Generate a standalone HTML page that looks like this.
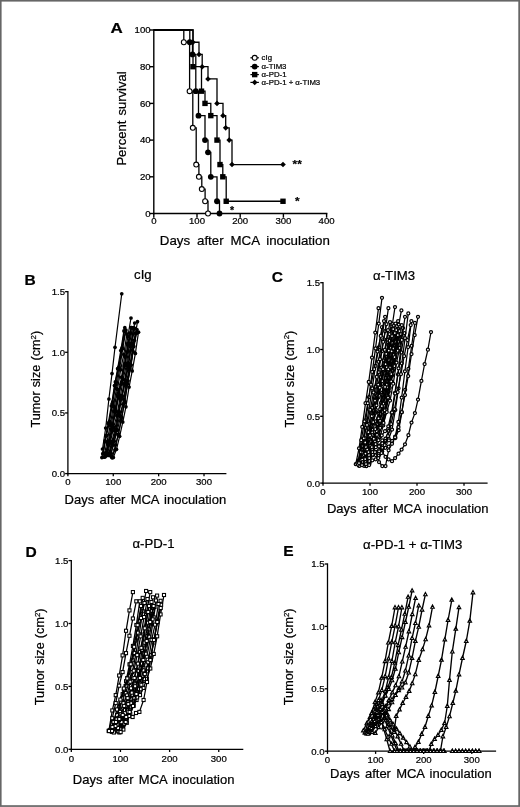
<!DOCTYPE html>
<html><head><meta charset="utf-8"><title>Figure</title>
<style>
html,body{margin:0;padding:0;background:#fff;}
#fig{position:relative;width:520px;height:807px;background:#fff;overflow:hidden;}
svg{position:absolute;left:0;top:0;font-family:"Liberation Sans", Arial, sans-serif;}
svg text{fill:#000;stroke:#000;stroke-width:0.22px;}
</style></head><body>
<div id="fig">
<svg width="520" height="807" viewBox="0 0 520 807">
<rect x="0" y="0" width="520" height="807" fill="#fff"/>
<rect x="0.75" y="0.75" width="518.4" height="805.3" fill="none" stroke="#666" stroke-width="1.7"/>
<line x1="153.80" y1="29.20" x2="153.80" y2="214.30" stroke="#000" stroke-width="1.4"/>
<line x1="153.00" y1="213.50" x2="327.40" y2="213.50" stroke="#000" stroke-width="1.4"/>
<line x1="149.60" y1="213.50" x2="153.80" y2="213.50" stroke="#000" stroke-width="1.4"/>
<text x="150.60" y="216.80" font-size="9.6" text-anchor="end" font-weight="normal" >0</text>
<line x1="149.60" y1="176.80" x2="153.80" y2="176.80" stroke="#000" stroke-width="1.4"/>
<text x="150.60" y="180.10" font-size="9.6" text-anchor="end" font-weight="normal" >20</text>
<line x1="149.60" y1="140.10" x2="153.80" y2="140.10" stroke="#000" stroke-width="1.4"/>
<text x="150.60" y="143.40" font-size="9.6" text-anchor="end" font-weight="normal" >40</text>
<line x1="149.60" y1="103.40" x2="153.80" y2="103.40" stroke="#000" stroke-width="1.4"/>
<text x="150.60" y="106.70" font-size="9.6" text-anchor="end" font-weight="normal" >60</text>
<line x1="149.60" y1="66.70" x2="153.80" y2="66.70" stroke="#000" stroke-width="1.4"/>
<text x="150.60" y="70.00" font-size="9.6" text-anchor="end" font-weight="normal" >80</text>
<line x1="149.60" y1="30.00" x2="153.80" y2="30.00" stroke="#000" stroke-width="1.4"/>
<text x="150.60" y="33.30" font-size="9.6" text-anchor="end" font-weight="normal" >100</text>
<line x1="153.80" y1="213.50" x2="153.80" y2="217.70" stroke="#000" stroke-width="1.4"/>
<text x="153.80" y="224.40" font-size="9.6" text-anchor="middle" font-weight="normal" >0</text>
<line x1="197.00" y1="213.50" x2="197.00" y2="217.70" stroke="#000" stroke-width="1.4"/>
<text x="197.00" y="224.40" font-size="9.6" text-anchor="middle" font-weight="normal" >100</text>
<line x1="240.20" y1="213.50" x2="240.20" y2="217.70" stroke="#000" stroke-width="1.4"/>
<text x="240.20" y="224.40" font-size="9.6" text-anchor="middle" font-weight="normal" >200</text>
<line x1="283.40" y1="213.50" x2="283.40" y2="217.70" stroke="#000" stroke-width="1.4"/>
<text x="283.40" y="224.40" font-size="9.6" text-anchor="middle" font-weight="normal" >300</text>
<line x1="326.60" y1="213.50" x2="326.60" y2="217.70" stroke="#000" stroke-width="1.4"/>
<text x="326.60" y="224.40" font-size="9.6" text-anchor="middle" font-weight="normal" >400</text>
<text x="244.80" y="245.40" font-size="13.3" text-anchor="middle" font-weight="normal" word-spacing="3.2">Days after MCA inoculation</text>
<text transform="translate(126.40,118.50) rotate(-90)" font-size="13" text-anchor="middle" word-spacing="1.6">Percent survival</text>
<text transform="translate(110.6,33.2) scale(1.13,1)" font-size="15" font-weight="bold">A</text>
<path d="M153.80,30.00 H183.80 V42.23 H189.60 V91.17 H192.80 V127.87 H196.20 V164.57 H198.90 V176.80 H201.80 V189.03 H205.10 V201.27 H208.00 V213.50" fill="none" stroke="#000" stroke-width="1.3" stroke-linejoin="miter"/>
<circle cx="183.80" cy="42.23" r="2.45" fill="#fff" stroke="#000" stroke-width="1.1"/>
<circle cx="189.60" cy="91.17" r="2.45" fill="#fff" stroke="#000" stroke-width="1.1"/>
<circle cx="192.80" cy="127.87" r="2.45" fill="#fff" stroke="#000" stroke-width="1.1"/>
<circle cx="196.20" cy="164.57" r="2.45" fill="#fff" stroke="#000" stroke-width="1.1"/>
<circle cx="198.90" cy="176.80" r="2.45" fill="#fff" stroke="#000" stroke-width="1.1"/>
<circle cx="201.80" cy="189.03" r="2.45" fill="#fff" stroke="#000" stroke-width="1.1"/>
<circle cx="205.10" cy="201.27" r="2.45" fill="#fff" stroke="#000" stroke-width="1.1"/>
<circle cx="208.00" cy="213.50" r="2.45" fill="#fff" stroke="#000" stroke-width="1.1"/>
<path d="M153.80,30.00 H189.80 V42.23 H192.50 V54.47 H195.80 V91.17 H198.50 V115.63 H205.00 V140.10 H208.00 V152.33 H210.80 V176.80 H217.00 V201.27 H219.50 V213.50" fill="none" stroke="#000" stroke-width="1.3" stroke-linejoin="miter"/>
<circle cx="189.80" cy="42.23" r="2.9" fill="#000"/>
<circle cx="192.50" cy="54.47" r="2.9" fill="#000"/>
<circle cx="195.80" cy="91.17" r="2.9" fill="#000"/>
<circle cx="198.50" cy="115.63" r="2.9" fill="#000"/>
<circle cx="205.00" cy="140.10" r="2.9" fill="#000"/>
<circle cx="208.00" cy="152.33" r="2.9" fill="#000"/>
<circle cx="210.80" cy="176.80" r="2.9" fill="#000"/>
<circle cx="217.00" cy="201.27" r="2.9" fill="#000"/>
<circle cx="219.50" cy="213.50" r="2.9" fill="#000"/>
<path d="M153.80,30.00 H193.00 V66.70 H201.50 V91.17 H205.00 V103.40 H210.80 V115.63 H217.00 V140.10 H220.00 V164.57 H222.80 V176.80 H226.20 V201.27 H283.00" fill="none" stroke="#000" stroke-width="1.3" stroke-linejoin="miter"/>
<rect x="190.30" y="64.00" width="5.4" height="5.4" fill="#000"/>
<rect x="198.80" y="88.47" width="5.4" height="5.4" fill="#000"/>
<rect x="202.30" y="100.70" width="5.4" height="5.4" fill="#000"/>
<rect x="208.10" y="112.93" width="5.4" height="5.4" fill="#000"/>
<rect x="214.30" y="137.40" width="5.4" height="5.4" fill="#000"/>
<rect x="217.30" y="161.87" width="5.4" height="5.4" fill="#000"/>
<rect x="220.10" y="174.10" width="5.4" height="5.4" fill="#000"/>
<rect x="223.50" y="198.57" width="5.4" height="5.4" fill="#000"/>
<rect x="280.30" y="198.57" width="5.4" height="5.4" fill="#000"/>
<path d="M153.80,30.00 H193.00 V42.23 H199.00 V54.47 H202.20 V66.70 H208.00 V78.93 H217.00 V103.40 H223.00 V115.63 H225.70 V127.87 H229.20 V140.10 H232.00 V164.57 H283.00" fill="none" stroke="#000" stroke-width="1.3" stroke-linejoin="miter"/>
<path d="M190.20,42.23 L193.00,39.43 L195.80,42.23 L193.00,45.03Z" fill="#000"/>
<path d="M196.20,54.47 L199.00,51.67 L201.80,54.47 L199.00,57.27Z" fill="#000"/>
<path d="M199.40,66.70 L202.20,63.90 L205.00,66.70 L202.20,69.50Z" fill="#000"/>
<path d="M205.20,78.93 L208.00,76.13 L210.80,78.93 L208.00,81.73Z" fill="#000"/>
<path d="M214.20,103.40 L217.00,100.60 L219.80,103.40 L217.00,106.20Z" fill="#000"/>
<path d="M220.20,115.63 L223.00,112.83 L225.80,115.63 L223.00,118.43Z" fill="#000"/>
<path d="M222.90,127.87 L225.70,125.07 L228.50,127.87 L225.70,130.67Z" fill="#000"/>
<path d="M226.40,140.10 L229.20,137.30 L232.00,140.10 L229.20,142.90Z" fill="#000"/>
<path d="M229.20,164.57 L232.00,161.77 L234.80,164.57 L232.00,167.37Z" fill="#000"/>
<path d="M280.20,164.57 L283.00,161.77 L285.80,164.57 L283.00,167.37Z" fill="#000"/>
<line x1="250.40" y1="57.80" x2="258.90" y2="57.80" stroke="#000" stroke-width="1.2"/>
<circle cx="254.70" cy="57.80" r="2.45" fill="#fff" stroke="#000" stroke-width="1.1"/>
<text x="261.60" y="60.40" font-size="7.8" text-anchor="start" font-weight="normal" >cIg</text>
<line x1="250.40" y1="66.60" x2="258.90" y2="66.60" stroke="#000" stroke-width="1.2"/>
<circle cx="254.70" cy="66.60" r="2.9" fill="#000"/>
<text x="261.60" y="69.20" font-size="7.8" text-anchor="start" font-weight="normal" >α-TIM3</text>
<line x1="250.40" y1="74.60" x2="258.90" y2="74.60" stroke="#000" stroke-width="1.2"/>
<rect x="252.00" y="71.90" width="5.4" height="5.4" fill="#000"/>
<text x="261.60" y="77.20" font-size="7.8" text-anchor="start" font-weight="normal" >α-PD-1</text>
<line x1="250.40" y1="82.40" x2="258.90" y2="82.40" stroke="#000" stroke-width="1.2"/>
<path d="M251.90,82.40 L254.70,79.60 L257.50,82.40 L254.70,85.20Z" fill="#000"/>
<text x="261.60" y="85.00" font-size="7.8" text-anchor="start" font-weight="normal" >α-PD-1 + α-TIM3</text>
<text x="292.60" y="167.70" font-size="11.8" text-anchor="start" font-weight="bold" >**</text>
<text x="295.00" y="204.60" font-size="11.8" text-anchor="start" font-weight="bold" >*</text>
<text x="230.00" y="214.30" font-size="10.5" text-anchor="start" font-weight="bold" >*</text>
<line x1="67.90" y1="291.05" x2="67.90" y2="474.20" stroke="#000" stroke-width="1.3"/>
<line x1="67.30" y1="473.60" x2="226.40" y2="473.60" stroke="#000" stroke-width="1.3"/>
<line x1="65.10" y1="473.60" x2="67.90" y2="473.60" stroke="#000" stroke-width="1.3"/>
<text x="65.00" y="477.00" font-size="9.6" text-anchor="end" font-weight="normal" >0.0</text>
<line x1="65.10" y1="412.95" x2="67.90" y2="412.95" stroke="#000" stroke-width="1.3"/>
<text x="65.00" y="416.35" font-size="9.6" text-anchor="end" font-weight="normal" >0.5</text>
<line x1="65.10" y1="352.30" x2="67.90" y2="352.30" stroke="#000" stroke-width="1.3"/>
<text x="65.00" y="355.70" font-size="9.6" text-anchor="end" font-weight="normal" >1.0</text>
<line x1="65.10" y1="291.65" x2="67.90" y2="291.65" stroke="#000" stroke-width="1.3"/>
<text x="65.00" y="295.05" font-size="9.6" text-anchor="end" font-weight="normal" >1.5</text>
<line x1="67.90" y1="473.60" x2="67.90" y2="476.30" stroke="#000" stroke-width="1.3"/>
<text x="67.90" y="484.90" font-size="9.6" text-anchor="middle" font-weight="normal" >0</text>
<line x1="113.27" y1="473.60" x2="113.27" y2="476.30" stroke="#000" stroke-width="1.3"/>
<text x="113.27" y="484.90" font-size="9.6" text-anchor="middle" font-weight="normal" >100</text>
<line x1="158.64" y1="473.60" x2="158.64" y2="476.30" stroke="#000" stroke-width="1.3"/>
<text x="158.64" y="484.90" font-size="9.6" text-anchor="middle" font-weight="normal" >200</text>
<line x1="204.01" y1="473.60" x2="204.01" y2="476.30" stroke="#000" stroke-width="1.3"/>
<text x="204.01" y="484.90" font-size="9.6" text-anchor="middle" font-weight="normal" >300</text>
<text x="142.90" y="279.20" font-size="13.2" text-anchor="middle" font-weight="normal" >cIg</text>
<text transform="translate(24.60,285.20) scale(1.08,1)" font-size="14.4" font-weight="bold">B</text>
<text transform="translate(40.10,379.20) rotate(-90)" font-size="12.7" text-anchor="middle" word-spacing="0.6">Tumor size (cm<tspan font-size="7.8" dy="-4.6">2</tspan><tspan dy="4.6">)</tspan></text>
<text x="64.60" y="503.60" font-size="13" text-anchor="start" font-weight="normal" word-spacing="1.6">Days after MCA inoculation</text>
<path d="M102.50,449.00 L105.70,428.00 L108.90,399.00 L112.00,373.60 L115.00,347.30 L121.75,293.75" fill="none" stroke="#000" stroke-width="1.2" stroke-linejoin="round"/>
<circle cx="102.50" cy="449.00" r="1.85" fill="#000"/>
<circle cx="105.70" cy="428.00" r="1.85" fill="#000"/>
<circle cx="108.90" cy="399.00" r="1.85" fill="#000"/>
<circle cx="112.00" cy="373.60" r="1.85" fill="#000"/>
<circle cx="115.00" cy="347.30" r="1.85" fill="#000"/>
<circle cx="121.75" cy="293.75" r="1.85" fill="#000"/>
<path d="M101.87,457.55 L105.02,440.96 L108.17,423.60 L111.32,405.96 L114.47,385.61 L117.62,368.67 L120.77,350.49 L123.92,330.92" fill="none" stroke="#000" stroke-width="1.2" stroke-linejoin="round"/>
<circle cx="101.87" cy="457.55" r="1.85" fill="#000"/>
<circle cx="105.02" cy="440.96" r="1.85" fill="#000"/>
<circle cx="108.17" cy="423.60" r="1.85" fill="#000"/>
<circle cx="111.32" cy="405.96" r="1.85" fill="#000"/>
<circle cx="114.47" cy="385.61" r="1.85" fill="#000"/>
<circle cx="117.62" cy="368.67" r="1.85" fill="#000"/>
<circle cx="120.77" cy="350.49" r="1.85" fill="#000"/>
<circle cx="123.92" cy="330.92" r="1.85" fill="#000"/>
<path d="M102.75,453.82 L105.90,435.79 L109.05,422.01 L112.20,403.48 L115.35,381.89 L118.50,367.97 L121.65,349.03 L124.80,327.66" fill="none" stroke="#000" stroke-width="1.2" stroke-linejoin="round"/>
<circle cx="102.75" cy="453.82" r="1.85" fill="#000"/>
<circle cx="105.90" cy="435.79" r="1.85" fill="#000"/>
<circle cx="109.05" cy="422.01" r="1.85" fill="#000"/>
<circle cx="112.20" cy="403.48" r="1.85" fill="#000"/>
<circle cx="115.35" cy="381.89" r="1.85" fill="#000"/>
<circle cx="118.50" cy="367.97" r="1.85" fill="#000"/>
<circle cx="121.65" cy="349.03" r="1.85" fill="#000"/>
<circle cx="124.80" cy="327.66" r="1.85" fill="#000"/>
<path d="M103.33,452.94 L106.48,435.46 L109.63,421.39 L112.78,401.76 L115.93,384.69 L119.08,366.89 L122.23,347.51 L125.38,331.31" fill="none" stroke="#000" stroke-width="1.2" stroke-linejoin="round"/>
<circle cx="103.33" cy="452.94" r="1.85" fill="#000"/>
<circle cx="106.48" cy="435.46" r="1.85" fill="#000"/>
<circle cx="109.63" cy="421.39" r="1.85" fill="#000"/>
<circle cx="112.78" cy="401.76" r="1.85" fill="#000"/>
<circle cx="115.93" cy="384.69" r="1.85" fill="#000"/>
<circle cx="119.08" cy="366.89" r="1.85" fill="#000"/>
<circle cx="122.23" cy="347.51" r="1.85" fill="#000"/>
<circle cx="125.38" cy="331.31" r="1.85" fill="#000"/>
<path d="M103.89,457.05 L107.04,441.79 L110.19,425.16 L113.34,406.43 L116.49,388.69 L119.64,368.71 L122.79,348.53 L125.94,330.08" fill="none" stroke="#000" stroke-width="1.2" stroke-linejoin="round"/>
<circle cx="103.89" cy="457.05" r="1.85" fill="#000"/>
<circle cx="107.04" cy="441.79" r="1.85" fill="#000"/>
<circle cx="110.19" cy="425.16" r="1.85" fill="#000"/>
<circle cx="113.34" cy="406.43" r="1.85" fill="#000"/>
<circle cx="116.49" cy="388.69" r="1.85" fill="#000"/>
<circle cx="119.64" cy="368.71" r="1.85" fill="#000"/>
<circle cx="122.79" cy="348.53" r="1.85" fill="#000"/>
<circle cx="125.94" cy="330.08" r="1.85" fill="#000"/>
<path d="M104.88,457.04 L108.03,443.52 L111.18,424.98 L114.33,407.11 L117.48,389.38 L120.63,369.81 L123.78,354.45 L126.93,333.97" fill="none" stroke="#000" stroke-width="1.2" stroke-linejoin="round"/>
<circle cx="104.88" cy="457.04" r="1.85" fill="#000"/>
<circle cx="108.03" cy="443.52" r="1.85" fill="#000"/>
<circle cx="111.18" cy="424.98" r="1.85" fill="#000"/>
<circle cx="114.33" cy="407.11" r="1.85" fill="#000"/>
<circle cx="117.48" cy="389.38" r="1.85" fill="#000"/>
<circle cx="120.63" cy="369.81" r="1.85" fill="#000"/>
<circle cx="123.78" cy="354.45" r="1.85" fill="#000"/>
<circle cx="126.93" cy="333.97" r="1.85" fill="#000"/>
<path d="M105.19,454.32 L108.34,444.51 L111.49,429.96 L114.64,410.91 L117.79,396.58 L120.94,384.28 L124.09,365.93 L127.24,352.03 L130.39,332.93" fill="none" stroke="#000" stroke-width="1.2" stroke-linejoin="round"/>
<circle cx="105.19" cy="454.32" r="1.85" fill="#000"/>
<circle cx="108.34" cy="444.51" r="1.85" fill="#000"/>
<circle cx="111.49" cy="429.96" r="1.85" fill="#000"/>
<circle cx="114.64" cy="410.91" r="1.85" fill="#000"/>
<circle cx="117.79" cy="396.58" r="1.85" fill="#000"/>
<circle cx="120.94" cy="384.28" r="1.85" fill="#000"/>
<circle cx="124.09" cy="365.93" r="1.85" fill="#000"/>
<circle cx="127.24" cy="352.03" r="1.85" fill="#000"/>
<circle cx="130.39" cy="332.93" r="1.85" fill="#000"/>
<path d="M105.86,455.78 L109.01,444.69 L112.16,427.50 L115.31,410.98 L118.46,395.95 L121.61,382.35 L124.76,364.15 L127.91,343.43 L131.06,327.51" fill="none" stroke="#000" stroke-width="1.2" stroke-linejoin="round"/>
<circle cx="105.86" cy="455.78" r="1.85" fill="#000"/>
<circle cx="109.01" cy="444.69" r="1.85" fill="#000"/>
<circle cx="112.16" cy="427.50" r="1.85" fill="#000"/>
<circle cx="115.31" cy="410.98" r="1.85" fill="#000"/>
<circle cx="118.46" cy="395.95" r="1.85" fill="#000"/>
<circle cx="121.61" cy="382.35" r="1.85" fill="#000"/>
<circle cx="124.76" cy="364.15" r="1.85" fill="#000"/>
<circle cx="127.91" cy="343.43" r="1.85" fill="#000"/>
<circle cx="131.06" cy="327.51" r="1.85" fill="#000"/>
<path d="M106.44,452.36 L109.59,442.01 L112.74,424.81 L115.89,411.60 L119.04,395.23 L122.19,377.60 L125.34,363.52 L128.49,343.35 L131.64,327.71" fill="none" stroke="#000" stroke-width="1.2" stroke-linejoin="round"/>
<circle cx="106.44" cy="452.36" r="1.85" fill="#000"/>
<circle cx="109.59" cy="442.01" r="1.85" fill="#000"/>
<circle cx="112.74" cy="424.81" r="1.85" fill="#000"/>
<circle cx="115.89" cy="411.60" r="1.85" fill="#000"/>
<circle cx="119.04" cy="395.23" r="1.85" fill="#000"/>
<circle cx="122.19" cy="377.60" r="1.85" fill="#000"/>
<circle cx="125.34" cy="363.52" r="1.85" fill="#000"/>
<circle cx="128.49" cy="343.35" r="1.85" fill="#000"/>
<circle cx="131.64" cy="327.71" r="1.85" fill="#000"/>
<path d="M107.35,454.52 L110.50,441.35 L113.65,427.43 L116.80,415.63 L119.95,398.71 L123.10,379.54 L126.25,365.28 L129.40,344.32 L132.55,327.82" fill="none" stroke="#000" stroke-width="1.2" stroke-linejoin="round"/>
<circle cx="107.35" cy="454.52" r="1.85" fill="#000"/>
<circle cx="110.50" cy="441.35" r="1.85" fill="#000"/>
<circle cx="113.65" cy="427.43" r="1.85" fill="#000"/>
<circle cx="116.80" cy="415.63" r="1.85" fill="#000"/>
<circle cx="119.95" cy="398.71" r="1.85" fill="#000"/>
<circle cx="123.10" cy="379.54" r="1.85" fill="#000"/>
<circle cx="126.25" cy="365.28" r="1.85" fill="#000"/>
<circle cx="129.40" cy="344.32" r="1.85" fill="#000"/>
<circle cx="132.55" cy="327.82" r="1.85" fill="#000"/>
<path d="M105.80,455.85 L108.95,441.39 L112.10,430.53 L115.25,410.05 L118.40,392.78 L121.55,377.14 L124.70,356.14 L127.85,336.70 L131.00,318.00" fill="none" stroke="#000" stroke-width="1.2" stroke-linejoin="round"/>
<circle cx="105.80" cy="455.85" r="1.85" fill="#000"/>
<circle cx="108.95" cy="441.39" r="1.85" fill="#000"/>
<circle cx="112.10" cy="430.53" r="1.85" fill="#000"/>
<circle cx="115.25" cy="410.05" r="1.85" fill="#000"/>
<circle cx="118.40" cy="392.78" r="1.85" fill="#000"/>
<circle cx="121.55" cy="377.14" r="1.85" fill="#000"/>
<circle cx="124.70" cy="356.14" r="1.85" fill="#000"/>
<circle cx="127.85" cy="336.70" r="1.85" fill="#000"/>
<circle cx="131.00" cy="318.00" r="1.85" fill="#000"/>
<path d="M108.35,455.50 L111.50,442.93 L114.65,430.67 L117.80,414.18 L120.95,398.34 L124.10,383.93 L127.25,364.03 L130.40,346.46 L133.55,327.63" fill="none" stroke="#000" stroke-width="1.2" stroke-linejoin="round"/>
<circle cx="108.35" cy="455.50" r="1.85" fill="#000"/>
<circle cx="111.50" cy="442.93" r="1.85" fill="#000"/>
<circle cx="114.65" cy="430.67" r="1.85" fill="#000"/>
<circle cx="117.80" cy="414.18" r="1.85" fill="#000"/>
<circle cx="120.95" cy="398.34" r="1.85" fill="#000"/>
<circle cx="124.10" cy="383.93" r="1.85" fill="#000"/>
<circle cx="127.25" cy="364.03" r="1.85" fill="#000"/>
<circle cx="130.40" cy="346.46" r="1.85" fill="#000"/>
<circle cx="133.55" cy="327.63" r="1.85" fill="#000"/>
<path d="M109.50,452.92 L112.65,444.24 L115.80,430.21 L118.95,412.47 L122.10,396.34 L125.25,382.52 L128.40,366.35 L131.55,344.93 L134.70,328.28" fill="none" stroke="#000" stroke-width="1.2" stroke-linejoin="round"/>
<circle cx="109.50" cy="452.92" r="1.85" fill="#000"/>
<circle cx="112.65" cy="444.24" r="1.85" fill="#000"/>
<circle cx="115.80" cy="430.21" r="1.85" fill="#000"/>
<circle cx="118.95" cy="412.47" r="1.85" fill="#000"/>
<circle cx="122.10" cy="396.34" r="1.85" fill="#000"/>
<circle cx="125.25" cy="382.52" r="1.85" fill="#000"/>
<circle cx="128.40" cy="366.35" r="1.85" fill="#000"/>
<circle cx="131.55" cy="344.93" r="1.85" fill="#000"/>
<circle cx="134.70" cy="328.28" r="1.85" fill="#000"/>
<path d="M110.22,455.62 L113.37,444.94 L116.52,430.16 L119.67,415.25 L122.82,404.31 L125.97,384.36 L129.12,369.72 L132.27,349.97 L135.42,333.18" fill="none" stroke="#000" stroke-width="1.2" stroke-linejoin="round"/>
<circle cx="110.22" cy="455.62" r="1.85" fill="#000"/>
<circle cx="113.37" cy="444.94" r="1.85" fill="#000"/>
<circle cx="116.52" cy="430.16" r="1.85" fill="#000"/>
<circle cx="119.67" cy="415.25" r="1.85" fill="#000"/>
<circle cx="122.82" cy="404.31" r="1.85" fill="#000"/>
<circle cx="125.97" cy="384.36" r="1.85" fill="#000"/>
<circle cx="129.12" cy="369.72" r="1.85" fill="#000"/>
<circle cx="132.27" cy="349.97" r="1.85" fill="#000"/>
<circle cx="135.42" cy="333.18" r="1.85" fill="#000"/>
<path d="M109.50,453.76 L112.65,441.42 L115.80,430.19 L118.95,411.42 L122.10,395.60 L125.25,379.77 L128.40,363.01 L131.55,342.98 L134.70,323.00" fill="none" stroke="#000" stroke-width="1.2" stroke-linejoin="round"/>
<circle cx="109.50" cy="453.76" r="1.85" fill="#000"/>
<circle cx="112.65" cy="441.42" r="1.85" fill="#000"/>
<circle cx="115.80" cy="430.19" r="1.85" fill="#000"/>
<circle cx="118.95" cy="411.42" r="1.85" fill="#000"/>
<circle cx="122.10" cy="395.60" r="1.85" fill="#000"/>
<circle cx="125.25" cy="379.77" r="1.85" fill="#000"/>
<circle cx="128.40" cy="363.01" r="1.85" fill="#000"/>
<circle cx="131.55" cy="342.98" r="1.85" fill="#000"/>
<circle cx="134.70" cy="323.00" r="1.85" fill="#000"/>
<path d="M111.16,453.22 L114.31,441.22 L117.46,429.83 L120.61,416.56 L123.76,399.41 L126.91,383.92 L130.06,368.10 L133.21,351.72 L136.36,333.42" fill="none" stroke="#000" stroke-width="1.2" stroke-linejoin="round"/>
<circle cx="111.16" cy="453.22" r="1.85" fill="#000"/>
<circle cx="114.31" cy="441.22" r="1.85" fill="#000"/>
<circle cx="117.46" cy="429.83" r="1.85" fill="#000"/>
<circle cx="120.61" cy="416.56" r="1.85" fill="#000"/>
<circle cx="123.76" cy="399.41" r="1.85" fill="#000"/>
<circle cx="126.91" cy="383.92" r="1.85" fill="#000"/>
<circle cx="130.06" cy="368.10" r="1.85" fill="#000"/>
<circle cx="133.21" cy="351.72" r="1.85" fill="#000"/>
<circle cx="136.36" cy="333.42" r="1.85" fill="#000"/>
<path d="M111.74,457.35 L114.89,449.77 L118.04,434.79 L121.19,419.92 L124.34,403.15 L127.49,383.73 L130.64,365.21 L133.79,346.43 L136.94,329.54" fill="none" stroke="#000" stroke-width="1.2" stroke-linejoin="round"/>
<circle cx="111.74" cy="457.35" r="1.85" fill="#000"/>
<circle cx="114.89" cy="449.77" r="1.85" fill="#000"/>
<circle cx="118.04" cy="434.79" r="1.85" fill="#000"/>
<circle cx="121.19" cy="419.92" r="1.85" fill="#000"/>
<circle cx="124.34" cy="403.15" r="1.85" fill="#000"/>
<circle cx="127.49" cy="383.73" r="1.85" fill="#000"/>
<circle cx="130.64" cy="365.21" r="1.85" fill="#000"/>
<circle cx="133.79" cy="346.43" r="1.85" fill="#000"/>
<circle cx="136.94" cy="329.54" r="1.85" fill="#000"/>
<path d="M112.30,457.78 L115.45,445.02 L118.60,434.01 L121.75,417.29 L124.90,401.25 L128.05,380.83 L131.20,364.98 L134.35,340.31 L137.50,321.70" fill="none" stroke="#000" stroke-width="1.2" stroke-linejoin="round"/>
<circle cx="112.30" cy="457.78" r="1.85" fill="#000"/>
<circle cx="115.45" cy="445.02" r="1.85" fill="#000"/>
<circle cx="118.60" cy="434.01" r="1.85" fill="#000"/>
<circle cx="121.75" cy="417.29" r="1.85" fill="#000"/>
<circle cx="124.90" cy="401.25" r="1.85" fill="#000"/>
<circle cx="128.05" cy="380.83" r="1.85" fill="#000"/>
<circle cx="131.20" cy="364.98" r="1.85" fill="#000"/>
<circle cx="134.35" cy="340.31" r="1.85" fill="#000"/>
<circle cx="137.50" cy="321.70" r="1.85" fill="#000"/>
<path d="M113.33,457.40 L116.48,449.28 L119.63,436.28 L122.78,422.11 L125.93,406.82 L129.08,387.06 L132.23,370.91 L135.38,353.42 L138.53,332.16" fill="none" stroke="#000" stroke-width="1.2" stroke-linejoin="round"/>
<circle cx="113.33" cy="457.40" r="1.85" fill="#000"/>
<circle cx="116.48" cy="449.28" r="1.85" fill="#000"/>
<circle cx="119.63" cy="436.28" r="1.85" fill="#000"/>
<circle cx="122.78" cy="422.11" r="1.85" fill="#000"/>
<circle cx="125.93" cy="406.82" r="1.85" fill="#000"/>
<circle cx="129.08" cy="387.06" r="1.85" fill="#000"/>
<circle cx="132.23" cy="370.91" r="1.85" fill="#000"/>
<circle cx="135.38" cy="353.42" r="1.85" fill="#000"/>
<circle cx="138.53" cy="332.16" r="1.85" fill="#000"/>
<line x1="323.00" y1="282.10" x2="323.00" y2="483.70" stroke="#000" stroke-width="1.3"/>
<line x1="322.40" y1="483.10" x2="487.60" y2="483.10" stroke="#000" stroke-width="1.3"/>
<line x1="320.20" y1="483.10" x2="323.00" y2="483.10" stroke="#000" stroke-width="1.3"/>
<text x="320.10" y="486.50" font-size="9.6" text-anchor="end" font-weight="normal" >0.0</text>
<line x1="320.20" y1="416.30" x2="323.00" y2="416.30" stroke="#000" stroke-width="1.3"/>
<text x="320.10" y="419.70" font-size="9.6" text-anchor="end" font-weight="normal" >0.5</text>
<line x1="320.20" y1="349.50" x2="323.00" y2="349.50" stroke="#000" stroke-width="1.3"/>
<text x="320.10" y="352.90" font-size="9.6" text-anchor="end" font-weight="normal" >1.0</text>
<line x1="320.20" y1="282.70" x2="323.00" y2="282.70" stroke="#000" stroke-width="1.3"/>
<text x="320.10" y="286.10" font-size="9.6" text-anchor="end" font-weight="normal" >1.5</text>
<line x1="323.00" y1="483.10" x2="323.00" y2="485.80" stroke="#000" stroke-width="1.3"/>
<text x="323.00" y="495.00" font-size="9.6" text-anchor="middle" font-weight="normal" >0</text>
<line x1="370.00" y1="483.10" x2="370.00" y2="485.80" stroke="#000" stroke-width="1.3"/>
<text x="370.00" y="495.00" font-size="9.6" text-anchor="middle" font-weight="normal" >100</text>
<line x1="417.00" y1="483.10" x2="417.00" y2="485.80" stroke="#000" stroke-width="1.3"/>
<text x="417.00" y="495.00" font-size="9.6" text-anchor="middle" font-weight="normal" >200</text>
<line x1="464.00" y1="483.10" x2="464.00" y2="485.80" stroke="#000" stroke-width="1.3"/>
<text x="464.00" y="495.00" font-size="9.6" text-anchor="middle" font-weight="normal" >300</text>
<text x="394.10" y="280.00" font-size="13.2" text-anchor="middle" font-weight="normal" >α-TIM3</text>
<text transform="translate(271.80,282.30) scale(1.08,1)" font-size="14.4" font-weight="bold">C</text>
<text transform="translate(293.80,379.10) rotate(-90)" font-size="12.7" text-anchor="middle" word-spacing="0.6">Tumor size (cm<tspan font-size="7.8" dy="-4.6">2</tspan><tspan dy="4.6">)</tspan></text>
<text x="326.90" y="513.30" font-size="13" text-anchor="start" font-weight="normal" word-spacing="1.6">Days after MCA inoculation</text>
<path d="M359.25,462.71 L362.50,444.29 L365.75,420.35 L369.00,397.19 L372.25,371.92 L375.50,348.39 L378.75,323.59 L382.00,297.80" fill="none" stroke="#000" stroke-width="1.25" stroke-linejoin="round"/>
<circle cx="359.25" cy="462.71" r="1.5" fill="#fff" stroke="#000" stroke-width="1.25"/>
<circle cx="362.50" cy="444.29" r="1.5" fill="#fff" stroke="#000" stroke-width="1.25"/>
<circle cx="365.75" cy="420.35" r="1.5" fill="#fff" stroke="#000" stroke-width="1.25"/>
<circle cx="369.00" cy="397.19" r="1.5" fill="#fff" stroke="#000" stroke-width="1.25"/>
<circle cx="372.25" cy="371.92" r="1.5" fill="#fff" stroke="#000" stroke-width="1.25"/>
<circle cx="375.50" cy="348.39" r="1.5" fill="#fff" stroke="#000" stroke-width="1.25"/>
<circle cx="378.75" cy="323.59" r="1.5" fill="#fff" stroke="#000" stroke-width="1.25"/>
<circle cx="382.00" cy="297.80" r="1.5" fill="#fff" stroke="#000" stroke-width="1.25"/>
<path d="M355.75,464.16 L359.00,448.37 L362.25,426.89 L365.50,403.15 L368.75,381.94 L372.00,357.52 L375.25,332.61 L378.50,308.20" fill="none" stroke="#000" stroke-width="1.25" stroke-linejoin="round"/>
<circle cx="355.75" cy="464.16" r="1.5" fill="#fff" stroke="#000" stroke-width="1.25"/>
<circle cx="359.00" cy="448.37" r="1.5" fill="#fff" stroke="#000" stroke-width="1.25"/>
<circle cx="362.25" cy="426.89" r="1.5" fill="#fff" stroke="#000" stroke-width="1.25"/>
<circle cx="365.50" cy="403.15" r="1.5" fill="#fff" stroke="#000" stroke-width="1.25"/>
<circle cx="368.75" cy="381.94" r="1.5" fill="#fff" stroke="#000" stroke-width="1.25"/>
<circle cx="372.00" cy="357.52" r="1.5" fill="#fff" stroke="#000" stroke-width="1.25"/>
<circle cx="375.25" cy="332.61" r="1.5" fill="#fff" stroke="#000" stroke-width="1.25"/>
<circle cx="378.50" cy="308.20" r="1.5" fill="#fff" stroke="#000" stroke-width="1.25"/>
<path d="M362.40,460.54 L365.65,447.43 L368.90,432.08 L372.15,412.93 L375.40,394.12 L378.65,372.03 L381.90,351.22 L385.15,331.16 L388.40,308.20" fill="none" stroke="#000" stroke-width="1.25" stroke-linejoin="round"/>
<circle cx="362.40" cy="460.54" r="1.5" fill="#fff" stroke="#000" stroke-width="1.25"/>
<circle cx="365.65" cy="447.43" r="1.5" fill="#fff" stroke="#000" stroke-width="1.25"/>
<circle cx="368.90" cy="432.08" r="1.5" fill="#fff" stroke="#000" stroke-width="1.25"/>
<circle cx="372.15" cy="412.93" r="1.5" fill="#fff" stroke="#000" stroke-width="1.25"/>
<circle cx="375.40" cy="394.12" r="1.5" fill="#fff" stroke="#000" stroke-width="1.25"/>
<circle cx="378.65" cy="372.03" r="1.5" fill="#fff" stroke="#000" stroke-width="1.25"/>
<circle cx="381.90" cy="351.22" r="1.5" fill="#fff" stroke="#000" stroke-width="1.25"/>
<circle cx="385.15" cy="331.16" r="1.5" fill="#fff" stroke="#000" stroke-width="1.25"/>
<circle cx="388.40" cy="308.20" r="1.5" fill="#fff" stroke="#000" stroke-width="1.25"/>
<path d="M359.25,460.07 L362.50,451.19 L365.75,443.36 L369.00,438.61 L372.25,429.93 L375.50,421.36 L378.75,412.43 L382.00,392.89 L385.25,372.96 L388.50,349.32 L391.75,328.49 L395.00,307.00" fill="none" stroke="#000" stroke-width="1.25" stroke-linejoin="round"/>
<circle cx="359.25" cy="460.07" r="1.5" fill="#fff" stroke="#000" stroke-width="1.25"/>
<circle cx="362.50" cy="451.19" r="1.5" fill="#fff" stroke="#000" stroke-width="1.25"/>
<circle cx="365.75" cy="443.36" r="1.5" fill="#fff" stroke="#000" stroke-width="1.25"/>
<circle cx="369.00" cy="438.61" r="1.5" fill="#fff" stroke="#000" stroke-width="1.25"/>
<circle cx="372.25" cy="429.93" r="1.5" fill="#fff" stroke="#000" stroke-width="1.25"/>
<circle cx="375.50" cy="421.36" r="1.5" fill="#fff" stroke="#000" stroke-width="1.25"/>
<circle cx="378.75" cy="412.43" r="1.5" fill="#fff" stroke="#000" stroke-width="1.25"/>
<circle cx="382.00" cy="392.89" r="1.5" fill="#fff" stroke="#000" stroke-width="1.25"/>
<circle cx="385.25" cy="372.96" r="1.5" fill="#fff" stroke="#000" stroke-width="1.25"/>
<circle cx="388.50" cy="349.32" r="1.5" fill="#fff" stroke="#000" stroke-width="1.25"/>
<circle cx="391.75" cy="328.49" r="1.5" fill="#fff" stroke="#000" stroke-width="1.25"/>
<circle cx="395.00" cy="307.00" r="1.5" fill="#fff" stroke="#000" stroke-width="1.25"/>
<path d="M365.65,465.94 L368.90,458.25 L372.15,449.15 L375.40,440.41 L378.65,433.82 L381.90,424.51 L385.15,408.41 L388.40,388.69 L391.65,370.28 L394.90,348.23 L398.15,328.44 L401.40,310.40" fill="none" stroke="#000" stroke-width="1.25" stroke-linejoin="round"/>
<circle cx="365.65" cy="465.94" r="1.5" fill="#fff" stroke="#000" stroke-width="1.25"/>
<circle cx="368.90" cy="458.25" r="1.5" fill="#fff" stroke="#000" stroke-width="1.25"/>
<circle cx="372.15" cy="449.15" r="1.5" fill="#fff" stroke="#000" stroke-width="1.25"/>
<circle cx="375.40" cy="440.41" r="1.5" fill="#fff" stroke="#000" stroke-width="1.25"/>
<circle cx="378.65" cy="433.82" r="1.5" fill="#fff" stroke="#000" stroke-width="1.25"/>
<circle cx="381.90" cy="424.51" r="1.5" fill="#fff" stroke="#000" stroke-width="1.25"/>
<circle cx="385.15" cy="408.41" r="1.5" fill="#fff" stroke="#000" stroke-width="1.25"/>
<circle cx="388.40" cy="388.69" r="1.5" fill="#fff" stroke="#000" stroke-width="1.25"/>
<circle cx="391.65" cy="370.28" r="1.5" fill="#fff" stroke="#000" stroke-width="1.25"/>
<circle cx="394.90" cy="348.23" r="1.5" fill="#fff" stroke="#000" stroke-width="1.25"/>
<circle cx="398.15" cy="328.44" r="1.5" fill="#fff" stroke="#000" stroke-width="1.25"/>
<circle cx="401.40" cy="310.40" r="1.5" fill="#fff" stroke="#000" stroke-width="1.25"/>
<path d="M359.10,461.79 L362.35,450.58 L365.60,438.35 L368.85,424.01 L372.10,407.83 L375.35,386.59 L378.60,361.85 L381.85,337.72 L385.10,316.80" fill="none" stroke="#000" stroke-width="1.25" stroke-linejoin="round"/>
<circle cx="359.10" cy="461.79" r="1.5" fill="#fff" stroke="#000" stroke-width="1.25"/>
<circle cx="362.35" cy="450.58" r="1.5" fill="#fff" stroke="#000" stroke-width="1.25"/>
<circle cx="365.60" cy="438.35" r="1.5" fill="#fff" stroke="#000" stroke-width="1.25"/>
<circle cx="368.85" cy="424.01" r="1.5" fill="#fff" stroke="#000" stroke-width="1.25"/>
<circle cx="372.10" cy="407.83" r="1.5" fill="#fff" stroke="#000" stroke-width="1.25"/>
<circle cx="375.35" cy="386.59" r="1.5" fill="#fff" stroke="#000" stroke-width="1.25"/>
<circle cx="378.60" cy="361.85" r="1.5" fill="#fff" stroke="#000" stroke-width="1.25"/>
<circle cx="381.85" cy="337.72" r="1.5" fill="#fff" stroke="#000" stroke-width="1.25"/>
<circle cx="385.10" cy="316.80" r="1.5" fill="#fff" stroke="#000" stroke-width="1.25"/>
<path d="M359.10,465.67 L362.35,460.01 L365.60,453.01 L368.85,448.99 L372.10,439.95 L375.35,434.47 L378.60,429.80 L381.85,420.53 L385.10,410.42 L388.35,387.97 L391.60,364.95 L394.85,341.93 L398.10,321.10" fill="none" stroke="#000" stroke-width="1.25" stroke-linejoin="round"/>
<circle cx="359.10" cy="465.67" r="1.5" fill="#fff" stroke="#000" stroke-width="1.25"/>
<circle cx="362.35" cy="460.01" r="1.5" fill="#fff" stroke="#000" stroke-width="1.25"/>
<circle cx="365.60" cy="453.01" r="1.5" fill="#fff" stroke="#000" stroke-width="1.25"/>
<circle cx="368.85" cy="448.99" r="1.5" fill="#fff" stroke="#000" stroke-width="1.25"/>
<circle cx="372.10" cy="439.95" r="1.5" fill="#fff" stroke="#000" stroke-width="1.25"/>
<circle cx="375.35" cy="434.47" r="1.5" fill="#fff" stroke="#000" stroke-width="1.25"/>
<circle cx="378.60" cy="429.80" r="1.5" fill="#fff" stroke="#000" stroke-width="1.25"/>
<circle cx="381.85" cy="420.53" r="1.5" fill="#fff" stroke="#000" stroke-width="1.25"/>
<circle cx="385.10" cy="410.42" r="1.5" fill="#fff" stroke="#000" stroke-width="1.25"/>
<circle cx="388.35" cy="387.97" r="1.5" fill="#fff" stroke="#000" stroke-width="1.25"/>
<circle cx="391.60" cy="364.95" r="1.5" fill="#fff" stroke="#000" stroke-width="1.25"/>
<circle cx="394.85" cy="341.93" r="1.5" fill="#fff" stroke="#000" stroke-width="1.25"/>
<circle cx="398.10" cy="321.10" r="1.5" fill="#fff" stroke="#000" stroke-width="1.25"/>
<path d="M359.25,462.90 L362.50,445.95 L365.75,427.84 L369.00,409.26 L372.25,388.25 L375.50,365.96 L378.75,347.28 L382.00,327.20" fill="none" stroke="#000" stroke-width="1.25" stroke-linejoin="round"/>
<circle cx="359.25" cy="462.90" r="1.5" fill="#fff" stroke="#000" stroke-width="1.25"/>
<circle cx="362.50" cy="445.95" r="1.5" fill="#fff" stroke="#000" stroke-width="1.25"/>
<circle cx="365.75" cy="427.84" r="1.5" fill="#fff" stroke="#000" stroke-width="1.25"/>
<circle cx="369.00" cy="409.26" r="1.5" fill="#fff" stroke="#000" stroke-width="1.25"/>
<circle cx="372.25" cy="388.25" r="1.5" fill="#fff" stroke="#000" stroke-width="1.25"/>
<circle cx="375.50" cy="365.96" r="1.5" fill="#fff" stroke="#000" stroke-width="1.25"/>
<circle cx="378.75" cy="347.28" r="1.5" fill="#fff" stroke="#000" stroke-width="1.25"/>
<circle cx="382.00" cy="327.20" r="1.5" fill="#fff" stroke="#000" stroke-width="1.25"/>
<path d="M359.00,460.07 L362.25,450.05 L365.50,441.68 L368.75,433.23 L372.00,425.49 L375.25,412.98 L378.50,397.46 L381.75,380.28 L385.00,361.07 L388.25,344.92 L391.50,326.00" fill="none" stroke="#000" stroke-width="1.25" stroke-linejoin="round"/>
<circle cx="359.00" cy="460.07" r="1.5" fill="#fff" stroke="#000" stroke-width="1.25"/>
<circle cx="362.25" cy="450.05" r="1.5" fill="#fff" stroke="#000" stroke-width="1.25"/>
<circle cx="365.50" cy="441.68" r="1.5" fill="#fff" stroke="#000" stroke-width="1.25"/>
<circle cx="368.75" cy="433.23" r="1.5" fill="#fff" stroke="#000" stroke-width="1.25"/>
<circle cx="372.00" cy="425.49" r="1.5" fill="#fff" stroke="#000" stroke-width="1.25"/>
<circle cx="375.25" cy="412.98" r="1.5" fill="#fff" stroke="#000" stroke-width="1.25"/>
<circle cx="378.50" cy="397.46" r="1.5" fill="#fff" stroke="#000" stroke-width="1.25"/>
<circle cx="381.75" cy="380.28" r="1.5" fill="#fff" stroke="#000" stroke-width="1.25"/>
<circle cx="385.00" cy="361.07" r="1.5" fill="#fff" stroke="#000" stroke-width="1.25"/>
<circle cx="388.25" cy="344.92" r="1.5" fill="#fff" stroke="#000" stroke-width="1.25"/>
<circle cx="391.50" cy="326.00" r="1.5" fill="#fff" stroke="#000" stroke-width="1.25"/>
<path d="M363.25,460.57 L366.50,444.58 L369.75,431.36 L373.00,417.27 L376.25,403.15 L379.50,385.52 L382.75,370.78 L386.00,356.52 L389.25,340.69 L392.50,324.00" fill="none" stroke="#000" stroke-width="1.25" stroke-linejoin="round"/>
<circle cx="363.25" cy="460.57" r="1.5" fill="#fff" stroke="#000" stroke-width="1.25"/>
<circle cx="366.50" cy="444.58" r="1.5" fill="#fff" stroke="#000" stroke-width="1.25"/>
<circle cx="369.75" cy="431.36" r="1.5" fill="#fff" stroke="#000" stroke-width="1.25"/>
<circle cx="373.00" cy="417.27" r="1.5" fill="#fff" stroke="#000" stroke-width="1.25"/>
<circle cx="376.25" cy="403.15" r="1.5" fill="#fff" stroke="#000" stroke-width="1.25"/>
<circle cx="379.50" cy="385.52" r="1.5" fill="#fff" stroke="#000" stroke-width="1.25"/>
<circle cx="382.75" cy="370.78" r="1.5" fill="#fff" stroke="#000" stroke-width="1.25"/>
<circle cx="386.00" cy="356.52" r="1.5" fill="#fff" stroke="#000" stroke-width="1.25"/>
<circle cx="389.25" cy="340.69" r="1.5" fill="#fff" stroke="#000" stroke-width="1.25"/>
<circle cx="392.50" cy="324.00" r="1.5" fill="#fff" stroke="#000" stroke-width="1.25"/>
<path d="M368.00,463.01 L371.25,451.05 L374.50,437.77 L377.75,421.03 L381.00,402.96 L384.25,381.79 L387.50,365.39 L390.75,346.57 L394.00,325.50" fill="none" stroke="#000" stroke-width="1.25" stroke-linejoin="round"/>
<circle cx="368.00" cy="463.01" r="1.5" fill="#fff" stroke="#000" stroke-width="1.25"/>
<circle cx="371.25" cy="451.05" r="1.5" fill="#fff" stroke="#000" stroke-width="1.25"/>
<circle cx="374.50" cy="437.77" r="1.5" fill="#fff" stroke="#000" stroke-width="1.25"/>
<circle cx="377.75" cy="421.03" r="1.5" fill="#fff" stroke="#000" stroke-width="1.25"/>
<circle cx="381.00" cy="402.96" r="1.5" fill="#fff" stroke="#000" stroke-width="1.25"/>
<circle cx="384.25" cy="381.79" r="1.5" fill="#fff" stroke="#000" stroke-width="1.25"/>
<circle cx="387.50" cy="365.39" r="1.5" fill="#fff" stroke="#000" stroke-width="1.25"/>
<circle cx="390.75" cy="346.57" r="1.5" fill="#fff" stroke="#000" stroke-width="1.25"/>
<circle cx="394.00" cy="325.50" r="1.5" fill="#fff" stroke="#000" stroke-width="1.25"/>
<path d="M369.50,463.49 L372.75,449.37 L376.00,432.94 L379.25,413.62 L382.50,394.52 L385.75,377.78 L389.00,360.05 L392.25,342.75 L395.50,323.50" fill="none" stroke="#000" stroke-width="1.25" stroke-linejoin="round"/>
<circle cx="369.50" cy="463.49" r="1.5" fill="#fff" stroke="#000" stroke-width="1.25"/>
<circle cx="372.75" cy="449.37" r="1.5" fill="#fff" stroke="#000" stroke-width="1.25"/>
<circle cx="376.00" cy="432.94" r="1.5" fill="#fff" stroke="#000" stroke-width="1.25"/>
<circle cx="379.25" cy="413.62" r="1.5" fill="#fff" stroke="#000" stroke-width="1.25"/>
<circle cx="382.50" cy="394.52" r="1.5" fill="#fff" stroke="#000" stroke-width="1.25"/>
<circle cx="385.75" cy="377.78" r="1.5" fill="#fff" stroke="#000" stroke-width="1.25"/>
<circle cx="389.00" cy="360.05" r="1.5" fill="#fff" stroke="#000" stroke-width="1.25"/>
<circle cx="392.25" cy="342.75" r="1.5" fill="#fff" stroke="#000" stroke-width="1.25"/>
<circle cx="395.50" cy="323.50" r="1.5" fill="#fff" stroke="#000" stroke-width="1.25"/>
<path d="M364.50,460.18 L367.75,454.66 L371.00,445.44 L374.25,439.37 L377.50,432.14 L380.75,415.32 L384.00,397.66 L387.25,380.87 L390.50,363.43 L393.75,345.63 L397.00,326.00" fill="none" stroke="#000" stroke-width="1.25" stroke-linejoin="round"/>
<circle cx="364.50" cy="460.18" r="1.5" fill="#fff" stroke="#000" stroke-width="1.25"/>
<circle cx="367.75" cy="454.66" r="1.5" fill="#fff" stroke="#000" stroke-width="1.25"/>
<circle cx="371.00" cy="445.44" r="1.5" fill="#fff" stroke="#000" stroke-width="1.25"/>
<circle cx="374.25" cy="439.37" r="1.5" fill="#fff" stroke="#000" stroke-width="1.25"/>
<circle cx="377.50" cy="432.14" r="1.5" fill="#fff" stroke="#000" stroke-width="1.25"/>
<circle cx="380.75" cy="415.32" r="1.5" fill="#fff" stroke="#000" stroke-width="1.25"/>
<circle cx="384.00" cy="397.66" r="1.5" fill="#fff" stroke="#000" stroke-width="1.25"/>
<circle cx="387.25" cy="380.87" r="1.5" fill="#fff" stroke="#000" stroke-width="1.25"/>
<circle cx="390.50" cy="363.43" r="1.5" fill="#fff" stroke="#000" stroke-width="1.25"/>
<circle cx="393.75" cy="345.63" r="1.5" fill="#fff" stroke="#000" stroke-width="1.25"/>
<circle cx="397.00" cy="326.00" r="1.5" fill="#fff" stroke="#000" stroke-width="1.25"/>
<path d="M366.30,466.15 L369.55,454.07 L372.80,444.19 L376.05,434.99 L379.30,423.24 L382.55,412.00 L385.80,395.44 L389.05,377.38 L392.30,361.07 L395.55,342.34 L398.80,324.50" fill="none" stroke="#000" stroke-width="1.25" stroke-linejoin="round"/>
<circle cx="366.30" cy="466.15" r="1.5" fill="#fff" stroke="#000" stroke-width="1.25"/>
<circle cx="369.55" cy="454.07" r="1.5" fill="#fff" stroke="#000" stroke-width="1.25"/>
<circle cx="372.80" cy="444.19" r="1.5" fill="#fff" stroke="#000" stroke-width="1.25"/>
<circle cx="376.05" cy="434.99" r="1.5" fill="#fff" stroke="#000" stroke-width="1.25"/>
<circle cx="379.30" cy="423.24" r="1.5" fill="#fff" stroke="#000" stroke-width="1.25"/>
<circle cx="382.55" cy="412.00" r="1.5" fill="#fff" stroke="#000" stroke-width="1.25"/>
<circle cx="385.80" cy="395.44" r="1.5" fill="#fff" stroke="#000" stroke-width="1.25"/>
<circle cx="389.05" cy="377.38" r="1.5" fill="#fff" stroke="#000" stroke-width="1.25"/>
<circle cx="392.30" cy="361.07" r="1.5" fill="#fff" stroke="#000" stroke-width="1.25"/>
<circle cx="395.55" cy="342.34" r="1.5" fill="#fff" stroke="#000" stroke-width="1.25"/>
<circle cx="398.80" cy="324.50" r="1.5" fill="#fff" stroke="#000" stroke-width="1.25"/>
<path d="M361.20,462.48 L364.45,453.68 L367.70,448.62 L370.95,441.46 L374.20,432.05 L377.45,424.62 L380.70,413.86 L383.95,402.39 L387.20,387.31 L390.45,372.52 L393.70,355.01 L396.95,343.58 L400.20,326.50" fill="none" stroke="#000" stroke-width="1.25" stroke-linejoin="round"/>
<circle cx="361.20" cy="462.48" r="1.5" fill="#fff" stroke="#000" stroke-width="1.25"/>
<circle cx="364.45" cy="453.68" r="1.5" fill="#fff" stroke="#000" stroke-width="1.25"/>
<circle cx="367.70" cy="448.62" r="1.5" fill="#fff" stroke="#000" stroke-width="1.25"/>
<circle cx="370.95" cy="441.46" r="1.5" fill="#fff" stroke="#000" stroke-width="1.25"/>
<circle cx="374.20" cy="432.05" r="1.5" fill="#fff" stroke="#000" stroke-width="1.25"/>
<circle cx="377.45" cy="424.62" r="1.5" fill="#fff" stroke="#000" stroke-width="1.25"/>
<circle cx="380.70" cy="413.86" r="1.5" fill="#fff" stroke="#000" stroke-width="1.25"/>
<circle cx="383.95" cy="402.39" r="1.5" fill="#fff" stroke="#000" stroke-width="1.25"/>
<circle cx="387.20" cy="387.31" r="1.5" fill="#fff" stroke="#000" stroke-width="1.25"/>
<circle cx="390.45" cy="372.52" r="1.5" fill="#fff" stroke="#000" stroke-width="1.25"/>
<circle cx="393.70" cy="355.01" r="1.5" fill="#fff" stroke="#000" stroke-width="1.25"/>
<circle cx="396.95" cy="343.58" r="1.5" fill="#fff" stroke="#000" stroke-width="1.25"/>
<circle cx="400.20" cy="326.50" r="1.5" fill="#fff" stroke="#000" stroke-width="1.25"/>
<path d="M362.80,462.60 L366.05,456.14 L369.30,450.52 L372.55,441.60 L375.80,437.06 L379.05,430.14 L382.30,423.83 L385.55,410.55 L388.80,391.61 L392.05,375.54 L395.30,357.27 L398.55,341.62 L401.80,325.00" fill="none" stroke="#000" stroke-width="1.25" stroke-linejoin="round"/>
<circle cx="362.80" cy="462.60" r="1.5" fill="#fff" stroke="#000" stroke-width="1.25"/>
<circle cx="366.05" cy="456.14" r="1.5" fill="#fff" stroke="#000" stroke-width="1.25"/>
<circle cx="369.30" cy="450.52" r="1.5" fill="#fff" stroke="#000" stroke-width="1.25"/>
<circle cx="372.55" cy="441.60" r="1.5" fill="#fff" stroke="#000" stroke-width="1.25"/>
<circle cx="375.80" cy="437.06" r="1.5" fill="#fff" stroke="#000" stroke-width="1.25"/>
<circle cx="379.05" cy="430.14" r="1.5" fill="#fff" stroke="#000" stroke-width="1.25"/>
<circle cx="382.30" cy="423.83" r="1.5" fill="#fff" stroke="#000" stroke-width="1.25"/>
<circle cx="385.55" cy="410.55" r="1.5" fill="#fff" stroke="#000" stroke-width="1.25"/>
<circle cx="388.80" cy="391.61" r="1.5" fill="#fff" stroke="#000" stroke-width="1.25"/>
<circle cx="392.05" cy="375.54" r="1.5" fill="#fff" stroke="#000" stroke-width="1.25"/>
<circle cx="395.30" cy="357.27" r="1.5" fill="#fff" stroke="#000" stroke-width="1.25"/>
<circle cx="398.55" cy="341.62" r="1.5" fill="#fff" stroke="#000" stroke-width="1.25"/>
<circle cx="401.80" cy="325.00" r="1.5" fill="#fff" stroke="#000" stroke-width="1.25"/>
<path d="M363.95,465.85 L367.20,455.62 L370.45,448.32 L373.70,440.05 L376.95,424.16 L380.20,409.18 L383.45,386.39 L386.70,367.31 L389.95,347.68 L393.20,329.00" fill="none" stroke="#000" stroke-width="1.25" stroke-linejoin="round"/>
<circle cx="363.95" cy="465.85" r="1.5" fill="#fff" stroke="#000" stroke-width="1.25"/>
<circle cx="367.20" cy="455.62" r="1.5" fill="#fff" stroke="#000" stroke-width="1.25"/>
<circle cx="370.45" cy="448.32" r="1.5" fill="#fff" stroke="#000" stroke-width="1.25"/>
<circle cx="373.70" cy="440.05" r="1.5" fill="#fff" stroke="#000" stroke-width="1.25"/>
<circle cx="376.95" cy="424.16" r="1.5" fill="#fff" stroke="#000" stroke-width="1.25"/>
<circle cx="380.20" cy="409.18" r="1.5" fill="#fff" stroke="#000" stroke-width="1.25"/>
<circle cx="383.45" cy="386.39" r="1.5" fill="#fff" stroke="#000" stroke-width="1.25"/>
<circle cx="386.70" cy="367.31" r="1.5" fill="#fff" stroke="#000" stroke-width="1.25"/>
<circle cx="389.95" cy="347.68" r="1.5" fill="#fff" stroke="#000" stroke-width="1.25"/>
<circle cx="393.20" cy="329.00" r="1.5" fill="#fff" stroke="#000" stroke-width="1.25"/>
<path d="M367.05,462.09 L370.30,450.72 L373.55,443.44 L376.80,431.21 L380.05,420.84 L383.30,403.52 L386.55,384.74 L389.80,367.42 L393.05,348.40 L396.30,330.00" fill="none" stroke="#000" stroke-width="1.25" stroke-linejoin="round"/>
<circle cx="367.05" cy="462.09" r="1.5" fill="#fff" stroke="#000" stroke-width="1.25"/>
<circle cx="370.30" cy="450.72" r="1.5" fill="#fff" stroke="#000" stroke-width="1.25"/>
<circle cx="373.55" cy="443.44" r="1.5" fill="#fff" stroke="#000" stroke-width="1.25"/>
<circle cx="376.80" cy="431.21" r="1.5" fill="#fff" stroke="#000" stroke-width="1.25"/>
<circle cx="380.05" cy="420.84" r="1.5" fill="#fff" stroke="#000" stroke-width="1.25"/>
<circle cx="383.30" cy="403.52" r="1.5" fill="#fff" stroke="#000" stroke-width="1.25"/>
<circle cx="386.55" cy="384.74" r="1.5" fill="#fff" stroke="#000" stroke-width="1.25"/>
<circle cx="389.80" cy="367.42" r="1.5" fill="#fff" stroke="#000" stroke-width="1.25"/>
<circle cx="393.05" cy="348.40" r="1.5" fill="#fff" stroke="#000" stroke-width="1.25"/>
<circle cx="396.30" cy="330.00" r="1.5" fill="#fff" stroke="#000" stroke-width="1.25"/>
<path d="M363.75,462.69 L367.00,456.31 L370.25,452.82 L373.50,447.65 L376.75,442.02 L380.00,437.10 L383.25,425.41 L386.50,409.62 L389.75,387.82 L393.00,370.56 L396.25,351.54 L399.50,331.00" fill="none" stroke="#000" stroke-width="1.25" stroke-linejoin="round"/>
<circle cx="363.75" cy="462.69" r="1.5" fill="#fff" stroke="#000" stroke-width="1.25"/>
<circle cx="367.00" cy="456.31" r="1.5" fill="#fff" stroke="#000" stroke-width="1.25"/>
<circle cx="370.25" cy="452.82" r="1.5" fill="#fff" stroke="#000" stroke-width="1.25"/>
<circle cx="373.50" cy="447.65" r="1.5" fill="#fff" stroke="#000" stroke-width="1.25"/>
<circle cx="376.75" cy="442.02" r="1.5" fill="#fff" stroke="#000" stroke-width="1.25"/>
<circle cx="380.00" cy="437.10" r="1.5" fill="#fff" stroke="#000" stroke-width="1.25"/>
<circle cx="383.25" cy="425.41" r="1.5" fill="#fff" stroke="#000" stroke-width="1.25"/>
<circle cx="386.50" cy="409.62" r="1.5" fill="#fff" stroke="#000" stroke-width="1.25"/>
<circle cx="389.75" cy="387.82" r="1.5" fill="#fff" stroke="#000" stroke-width="1.25"/>
<circle cx="393.00" cy="370.56" r="1.5" fill="#fff" stroke="#000" stroke-width="1.25"/>
<circle cx="396.25" cy="351.54" r="1.5" fill="#fff" stroke="#000" stroke-width="1.25"/>
<circle cx="399.50" cy="331.00" r="1.5" fill="#fff" stroke="#000" stroke-width="1.25"/>
<path d="M364.00,462.05 L367.25,445.27 L370.50,432.74 L373.75,415.97 L377.00,395.20 L380.25,377.02 L383.50,360.28 L386.75,339.73 L390.00,322.00" fill="none" stroke="#000" stroke-width="1.25" stroke-linejoin="round"/>
<circle cx="364.00" cy="462.05" r="1.5" fill="#fff" stroke="#000" stroke-width="1.25"/>
<circle cx="367.25" cy="445.27" r="1.5" fill="#fff" stroke="#000" stroke-width="1.25"/>
<circle cx="370.50" cy="432.74" r="1.5" fill="#fff" stroke="#000" stroke-width="1.25"/>
<circle cx="373.75" cy="415.97" r="1.5" fill="#fff" stroke="#000" stroke-width="1.25"/>
<circle cx="377.00" cy="395.20" r="1.5" fill="#fff" stroke="#000" stroke-width="1.25"/>
<circle cx="380.25" cy="377.02" r="1.5" fill="#fff" stroke="#000" stroke-width="1.25"/>
<circle cx="383.50" cy="360.28" r="1.5" fill="#fff" stroke="#000" stroke-width="1.25"/>
<circle cx="386.75" cy="339.73" r="1.5" fill="#fff" stroke="#000" stroke-width="1.25"/>
<circle cx="390.00" cy="322.00" r="1.5" fill="#fff" stroke="#000" stroke-width="1.25"/>
<path d="M358.75,465.41 L362.00,452.62 L365.25,442.44 L368.50,432.13 L371.75,416.22 L375.00,400.54 L378.25,384.53 L381.50,367.51 L384.75,349.81 L388.00,330.00" fill="none" stroke="#000" stroke-width="1.25" stroke-linejoin="round"/>
<circle cx="358.75" cy="465.41" r="1.5" fill="#fff" stroke="#000" stroke-width="1.25"/>
<circle cx="362.00" cy="452.62" r="1.5" fill="#fff" stroke="#000" stroke-width="1.25"/>
<circle cx="365.25" cy="442.44" r="1.5" fill="#fff" stroke="#000" stroke-width="1.25"/>
<circle cx="368.50" cy="432.13" r="1.5" fill="#fff" stroke="#000" stroke-width="1.25"/>
<circle cx="371.75" cy="416.22" r="1.5" fill="#fff" stroke="#000" stroke-width="1.25"/>
<circle cx="375.00" cy="400.54" r="1.5" fill="#fff" stroke="#000" stroke-width="1.25"/>
<circle cx="378.25" cy="384.53" r="1.5" fill="#fff" stroke="#000" stroke-width="1.25"/>
<circle cx="381.50" cy="367.51" r="1.5" fill="#fff" stroke="#000" stroke-width="1.25"/>
<circle cx="384.75" cy="349.81" r="1.5" fill="#fff" stroke="#000" stroke-width="1.25"/>
<circle cx="388.00" cy="330.00" r="1.5" fill="#fff" stroke="#000" stroke-width="1.25"/>
<path d="M357.25,463.29 L360.50,452.17 L363.75,438.32 L367.00,424.97 L370.25,409.81 L373.50,392.39 L376.75,376.89 L380.00,359.18 L383.25,341.84 L386.50,324.00" fill="none" stroke="#000" stroke-width="1.25" stroke-linejoin="round"/>
<circle cx="357.25" cy="463.29" r="1.5" fill="#fff" stroke="#000" stroke-width="1.25"/>
<circle cx="360.50" cy="452.17" r="1.5" fill="#fff" stroke="#000" stroke-width="1.25"/>
<circle cx="363.75" cy="438.32" r="1.5" fill="#fff" stroke="#000" stroke-width="1.25"/>
<circle cx="367.00" cy="424.97" r="1.5" fill="#fff" stroke="#000" stroke-width="1.25"/>
<circle cx="370.25" cy="409.81" r="1.5" fill="#fff" stroke="#000" stroke-width="1.25"/>
<circle cx="373.50" cy="392.39" r="1.5" fill="#fff" stroke="#000" stroke-width="1.25"/>
<circle cx="376.75" cy="376.89" r="1.5" fill="#fff" stroke="#000" stroke-width="1.25"/>
<circle cx="380.00" cy="359.18" r="1.5" fill="#fff" stroke="#000" stroke-width="1.25"/>
<circle cx="383.25" cy="341.84" r="1.5" fill="#fff" stroke="#000" stroke-width="1.25"/>
<circle cx="386.50" cy="324.00" r="1.5" fill="#fff" stroke="#000" stroke-width="1.25"/>
<path d="M359.05,461.20 L362.30,456.37 L365.55,449.33 L368.80,439.22 L372.05,432.29 L375.30,429.06 L378.55,418.36 L381.80,406.02 L385.05,386.95 L388.30,369.30 L391.55,351.28 L394.80,333.00" fill="none" stroke="#000" stroke-width="1.25" stroke-linejoin="round"/>
<circle cx="359.05" cy="461.20" r="1.5" fill="#fff" stroke="#000" stroke-width="1.25"/>
<circle cx="362.30" cy="456.37" r="1.5" fill="#fff" stroke="#000" stroke-width="1.25"/>
<circle cx="365.55" cy="449.33" r="1.5" fill="#fff" stroke="#000" stroke-width="1.25"/>
<circle cx="368.80" cy="439.22" r="1.5" fill="#fff" stroke="#000" stroke-width="1.25"/>
<circle cx="372.05" cy="432.29" r="1.5" fill="#fff" stroke="#000" stroke-width="1.25"/>
<circle cx="375.30" cy="429.06" r="1.5" fill="#fff" stroke="#000" stroke-width="1.25"/>
<circle cx="378.55" cy="418.36" r="1.5" fill="#fff" stroke="#000" stroke-width="1.25"/>
<circle cx="381.80" cy="406.02" r="1.5" fill="#fff" stroke="#000" stroke-width="1.25"/>
<circle cx="385.05" cy="386.95" r="1.5" fill="#fff" stroke="#000" stroke-width="1.25"/>
<circle cx="388.30" cy="369.30" r="1.5" fill="#fff" stroke="#000" stroke-width="1.25"/>
<circle cx="391.55" cy="351.28" r="1.5" fill="#fff" stroke="#000" stroke-width="1.25"/>
<circle cx="394.80" cy="333.00" r="1.5" fill="#fff" stroke="#000" stroke-width="1.25"/>
<path d="M362.05,463.91 L365.30,459.25 L368.55,450.56 L371.80,445.62 L375.05,440.72 L378.30,433.35 L381.55,425.28 L384.80,413.12 L388.05,396.45 L391.30,374.00 L394.55,357.04 L397.80,335.00" fill="none" stroke="#000" stroke-width="1.25" stroke-linejoin="round"/>
<circle cx="362.05" cy="463.91" r="1.5" fill="#fff" stroke="#000" stroke-width="1.25"/>
<circle cx="365.30" cy="459.25" r="1.5" fill="#fff" stroke="#000" stroke-width="1.25"/>
<circle cx="368.55" cy="450.56" r="1.5" fill="#fff" stroke="#000" stroke-width="1.25"/>
<circle cx="371.80" cy="445.62" r="1.5" fill="#fff" stroke="#000" stroke-width="1.25"/>
<circle cx="375.05" cy="440.72" r="1.5" fill="#fff" stroke="#000" stroke-width="1.25"/>
<circle cx="378.30" cy="433.35" r="1.5" fill="#fff" stroke="#000" stroke-width="1.25"/>
<circle cx="381.55" cy="425.28" r="1.5" fill="#fff" stroke="#000" stroke-width="1.25"/>
<circle cx="384.80" cy="413.12" r="1.5" fill="#fff" stroke="#000" stroke-width="1.25"/>
<circle cx="388.05" cy="396.45" r="1.5" fill="#fff" stroke="#000" stroke-width="1.25"/>
<circle cx="391.30" cy="374.00" r="1.5" fill="#fff" stroke="#000" stroke-width="1.25"/>
<circle cx="394.55" cy="357.04" r="1.5" fill="#fff" stroke="#000" stroke-width="1.25"/>
<circle cx="397.80" cy="335.00" r="1.5" fill="#fff" stroke="#000" stroke-width="1.25"/>
<path d="M365.25,464.58 L368.50,456.50 L371.75,449.59 L375.00,441.51 L378.25,435.73 L381.50,425.58 L384.75,410.26 L388.00,397.59 L391.25,381.43 L394.50,366.08 L397.75,350.74 L401.00,334.00" fill="none" stroke="#000" stroke-width="1.25" stroke-linejoin="round"/>
<circle cx="365.25" cy="464.58" r="1.5" fill="#fff" stroke="#000" stroke-width="1.25"/>
<circle cx="368.50" cy="456.50" r="1.5" fill="#fff" stroke="#000" stroke-width="1.25"/>
<circle cx="371.75" cy="449.59" r="1.5" fill="#fff" stroke="#000" stroke-width="1.25"/>
<circle cx="375.00" cy="441.51" r="1.5" fill="#fff" stroke="#000" stroke-width="1.25"/>
<circle cx="378.25" cy="435.73" r="1.5" fill="#fff" stroke="#000" stroke-width="1.25"/>
<circle cx="381.50" cy="425.58" r="1.5" fill="#fff" stroke="#000" stroke-width="1.25"/>
<circle cx="384.75" cy="410.26" r="1.5" fill="#fff" stroke="#000" stroke-width="1.25"/>
<circle cx="388.00" cy="397.59" r="1.5" fill="#fff" stroke="#000" stroke-width="1.25"/>
<circle cx="391.25" cy="381.43" r="1.5" fill="#fff" stroke="#000" stroke-width="1.25"/>
<circle cx="394.50" cy="366.08" r="1.5" fill="#fff" stroke="#000" stroke-width="1.25"/>
<circle cx="397.75" cy="350.74" r="1.5" fill="#fff" stroke="#000" stroke-width="1.25"/>
<circle cx="401.00" cy="334.00" r="1.5" fill="#fff" stroke="#000" stroke-width="1.25"/>
<path d="M359.50,465.83 L362.75,456.97 L366.00,447.03 L369.25,435.66 L372.50,425.80 L375.75,409.57 L379.00,395.67 L382.25,381.10 L385.50,364.19 L388.75,350.50 L392.00,336.00" fill="none" stroke="#000" stroke-width="1.25" stroke-linejoin="round"/>
<circle cx="359.50" cy="465.83" r="1.5" fill="#fff" stroke="#000" stroke-width="1.25"/>
<circle cx="362.75" cy="456.97" r="1.5" fill="#fff" stroke="#000" stroke-width="1.25"/>
<circle cx="366.00" cy="447.03" r="1.5" fill="#fff" stroke="#000" stroke-width="1.25"/>
<circle cx="369.25" cy="435.66" r="1.5" fill="#fff" stroke="#000" stroke-width="1.25"/>
<circle cx="372.50" cy="425.80" r="1.5" fill="#fff" stroke="#000" stroke-width="1.25"/>
<circle cx="375.75" cy="409.57" r="1.5" fill="#fff" stroke="#000" stroke-width="1.25"/>
<circle cx="379.00" cy="395.67" r="1.5" fill="#fff" stroke="#000" stroke-width="1.25"/>
<circle cx="382.25" cy="381.10" r="1.5" fill="#fff" stroke="#000" stroke-width="1.25"/>
<circle cx="385.50" cy="364.19" r="1.5" fill="#fff" stroke="#000" stroke-width="1.25"/>
<circle cx="388.75" cy="350.50" r="1.5" fill="#fff" stroke="#000" stroke-width="1.25"/>
<circle cx="392.00" cy="336.00" r="1.5" fill="#fff" stroke="#000" stroke-width="1.25"/>
<path d="M363.50,464.06 L366.75,450.73 L370.00,435.42 L373.25,422.01 L376.50,405.30 L379.75,387.58 L383.00,369.19 L386.25,353.82 L389.50,334.00" fill="none" stroke="#000" stroke-width="1.25" stroke-linejoin="round"/>
<circle cx="363.50" cy="464.06" r="1.5" fill="#fff" stroke="#000" stroke-width="1.25"/>
<circle cx="366.75" cy="450.73" r="1.5" fill="#fff" stroke="#000" stroke-width="1.25"/>
<circle cx="370.00" cy="435.42" r="1.5" fill="#fff" stroke="#000" stroke-width="1.25"/>
<circle cx="373.25" cy="422.01" r="1.5" fill="#fff" stroke="#000" stroke-width="1.25"/>
<circle cx="376.50" cy="405.30" r="1.5" fill="#fff" stroke="#000" stroke-width="1.25"/>
<circle cx="379.75" cy="387.58" r="1.5" fill="#fff" stroke="#000" stroke-width="1.25"/>
<circle cx="383.00" cy="369.19" r="1.5" fill="#fff" stroke="#000" stroke-width="1.25"/>
<circle cx="386.25" cy="353.82" r="1.5" fill="#fff" stroke="#000" stroke-width="1.25"/>
<circle cx="389.50" cy="334.00" r="1.5" fill="#fff" stroke="#000" stroke-width="1.25"/>
<path d="M358.00,464.56 L361.25,440.24 L364.50,421.32 L367.75,403.20 L371.00,384.66 L374.25,369.08 L377.50,351.52 L380.75,335.94 L384.00,321.00" fill="none" stroke="#000" stroke-width="1.25" stroke-linejoin="round"/>
<circle cx="358.00" cy="464.56" r="1.5" fill="#fff" stroke="#000" stroke-width="1.25"/>
<circle cx="361.25" cy="440.24" r="1.5" fill="#fff" stroke="#000" stroke-width="1.25"/>
<circle cx="364.50" cy="421.32" r="1.5" fill="#fff" stroke="#000" stroke-width="1.25"/>
<circle cx="367.75" cy="403.20" r="1.5" fill="#fff" stroke="#000" stroke-width="1.25"/>
<circle cx="371.00" cy="384.66" r="1.5" fill="#fff" stroke="#000" stroke-width="1.25"/>
<circle cx="374.25" cy="369.08" r="1.5" fill="#fff" stroke="#000" stroke-width="1.25"/>
<circle cx="377.50" cy="351.52" r="1.5" fill="#fff" stroke="#000" stroke-width="1.25"/>
<circle cx="380.75" cy="335.94" r="1.5" fill="#fff" stroke="#000" stroke-width="1.25"/>
<circle cx="384.00" cy="321.00" r="1.5" fill="#fff" stroke="#000" stroke-width="1.25"/>
<path d="M360.75,460.64 L364.00,455.28 L367.25,449.55 L370.50,445.83 L373.75,438.67 L377.00,434.82 L380.25,427.84 L383.50,422.96 L386.75,412.03 L390.00,400.52 L393.25,383.68 L396.50,362.61 L399.75,347.93 L403.00,328.00" fill="none" stroke="#000" stroke-width="1.25" stroke-linejoin="round"/>
<circle cx="360.75" cy="460.64" r="1.5" fill="#fff" stroke="#000" stroke-width="1.25"/>
<circle cx="364.00" cy="455.28" r="1.5" fill="#fff" stroke="#000" stroke-width="1.25"/>
<circle cx="367.25" cy="449.55" r="1.5" fill="#fff" stroke="#000" stroke-width="1.25"/>
<circle cx="370.50" cy="445.83" r="1.5" fill="#fff" stroke="#000" stroke-width="1.25"/>
<circle cx="373.75" cy="438.67" r="1.5" fill="#fff" stroke="#000" stroke-width="1.25"/>
<circle cx="377.00" cy="434.82" r="1.5" fill="#fff" stroke="#000" stroke-width="1.25"/>
<circle cx="380.25" cy="427.84" r="1.5" fill="#fff" stroke="#000" stroke-width="1.25"/>
<circle cx="383.50" cy="422.96" r="1.5" fill="#fff" stroke="#000" stroke-width="1.25"/>
<circle cx="386.75" cy="412.03" r="1.5" fill="#fff" stroke="#000" stroke-width="1.25"/>
<circle cx="390.00" cy="400.52" r="1.5" fill="#fff" stroke="#000" stroke-width="1.25"/>
<circle cx="393.25" cy="383.68" r="1.5" fill="#fff" stroke="#000" stroke-width="1.25"/>
<circle cx="396.50" cy="362.61" r="1.5" fill="#fff" stroke="#000" stroke-width="1.25"/>
<circle cx="399.75" cy="347.93" r="1.5" fill="#fff" stroke="#000" stroke-width="1.25"/>
<circle cx="403.00" cy="328.00" r="1.5" fill="#fff" stroke="#000" stroke-width="1.25"/>
<path d="M359.00,463.07 L362.25,459.64 L365.50,453.56 L368.75,453.23 L372.00,447.26 L375.25,443.81 L378.50,440.22 L381.75,435.42 L385.00,431.23 L388.25,426.29 L391.50,412.85 L394.75,393.01 L398.00,374.45 L401.25,352.47 L404.50,333.00" fill="none" stroke="#000" stroke-width="1.25" stroke-linejoin="round"/>
<circle cx="359.00" cy="463.07" r="1.5" fill="#fff" stroke="#000" stroke-width="1.25"/>
<circle cx="362.25" cy="459.64" r="1.5" fill="#fff" stroke="#000" stroke-width="1.25"/>
<circle cx="365.50" cy="453.56" r="1.5" fill="#fff" stroke="#000" stroke-width="1.25"/>
<circle cx="368.75" cy="453.23" r="1.5" fill="#fff" stroke="#000" stroke-width="1.25"/>
<circle cx="372.00" cy="447.26" r="1.5" fill="#fff" stroke="#000" stroke-width="1.25"/>
<circle cx="375.25" cy="443.81" r="1.5" fill="#fff" stroke="#000" stroke-width="1.25"/>
<circle cx="378.50" cy="440.22" r="1.5" fill="#fff" stroke="#000" stroke-width="1.25"/>
<circle cx="381.75" cy="435.42" r="1.5" fill="#fff" stroke="#000" stroke-width="1.25"/>
<circle cx="385.00" cy="431.23" r="1.5" fill="#fff" stroke="#000" stroke-width="1.25"/>
<circle cx="388.25" cy="426.29" r="1.5" fill="#fff" stroke="#000" stroke-width="1.25"/>
<circle cx="391.50" cy="412.85" r="1.5" fill="#fff" stroke="#000" stroke-width="1.25"/>
<circle cx="394.75" cy="393.01" r="1.5" fill="#fff" stroke="#000" stroke-width="1.25"/>
<circle cx="398.00" cy="374.45" r="1.5" fill="#fff" stroke="#000" stroke-width="1.25"/>
<circle cx="401.25" cy="352.47" r="1.5" fill="#fff" stroke="#000" stroke-width="1.25"/>
<circle cx="404.50" cy="333.00" r="1.5" fill="#fff" stroke="#000" stroke-width="1.25"/>
<path d="M362.75,464.00 L366.00,458.19 L369.25,455.26 L372.50,450.58 L375.75,447.18 L379.00,445.71 L382.25,440.39 L385.50,438.55 L388.75,430.86 L392.00,412.49 L395.25,393.39 L398.50,368.33 L401.75,339.97 L405.00,316.80" fill="none" stroke="#000" stroke-width="1.25" stroke-linejoin="round"/>
<circle cx="362.75" cy="464.00" r="1.5" fill="#fff" stroke="#000" stroke-width="1.25"/>
<circle cx="366.00" cy="458.19" r="1.5" fill="#fff" stroke="#000" stroke-width="1.25"/>
<circle cx="369.25" cy="455.26" r="1.5" fill="#fff" stroke="#000" stroke-width="1.25"/>
<circle cx="372.50" cy="450.58" r="1.5" fill="#fff" stroke="#000" stroke-width="1.25"/>
<circle cx="375.75" cy="447.18" r="1.5" fill="#fff" stroke="#000" stroke-width="1.25"/>
<circle cx="379.00" cy="445.71" r="1.5" fill="#fff" stroke="#000" stroke-width="1.25"/>
<circle cx="382.25" cy="440.39" r="1.5" fill="#fff" stroke="#000" stroke-width="1.25"/>
<circle cx="385.50" cy="438.55" r="1.5" fill="#fff" stroke="#000" stroke-width="1.25"/>
<circle cx="388.75" cy="430.86" r="1.5" fill="#fff" stroke="#000" stroke-width="1.25"/>
<circle cx="392.00" cy="412.49" r="1.5" fill="#fff" stroke="#000" stroke-width="1.25"/>
<circle cx="395.25" cy="393.39" r="1.5" fill="#fff" stroke="#000" stroke-width="1.25"/>
<circle cx="398.50" cy="368.33" r="1.5" fill="#fff" stroke="#000" stroke-width="1.25"/>
<circle cx="401.75" cy="339.97" r="1.5" fill="#fff" stroke="#000" stroke-width="1.25"/>
<circle cx="405.00" cy="316.80" r="1.5" fill="#fff" stroke="#000" stroke-width="1.25"/>
<path d="M366.05,463.00 L369.30,460.92 L372.55,455.31 L375.80,451.80 L379.05,450.08 L382.30,443.45 L385.55,440.87 L388.80,438.82 L392.05,429.50 L395.30,410.12 L398.55,388.25 L401.80,363.29 L405.05,338.12 L408.30,313.40" fill="none" stroke="#000" stroke-width="1.25" stroke-linejoin="round"/>
<circle cx="366.05" cy="463.00" r="1.5" fill="#fff" stroke="#000" stroke-width="1.25"/>
<circle cx="369.30" cy="460.92" r="1.5" fill="#fff" stroke="#000" stroke-width="1.25"/>
<circle cx="372.55" cy="455.31" r="1.5" fill="#fff" stroke="#000" stroke-width="1.25"/>
<circle cx="375.80" cy="451.80" r="1.5" fill="#fff" stroke="#000" stroke-width="1.25"/>
<circle cx="379.05" cy="450.08" r="1.5" fill="#fff" stroke="#000" stroke-width="1.25"/>
<circle cx="382.30" cy="443.45" r="1.5" fill="#fff" stroke="#000" stroke-width="1.25"/>
<circle cx="385.55" cy="440.87" r="1.5" fill="#fff" stroke="#000" stroke-width="1.25"/>
<circle cx="388.80" cy="438.82" r="1.5" fill="#fff" stroke="#000" stroke-width="1.25"/>
<circle cx="392.05" cy="429.50" r="1.5" fill="#fff" stroke="#000" stroke-width="1.25"/>
<circle cx="395.30" cy="410.12" r="1.5" fill="#fff" stroke="#000" stroke-width="1.25"/>
<circle cx="398.55" cy="388.25" r="1.5" fill="#fff" stroke="#000" stroke-width="1.25"/>
<circle cx="401.80" cy="363.29" r="1.5" fill="#fff" stroke="#000" stroke-width="1.25"/>
<circle cx="405.05" cy="338.12" r="1.5" fill="#fff" stroke="#000" stroke-width="1.25"/>
<circle cx="408.30" cy="313.40" r="1.5" fill="#fff" stroke="#000" stroke-width="1.25"/>
<path d="M369.15,465.00 L372.40,460.37 L375.65,459.32 L378.90,455.56 L382.15,451.46 L385.40,447.76 L388.65,446.58 L391.90,441.87 L395.15,436.60 L398.40,421.88 L401.65,397.62 L404.90,371.28 L408.15,347.00 L411.40,321.10" fill="none" stroke="#000" stroke-width="1.25" stroke-linejoin="round"/>
<circle cx="369.15" cy="465.00" r="1.5" fill="#fff" stroke="#000" stroke-width="1.25"/>
<circle cx="372.40" cy="460.37" r="1.5" fill="#fff" stroke="#000" stroke-width="1.25"/>
<circle cx="375.65" cy="459.32" r="1.5" fill="#fff" stroke="#000" stroke-width="1.25"/>
<circle cx="378.90" cy="455.56" r="1.5" fill="#fff" stroke="#000" stroke-width="1.25"/>
<circle cx="382.15" cy="451.46" r="1.5" fill="#fff" stroke="#000" stroke-width="1.25"/>
<circle cx="385.40" cy="447.76" r="1.5" fill="#fff" stroke="#000" stroke-width="1.25"/>
<circle cx="388.65" cy="446.58" r="1.5" fill="#fff" stroke="#000" stroke-width="1.25"/>
<circle cx="391.90" cy="441.87" r="1.5" fill="#fff" stroke="#000" stroke-width="1.25"/>
<circle cx="395.15" cy="436.60" r="1.5" fill="#fff" stroke="#000" stroke-width="1.25"/>
<circle cx="398.40" cy="421.88" r="1.5" fill="#fff" stroke="#000" stroke-width="1.25"/>
<circle cx="401.65" cy="397.62" r="1.5" fill="#fff" stroke="#000" stroke-width="1.25"/>
<circle cx="404.90" cy="371.28" r="1.5" fill="#fff" stroke="#000" stroke-width="1.25"/>
<circle cx="408.15" cy="347.00" r="1.5" fill="#fff" stroke="#000" stroke-width="1.25"/>
<circle cx="411.40" cy="321.10" r="1.5" fill="#fff" stroke="#000" stroke-width="1.25"/>
<path d="M362.90,462.00 L366.15,459.17 L369.40,458.09 L372.65,454.59 L375.90,453.94 L379.15,451.25 L382.40,447.87 L385.65,443.37 L388.90,440.36 L392.15,440.97 L395.40,438.02 L398.65,430.24 L401.90,412.37 L405.15,389.80 L408.40,368.85 L411.65,345.76 L414.90,322.90" fill="none" stroke="#000" stroke-width="1.25" stroke-linejoin="round"/>
<circle cx="362.90" cy="462.00" r="1.5" fill="#fff" stroke="#000" stroke-width="1.25"/>
<circle cx="366.15" cy="459.17" r="1.5" fill="#fff" stroke="#000" stroke-width="1.25"/>
<circle cx="369.40" cy="458.09" r="1.5" fill="#fff" stroke="#000" stroke-width="1.25"/>
<circle cx="372.65" cy="454.59" r="1.5" fill="#fff" stroke="#000" stroke-width="1.25"/>
<circle cx="375.90" cy="453.94" r="1.5" fill="#fff" stroke="#000" stroke-width="1.25"/>
<circle cx="379.15" cy="451.25" r="1.5" fill="#fff" stroke="#000" stroke-width="1.25"/>
<circle cx="382.40" cy="447.87" r="1.5" fill="#fff" stroke="#000" stroke-width="1.25"/>
<circle cx="385.65" cy="443.37" r="1.5" fill="#fff" stroke="#000" stroke-width="1.25"/>
<circle cx="388.90" cy="440.36" r="1.5" fill="#fff" stroke="#000" stroke-width="1.25"/>
<circle cx="392.15" cy="440.97" r="1.5" fill="#fff" stroke="#000" stroke-width="1.25"/>
<circle cx="395.40" cy="438.02" r="1.5" fill="#fff" stroke="#000" stroke-width="1.25"/>
<circle cx="398.65" cy="430.24" r="1.5" fill="#fff" stroke="#000" stroke-width="1.25"/>
<circle cx="401.90" cy="412.37" r="1.5" fill="#fff" stroke="#000" stroke-width="1.25"/>
<circle cx="405.15" cy="389.80" r="1.5" fill="#fff" stroke="#000" stroke-width="1.25"/>
<circle cx="408.40" cy="368.85" r="1.5" fill="#fff" stroke="#000" stroke-width="1.25"/>
<circle cx="411.65" cy="345.76" r="1.5" fill="#fff" stroke="#000" stroke-width="1.25"/>
<circle cx="414.90" cy="322.90" r="1.5" fill="#fff" stroke="#000" stroke-width="1.25"/>
<path d="M365.50,462.00 L369.00,455.00 L372.30,449.00 L375.60,444.00 L379.00,446.40 L382.10,451.60 L385.50,456.80 L388.60,459.40 L392.00,461.20 L395.10,458.10 L398.50,453.70 L401.60,449.50 L405.00,444.30 L408.40,435.20 L411.50,422.50 L414.90,413.10 L418.00,399.60 L421.40,380.90 L424.60,364.00 L427.90,349.70 L431.00,332.00" fill="none" stroke="#000" stroke-width="1.25" stroke-linejoin="round"/>
<circle cx="365.50" cy="462.00" r="1.5" fill="#fff" stroke="#000" stroke-width="1.25"/>
<circle cx="369.00" cy="455.00" r="1.5" fill="#fff" stroke="#000" stroke-width="1.25"/>
<circle cx="372.30" cy="449.00" r="1.5" fill="#fff" stroke="#000" stroke-width="1.25"/>
<circle cx="375.60" cy="444.00" r="1.5" fill="#fff" stroke="#000" stroke-width="1.25"/>
<circle cx="379.00" cy="446.40" r="1.5" fill="#fff" stroke="#000" stroke-width="1.25"/>
<circle cx="382.10" cy="451.60" r="1.5" fill="#fff" stroke="#000" stroke-width="1.25"/>
<circle cx="385.50" cy="456.80" r="1.5" fill="#fff" stroke="#000" stroke-width="1.25"/>
<circle cx="388.60" cy="459.40" r="1.5" fill="#fff" stroke="#000" stroke-width="1.25"/>
<circle cx="392.00" cy="461.20" r="1.5" fill="#fff" stroke="#000" stroke-width="1.25"/>
<circle cx="395.10" cy="458.10" r="1.5" fill="#fff" stroke="#000" stroke-width="1.25"/>
<circle cx="398.50" cy="453.70" r="1.5" fill="#fff" stroke="#000" stroke-width="1.25"/>
<circle cx="401.60" cy="449.50" r="1.5" fill="#fff" stroke="#000" stroke-width="1.25"/>
<circle cx="405.00" cy="444.30" r="1.5" fill="#fff" stroke="#000" stroke-width="1.25"/>
<circle cx="408.40" cy="435.20" r="1.5" fill="#fff" stroke="#000" stroke-width="1.25"/>
<circle cx="411.50" cy="422.50" r="1.5" fill="#fff" stroke="#000" stroke-width="1.25"/>
<circle cx="414.90" cy="413.10" r="1.5" fill="#fff" stroke="#000" stroke-width="1.25"/>
<circle cx="418.00" cy="399.60" r="1.5" fill="#fff" stroke="#000" stroke-width="1.25"/>
<circle cx="421.40" cy="380.90" r="1.5" fill="#fff" stroke="#000" stroke-width="1.25"/>
<circle cx="424.60" cy="364.00" r="1.5" fill="#fff" stroke="#000" stroke-width="1.25"/>
<circle cx="427.90" cy="349.70" r="1.5" fill="#fff" stroke="#000" stroke-width="1.25"/>
<circle cx="431.00" cy="332.00" r="1.5" fill="#fff" stroke="#000" stroke-width="1.25"/>
<path d="M366.00,464.00 L369.20,458.00 L372.50,452.00 L375.80,455.00 L379.00,462.00 L382.30,466.00 L385.50,466.00 L388.60,450.30 L392.00,443.80 L395.10,437.30 L398.50,427.00 L401.70,412.00 L405.00,395.00 L408.20,376.00 L411.50,354.00 L414.70,335.00 L418.00,316.80" fill="none" stroke="#000" stroke-width="1.25" stroke-linejoin="round"/>
<circle cx="366.00" cy="464.00" r="1.5" fill="#fff" stroke="#000" stroke-width="1.25"/>
<circle cx="369.20" cy="458.00" r="1.5" fill="#fff" stroke="#000" stroke-width="1.25"/>
<circle cx="372.50" cy="452.00" r="1.5" fill="#fff" stroke="#000" stroke-width="1.25"/>
<circle cx="375.80" cy="455.00" r="1.5" fill="#fff" stroke="#000" stroke-width="1.25"/>
<circle cx="379.00" cy="462.00" r="1.5" fill="#fff" stroke="#000" stroke-width="1.25"/>
<circle cx="382.30" cy="466.00" r="1.5" fill="#fff" stroke="#000" stroke-width="1.25"/>
<circle cx="385.50" cy="466.00" r="1.5" fill="#fff" stroke="#000" stroke-width="1.25"/>
<circle cx="388.60" cy="450.30" r="1.5" fill="#fff" stroke="#000" stroke-width="1.25"/>
<circle cx="392.00" cy="443.80" r="1.5" fill="#fff" stroke="#000" stroke-width="1.25"/>
<circle cx="395.10" cy="437.30" r="1.5" fill="#fff" stroke="#000" stroke-width="1.25"/>
<circle cx="398.50" cy="427.00" r="1.5" fill="#fff" stroke="#000" stroke-width="1.25"/>
<circle cx="401.70" cy="412.00" r="1.5" fill="#fff" stroke="#000" stroke-width="1.25"/>
<circle cx="405.00" cy="395.00" r="1.5" fill="#fff" stroke="#000" stroke-width="1.25"/>
<circle cx="408.20" cy="376.00" r="1.5" fill="#fff" stroke="#000" stroke-width="1.25"/>
<circle cx="411.50" cy="354.00" r="1.5" fill="#fff" stroke="#000" stroke-width="1.25"/>
<circle cx="414.70" cy="335.00" r="1.5" fill="#fff" stroke="#000" stroke-width="1.25"/>
<circle cx="418.00" cy="316.80" r="1.5" fill="#fff" stroke="#000" stroke-width="1.25"/>
<path d="M362.00,465.00 L365.20,459.00 L368.50,452.00 L371.80,447.00 L375.00,452.00 L378.30,458.00 L381.50,453.00 L384.70,445.00 L388.00,436.00 L391.20,424.00 L394.50,409.00 L397.70,392.00 L401.00,374.00 L404.20,356.00 L407.50,340.00 L410.70,325.00" fill="none" stroke="#000" stroke-width="1.25" stroke-linejoin="round"/>
<circle cx="362.00" cy="465.00" r="1.5" fill="#fff" stroke="#000" stroke-width="1.25"/>
<circle cx="365.20" cy="459.00" r="1.5" fill="#fff" stroke="#000" stroke-width="1.25"/>
<circle cx="368.50" cy="452.00" r="1.5" fill="#fff" stroke="#000" stroke-width="1.25"/>
<circle cx="371.80" cy="447.00" r="1.5" fill="#fff" stroke="#000" stroke-width="1.25"/>
<circle cx="375.00" cy="452.00" r="1.5" fill="#fff" stroke="#000" stroke-width="1.25"/>
<circle cx="378.30" cy="458.00" r="1.5" fill="#fff" stroke="#000" stroke-width="1.25"/>
<circle cx="381.50" cy="453.00" r="1.5" fill="#fff" stroke="#000" stroke-width="1.25"/>
<circle cx="384.70" cy="445.00" r="1.5" fill="#fff" stroke="#000" stroke-width="1.25"/>
<circle cx="388.00" cy="436.00" r="1.5" fill="#fff" stroke="#000" stroke-width="1.25"/>
<circle cx="391.20" cy="424.00" r="1.5" fill="#fff" stroke="#000" stroke-width="1.25"/>
<circle cx="394.50" cy="409.00" r="1.5" fill="#fff" stroke="#000" stroke-width="1.25"/>
<circle cx="397.70" cy="392.00" r="1.5" fill="#fff" stroke="#000" stroke-width="1.25"/>
<circle cx="401.00" cy="374.00" r="1.5" fill="#fff" stroke="#000" stroke-width="1.25"/>
<circle cx="404.20" cy="356.00" r="1.5" fill="#fff" stroke="#000" stroke-width="1.25"/>
<circle cx="407.50" cy="340.00" r="1.5" fill="#fff" stroke="#000" stroke-width="1.25"/>
<circle cx="410.70" cy="325.00" r="1.5" fill="#fff" stroke="#000" stroke-width="1.25"/>
<line x1="71.30" y1="560.00" x2="71.30" y2="749.90" stroke="#000" stroke-width="1.3"/>
<line x1="70.70" y1="749.30" x2="243.30" y2="749.30" stroke="#000" stroke-width="1.3"/>
<line x1="68.50" y1="749.30" x2="71.30" y2="749.30" stroke="#000" stroke-width="1.3"/>
<text x="68.40" y="752.70" font-size="9.6" text-anchor="end" font-weight="normal" >0.0</text>
<line x1="68.50" y1="686.40" x2="71.30" y2="686.40" stroke="#000" stroke-width="1.3"/>
<text x="68.40" y="689.80" font-size="9.6" text-anchor="end" font-weight="normal" >0.5</text>
<line x1="68.50" y1="623.50" x2="71.30" y2="623.50" stroke="#000" stroke-width="1.3"/>
<text x="68.40" y="626.90" font-size="9.6" text-anchor="end" font-weight="normal" >1.0</text>
<line x1="68.50" y1="560.60" x2="71.30" y2="560.60" stroke="#000" stroke-width="1.3"/>
<text x="68.40" y="564.00" font-size="9.6" text-anchor="end" font-weight="normal" >1.5</text>
<line x1="71.30" y1="749.30" x2="71.30" y2="752.00" stroke="#000" stroke-width="1.3"/>
<text x="71.30" y="761.80" font-size="9.6" text-anchor="middle" font-weight="normal" >0</text>
<line x1="120.45" y1="749.30" x2="120.45" y2="752.00" stroke="#000" stroke-width="1.3"/>
<text x="120.45" y="761.80" font-size="9.6" text-anchor="middle" font-weight="normal" >100</text>
<line x1="169.60" y1="749.30" x2="169.60" y2="752.00" stroke="#000" stroke-width="1.3"/>
<text x="169.60" y="761.80" font-size="9.6" text-anchor="middle" font-weight="normal" >200</text>
<line x1="218.75" y1="749.30" x2="218.75" y2="752.00" stroke="#000" stroke-width="1.3"/>
<text x="218.75" y="761.80" font-size="9.6" text-anchor="middle" font-weight="normal" >300</text>
<text x="153.50" y="547.50" font-size="13.2" text-anchor="middle" font-weight="normal" >α-PD-1</text>
<text transform="translate(25.60,556.80) scale(1.08,1)" font-size="14.4" font-weight="bold">D</text>
<text transform="translate(44.30,656.80) rotate(-90)" font-size="12.7" text-anchor="middle" word-spacing="0.6">Tumor size (cm<tspan font-size="7.8" dy="-4.6">2</tspan><tspan dy="4.6">)</tspan></text>
<text x="72.80" y="783.80" font-size="13" text-anchor="start" font-weight="normal" word-spacing="1.6">Days after MCA inoculation</text>
<path d="M108.89,730.67 L112.32,710.44 L115.75,695.12 L119.18,675.52 L122.61,655.38 L126.04,630.78 L129.47,610.39 L132.90,592.10" fill="none" stroke="#000" stroke-width="1.25" stroke-linejoin="round"/>
<rect x="107.34" y="729.12" width="3.1" height="3.1" fill="#fff" stroke="#000" stroke-width="1.05"/>
<rect x="110.77" y="708.89" width="3.1" height="3.1" fill="#fff" stroke="#000" stroke-width="1.05"/>
<rect x="114.20" y="693.57" width="3.1" height="3.1" fill="#fff" stroke="#000" stroke-width="1.05"/>
<rect x="117.63" y="673.97" width="3.1" height="3.1" fill="#fff" stroke="#000" stroke-width="1.05"/>
<rect x="121.06" y="653.83" width="3.1" height="3.1" fill="#fff" stroke="#000" stroke-width="1.05"/>
<rect x="124.49" y="629.23" width="3.1" height="3.1" fill="#fff" stroke="#000" stroke-width="1.05"/>
<rect x="127.92" y="608.84" width="3.1" height="3.1" fill="#fff" stroke="#000" stroke-width="1.05"/>
<rect x="131.35" y="590.55" width="3.1" height="3.1" fill="#fff" stroke="#000" stroke-width="1.05"/>
<path d="M111.80,729.63 L115.23,720.45 L118.66,708.73 L122.09,699.41 L125.52,692.98 L128.95,682.97 L132.38,672.02 L135.81,654.32 L139.24,634.26 L142.67,611.24 L146.10,591.00" fill="none" stroke="#000" stroke-width="1.25" stroke-linejoin="round"/>
<rect x="110.25" y="728.08" width="3.1" height="3.1" fill="#fff" stroke="#000" stroke-width="1.05"/>
<rect x="113.68" y="718.90" width="3.1" height="3.1" fill="#fff" stroke="#000" stroke-width="1.05"/>
<rect x="117.11" y="707.18" width="3.1" height="3.1" fill="#fff" stroke="#000" stroke-width="1.05"/>
<rect x="120.54" y="697.86" width="3.1" height="3.1" fill="#fff" stroke="#000" stroke-width="1.05"/>
<rect x="123.97" y="691.43" width="3.1" height="3.1" fill="#fff" stroke="#000" stroke-width="1.05"/>
<rect x="127.40" y="681.42" width="3.1" height="3.1" fill="#fff" stroke="#000" stroke-width="1.05"/>
<rect x="130.83" y="670.47" width="3.1" height="3.1" fill="#fff" stroke="#000" stroke-width="1.05"/>
<rect x="134.26" y="652.77" width="3.1" height="3.1" fill="#fff" stroke="#000" stroke-width="1.05"/>
<rect x="137.69" y="632.71" width="3.1" height="3.1" fill="#fff" stroke="#000" stroke-width="1.05"/>
<rect x="141.12" y="609.69" width="3.1" height="3.1" fill="#fff" stroke="#000" stroke-width="1.05"/>
<rect x="144.55" y="589.45" width="3.1" height="3.1" fill="#fff" stroke="#000" stroke-width="1.05"/>
<path d="M115.90,731.22 L119.33,719.59 L122.76,713.29 L126.19,702.63 L129.62,693.62 L133.05,681.10 L136.48,670.02 L139.91,651.98 L143.34,634.57 L146.77,611.90 L150.20,592.10" fill="none" stroke="#000" stroke-width="1.25" stroke-linejoin="round"/>
<rect x="114.35" y="729.67" width="3.1" height="3.1" fill="#fff" stroke="#000" stroke-width="1.05"/>
<rect x="117.78" y="718.04" width="3.1" height="3.1" fill="#fff" stroke="#000" stroke-width="1.05"/>
<rect x="121.21" y="711.74" width="3.1" height="3.1" fill="#fff" stroke="#000" stroke-width="1.05"/>
<rect x="124.64" y="701.08" width="3.1" height="3.1" fill="#fff" stroke="#000" stroke-width="1.05"/>
<rect x="128.07" y="692.07" width="3.1" height="3.1" fill="#fff" stroke="#000" stroke-width="1.05"/>
<rect x="131.50" y="679.55" width="3.1" height="3.1" fill="#fff" stroke="#000" stroke-width="1.05"/>
<rect x="134.93" y="668.47" width="3.1" height="3.1" fill="#fff" stroke="#000" stroke-width="1.05"/>
<rect x="138.36" y="650.43" width="3.1" height="3.1" fill="#fff" stroke="#000" stroke-width="1.05"/>
<rect x="141.79" y="633.02" width="3.1" height="3.1" fill="#fff" stroke="#000" stroke-width="1.05"/>
<rect x="145.22" y="610.35" width="3.1" height="3.1" fill="#fff" stroke="#000" stroke-width="1.05"/>
<rect x="148.65" y="590.55" width="3.1" height="3.1" fill="#fff" stroke="#000" stroke-width="1.05"/>
<path d="M119.37,732.45 L122.80,725.24 L126.23,717.68 L129.66,706.78 L133.09,698.06 L136.52,688.26 L139.95,683.72 L143.38,670.32 L146.81,656.59 L150.24,639.54 L153.67,617.33 L157.10,595.60" fill="none" stroke="#000" stroke-width="1.25" stroke-linejoin="round"/>
<rect x="117.82" y="730.90" width="3.1" height="3.1" fill="#fff" stroke="#000" stroke-width="1.05"/>
<rect x="121.25" y="723.69" width="3.1" height="3.1" fill="#fff" stroke="#000" stroke-width="1.05"/>
<rect x="124.68" y="716.13" width="3.1" height="3.1" fill="#fff" stroke="#000" stroke-width="1.05"/>
<rect x="128.11" y="705.23" width="3.1" height="3.1" fill="#fff" stroke="#000" stroke-width="1.05"/>
<rect x="131.54" y="696.51" width="3.1" height="3.1" fill="#fff" stroke="#000" stroke-width="1.05"/>
<rect x="134.97" y="686.71" width="3.1" height="3.1" fill="#fff" stroke="#000" stroke-width="1.05"/>
<rect x="138.40" y="682.17" width="3.1" height="3.1" fill="#fff" stroke="#000" stroke-width="1.05"/>
<rect x="141.83" y="668.77" width="3.1" height="3.1" fill="#fff" stroke="#000" stroke-width="1.05"/>
<rect x="145.26" y="655.04" width="3.1" height="3.1" fill="#fff" stroke="#000" stroke-width="1.05"/>
<rect x="148.69" y="637.99" width="3.1" height="3.1" fill="#fff" stroke="#000" stroke-width="1.05"/>
<rect x="152.12" y="615.78" width="3.1" height="3.1" fill="#fff" stroke="#000" stroke-width="1.05"/>
<rect x="155.55" y="594.05" width="3.1" height="3.1" fill="#fff" stroke="#000" stroke-width="1.05"/>
<path d="M122.84,728.99 L126.27,720.56 L129.70,715.80 L133.13,705.89 L136.56,700.00 L139.99,695.10 L143.42,687.94 L146.85,678.88 L150.28,668.49 L153.71,653.94 L157.14,636.29 L160.57,614.41 L164.00,595.00" fill="none" stroke="#000" stroke-width="1.25" stroke-linejoin="round"/>
<rect x="121.29" y="727.44" width="3.1" height="3.1" fill="#fff" stroke="#000" stroke-width="1.05"/>
<rect x="124.72" y="719.01" width="3.1" height="3.1" fill="#fff" stroke="#000" stroke-width="1.05"/>
<rect x="128.15" y="714.25" width="3.1" height="3.1" fill="#fff" stroke="#000" stroke-width="1.05"/>
<rect x="131.58" y="704.34" width="3.1" height="3.1" fill="#fff" stroke="#000" stroke-width="1.05"/>
<rect x="135.01" y="698.45" width="3.1" height="3.1" fill="#fff" stroke="#000" stroke-width="1.05"/>
<rect x="138.44" y="693.55" width="3.1" height="3.1" fill="#fff" stroke="#000" stroke-width="1.05"/>
<rect x="141.87" y="686.39" width="3.1" height="3.1" fill="#fff" stroke="#000" stroke-width="1.05"/>
<rect x="145.30" y="677.33" width="3.1" height="3.1" fill="#fff" stroke="#000" stroke-width="1.05"/>
<rect x="148.73" y="666.94" width="3.1" height="3.1" fill="#fff" stroke="#000" stroke-width="1.05"/>
<rect x="152.16" y="652.39" width="3.1" height="3.1" fill="#fff" stroke="#000" stroke-width="1.05"/>
<rect x="155.59" y="634.74" width="3.1" height="3.1" fill="#fff" stroke="#000" stroke-width="1.05"/>
<rect x="159.02" y="612.86" width="3.1" height="3.1" fill="#fff" stroke="#000" stroke-width="1.05"/>
<rect x="162.45" y="593.45" width="3.1" height="3.1" fill="#fff" stroke="#000" stroke-width="1.05"/>
<path d="M108.86,731.05 L112.29,718.22 L115.72,703.07 L119.15,685.67 L122.58,672.08 L126.01,653.13 L129.44,635.78 L132.87,618.49 L136.30,601.30" fill="none" stroke="#000" stroke-width="1.25" stroke-linejoin="round"/>
<rect x="107.31" y="729.50" width="3.1" height="3.1" fill="#fff" stroke="#000" stroke-width="1.05"/>
<rect x="110.74" y="716.67" width="3.1" height="3.1" fill="#fff" stroke="#000" stroke-width="1.05"/>
<rect x="114.17" y="701.52" width="3.1" height="3.1" fill="#fff" stroke="#000" stroke-width="1.05"/>
<rect x="117.60" y="684.12" width="3.1" height="3.1" fill="#fff" stroke="#000" stroke-width="1.05"/>
<rect x="121.03" y="670.53" width="3.1" height="3.1" fill="#fff" stroke="#000" stroke-width="1.05"/>
<rect x="124.46" y="651.58" width="3.1" height="3.1" fill="#fff" stroke="#000" stroke-width="1.05"/>
<rect x="127.89" y="634.23" width="3.1" height="3.1" fill="#fff" stroke="#000" stroke-width="1.05"/>
<rect x="131.32" y="616.94" width="3.1" height="3.1" fill="#fff" stroke="#000" stroke-width="1.05"/>
<rect x="134.75" y="599.75" width="3.1" height="3.1" fill="#fff" stroke="#000" stroke-width="1.05"/>
<path d="M112.36,731.97 L115.79,718.87 L119.22,706.43 L122.65,694.16 L126.08,681.19 L129.51,664.36 L132.94,645.96 L136.37,624.96 L139.80,601.30" fill="none" stroke="#000" stroke-width="1.25" stroke-linejoin="round"/>
<rect x="110.81" y="730.42" width="3.1" height="3.1" fill="#fff" stroke="#000" stroke-width="1.05"/>
<rect x="114.24" y="717.32" width="3.1" height="3.1" fill="#fff" stroke="#000" stroke-width="1.05"/>
<rect x="117.67" y="704.88" width="3.1" height="3.1" fill="#fff" stroke="#000" stroke-width="1.05"/>
<rect x="121.10" y="692.61" width="3.1" height="3.1" fill="#fff" stroke="#000" stroke-width="1.05"/>
<rect x="124.53" y="679.64" width="3.1" height="3.1" fill="#fff" stroke="#000" stroke-width="1.05"/>
<rect x="127.96" y="662.81" width="3.1" height="3.1" fill="#fff" stroke="#000" stroke-width="1.05"/>
<rect x="131.39" y="644.41" width="3.1" height="3.1" fill="#fff" stroke="#000" stroke-width="1.05"/>
<rect x="134.82" y="623.41" width="3.1" height="3.1" fill="#fff" stroke="#000" stroke-width="1.05"/>
<rect x="138.25" y="599.75" width="3.1" height="3.1" fill="#fff" stroke="#000" stroke-width="1.05"/>
<path d="M111.83,731.68 L115.26,722.19 L118.69,712.01 L122.12,698.23 L125.55,686.15 L128.98,676.36 L132.41,660.21 L135.84,640.36 L139.27,621.29 L142.70,597.90" fill="none" stroke="#000" stroke-width="1.25" stroke-linejoin="round"/>
<rect x="110.28" y="730.13" width="3.1" height="3.1" fill="#fff" stroke="#000" stroke-width="1.05"/>
<rect x="113.71" y="720.64" width="3.1" height="3.1" fill="#fff" stroke="#000" stroke-width="1.05"/>
<rect x="117.14" y="710.46" width="3.1" height="3.1" fill="#fff" stroke="#000" stroke-width="1.05"/>
<rect x="120.57" y="696.68" width="3.1" height="3.1" fill="#fff" stroke="#000" stroke-width="1.05"/>
<rect x="124.00" y="684.60" width="3.1" height="3.1" fill="#fff" stroke="#000" stroke-width="1.05"/>
<rect x="127.43" y="674.81" width="3.1" height="3.1" fill="#fff" stroke="#000" stroke-width="1.05"/>
<rect x="130.86" y="658.66" width="3.1" height="3.1" fill="#fff" stroke="#000" stroke-width="1.05"/>
<rect x="134.29" y="638.81" width="3.1" height="3.1" fill="#fff" stroke="#000" stroke-width="1.05"/>
<rect x="137.72" y="619.74" width="3.1" height="3.1" fill="#fff" stroke="#000" stroke-width="1.05"/>
<rect x="141.15" y="596.35" width="3.1" height="3.1" fill="#fff" stroke="#000" stroke-width="1.05"/>
<path d="M118.70,731.52 L122.13,723.87 L125.56,711.26 L128.99,702.16 L132.42,696.35 L135.85,688.07 L139.28,674.91 L142.71,664.98 L146.14,642.64 L149.57,622.11 L153.00,597.30" fill="none" stroke="#000" stroke-width="1.25" stroke-linejoin="round"/>
<rect x="117.15" y="729.97" width="3.1" height="3.1" fill="#fff" stroke="#000" stroke-width="1.05"/>
<rect x="120.58" y="722.32" width="3.1" height="3.1" fill="#fff" stroke="#000" stroke-width="1.05"/>
<rect x="124.01" y="709.71" width="3.1" height="3.1" fill="#fff" stroke="#000" stroke-width="1.05"/>
<rect x="127.44" y="700.61" width="3.1" height="3.1" fill="#fff" stroke="#000" stroke-width="1.05"/>
<rect x="130.87" y="694.80" width="3.1" height="3.1" fill="#fff" stroke="#000" stroke-width="1.05"/>
<rect x="134.30" y="686.52" width="3.1" height="3.1" fill="#fff" stroke="#000" stroke-width="1.05"/>
<rect x="137.73" y="673.36" width="3.1" height="3.1" fill="#fff" stroke="#000" stroke-width="1.05"/>
<rect x="141.16" y="663.43" width="3.1" height="3.1" fill="#fff" stroke="#000" stroke-width="1.05"/>
<rect x="144.59" y="641.09" width="3.1" height="3.1" fill="#fff" stroke="#000" stroke-width="1.05"/>
<rect x="148.02" y="620.56" width="3.1" height="3.1" fill="#fff" stroke="#000" stroke-width="1.05"/>
<rect x="151.45" y="595.75" width="3.1" height="3.1" fill="#fff" stroke="#000" stroke-width="1.05"/>
<path d="M122.87,728.73 L126.30,720.72 L129.73,713.82 L133.16,703.85 L136.59,695.46 L140.02,690.49 L143.45,680.90 L146.88,671.36 L150.31,659.37 L153.74,642.51 L157.17,622.14 L160.60,600.80" fill="none" stroke="#000" stroke-width="1.25" stroke-linejoin="round"/>
<rect x="121.32" y="727.18" width="3.1" height="3.1" fill="#fff" stroke="#000" stroke-width="1.05"/>
<rect x="124.75" y="719.17" width="3.1" height="3.1" fill="#fff" stroke="#000" stroke-width="1.05"/>
<rect x="128.18" y="712.27" width="3.1" height="3.1" fill="#fff" stroke="#000" stroke-width="1.05"/>
<rect x="131.61" y="702.30" width="3.1" height="3.1" fill="#fff" stroke="#000" stroke-width="1.05"/>
<rect x="135.04" y="693.91" width="3.1" height="3.1" fill="#fff" stroke="#000" stroke-width="1.05"/>
<rect x="138.47" y="688.94" width="3.1" height="3.1" fill="#fff" stroke="#000" stroke-width="1.05"/>
<rect x="141.90" y="679.35" width="3.1" height="3.1" fill="#fff" stroke="#000" stroke-width="1.05"/>
<rect x="145.33" y="669.81" width="3.1" height="3.1" fill="#fff" stroke="#000" stroke-width="1.05"/>
<rect x="148.76" y="657.82" width="3.1" height="3.1" fill="#fff" stroke="#000" stroke-width="1.05"/>
<rect x="152.19" y="640.96" width="3.1" height="3.1" fill="#fff" stroke="#000" stroke-width="1.05"/>
<rect x="155.62" y="620.59" width="3.1" height="3.1" fill="#fff" stroke="#000" stroke-width="1.05"/>
<rect x="159.05" y="599.25" width="3.1" height="3.1" fill="#fff" stroke="#000" stroke-width="1.05"/>
<path d="M123.37,729.55 L126.80,722.79 L130.23,714.03 L133.66,705.64 L137.09,697.39 L140.52,689.21 L143.95,679.10 L147.38,668.24 L150.81,655.14 L154.24,639.33 L157.67,620.92 L161.10,604.80" fill="none" stroke="#000" stroke-width="1.25" stroke-linejoin="round"/>
<rect x="121.82" y="728.00" width="3.1" height="3.1" fill="#fff" stroke="#000" stroke-width="1.05"/>
<rect x="125.25" y="721.24" width="3.1" height="3.1" fill="#fff" stroke="#000" stroke-width="1.05"/>
<rect x="128.68" y="712.48" width="3.1" height="3.1" fill="#fff" stroke="#000" stroke-width="1.05"/>
<rect x="132.11" y="704.09" width="3.1" height="3.1" fill="#fff" stroke="#000" stroke-width="1.05"/>
<rect x="135.54" y="695.84" width="3.1" height="3.1" fill="#fff" stroke="#000" stroke-width="1.05"/>
<rect x="138.97" y="687.66" width="3.1" height="3.1" fill="#fff" stroke="#000" stroke-width="1.05"/>
<rect x="142.40" y="677.55" width="3.1" height="3.1" fill="#fff" stroke="#000" stroke-width="1.05"/>
<rect x="145.83" y="666.69" width="3.1" height="3.1" fill="#fff" stroke="#000" stroke-width="1.05"/>
<rect x="149.26" y="653.59" width="3.1" height="3.1" fill="#fff" stroke="#000" stroke-width="1.05"/>
<rect x="152.69" y="637.78" width="3.1" height="3.1" fill="#fff" stroke="#000" stroke-width="1.05"/>
<rect x="156.12" y="619.37" width="3.1" height="3.1" fill="#fff" stroke="#000" stroke-width="1.05"/>
<rect x="159.55" y="603.25" width="3.1" height="3.1" fill="#fff" stroke="#000" stroke-width="1.05"/>
<path d="M113.63,728.23 L117.06,715.16 L120.49,701.66 L123.92,689.39 L127.35,678.04 L130.78,664.25 L134.21,652.96 L137.64,632.66 L141.07,617.97 L144.50,603.00" fill="none" stroke="#000" stroke-width="1.25" stroke-linejoin="round"/>
<rect x="112.08" y="726.68" width="3.1" height="3.1" fill="#fff" stroke="#000" stroke-width="1.05"/>
<rect x="115.51" y="713.61" width="3.1" height="3.1" fill="#fff" stroke="#000" stroke-width="1.05"/>
<rect x="118.94" y="700.11" width="3.1" height="3.1" fill="#fff" stroke="#000" stroke-width="1.05"/>
<rect x="122.37" y="687.84" width="3.1" height="3.1" fill="#fff" stroke="#000" stroke-width="1.05"/>
<rect x="125.80" y="676.49" width="3.1" height="3.1" fill="#fff" stroke="#000" stroke-width="1.05"/>
<rect x="129.23" y="662.70" width="3.1" height="3.1" fill="#fff" stroke="#000" stroke-width="1.05"/>
<rect x="132.66" y="651.41" width="3.1" height="3.1" fill="#fff" stroke="#000" stroke-width="1.05"/>
<rect x="136.09" y="631.11" width="3.1" height="3.1" fill="#fff" stroke="#000" stroke-width="1.05"/>
<rect x="139.52" y="616.42" width="3.1" height="3.1" fill="#fff" stroke="#000" stroke-width="1.05"/>
<rect x="142.95" y="601.45" width="3.1" height="3.1" fill="#fff" stroke="#000" stroke-width="1.05"/>
<path d="M113.20,730.74 L116.63,719.22 L120.06,711.86 L123.49,703.15 L126.92,695.44 L130.35,681.74 L133.78,670.71 L137.21,655.12 L140.64,636.35 L144.07,617.06 L147.50,599.00" fill="none" stroke="#000" stroke-width="1.25" stroke-linejoin="round"/>
<rect x="111.65" y="729.19" width="3.1" height="3.1" fill="#fff" stroke="#000" stroke-width="1.05"/>
<rect x="115.08" y="717.67" width="3.1" height="3.1" fill="#fff" stroke="#000" stroke-width="1.05"/>
<rect x="118.51" y="710.31" width="3.1" height="3.1" fill="#fff" stroke="#000" stroke-width="1.05"/>
<rect x="121.94" y="701.60" width="3.1" height="3.1" fill="#fff" stroke="#000" stroke-width="1.05"/>
<rect x="125.37" y="693.89" width="3.1" height="3.1" fill="#fff" stroke="#000" stroke-width="1.05"/>
<rect x="128.80" y="680.19" width="3.1" height="3.1" fill="#fff" stroke="#000" stroke-width="1.05"/>
<rect x="132.23" y="669.16" width="3.1" height="3.1" fill="#fff" stroke="#000" stroke-width="1.05"/>
<rect x="135.66" y="653.57" width="3.1" height="3.1" fill="#fff" stroke="#000" stroke-width="1.05"/>
<rect x="139.09" y="634.80" width="3.1" height="3.1" fill="#fff" stroke="#000" stroke-width="1.05"/>
<rect x="142.52" y="615.51" width="3.1" height="3.1" fill="#fff" stroke="#000" stroke-width="1.05"/>
<rect x="145.95" y="597.45" width="3.1" height="3.1" fill="#fff" stroke="#000" stroke-width="1.05"/>
<path d="M118.13,730.47 L121.56,720.01 L124.99,710.09 L128.42,703.64 L131.85,692.04 L135.28,683.29 L138.71,670.99 L142.14,649.90 L145.57,626.80 L149.00,606.00" fill="none" stroke="#000" stroke-width="1.25" stroke-linejoin="round"/>
<rect x="116.58" y="728.92" width="3.1" height="3.1" fill="#fff" stroke="#000" stroke-width="1.05"/>
<rect x="120.01" y="718.46" width="3.1" height="3.1" fill="#fff" stroke="#000" stroke-width="1.05"/>
<rect x="123.44" y="708.54" width="3.1" height="3.1" fill="#fff" stroke="#000" stroke-width="1.05"/>
<rect x="126.87" y="702.09" width="3.1" height="3.1" fill="#fff" stroke="#000" stroke-width="1.05"/>
<rect x="130.30" y="690.49" width="3.1" height="3.1" fill="#fff" stroke="#000" stroke-width="1.05"/>
<rect x="133.73" y="681.74" width="3.1" height="3.1" fill="#fff" stroke="#000" stroke-width="1.05"/>
<rect x="137.16" y="669.44" width="3.1" height="3.1" fill="#fff" stroke="#000" stroke-width="1.05"/>
<rect x="140.59" y="648.35" width="3.1" height="3.1" fill="#fff" stroke="#000" stroke-width="1.05"/>
<rect x="144.02" y="625.25" width="3.1" height="3.1" fill="#fff" stroke="#000" stroke-width="1.05"/>
<rect x="147.45" y="604.45" width="3.1" height="3.1" fill="#fff" stroke="#000" stroke-width="1.05"/>
<path d="M120.63,732.07 L124.06,723.50 L127.49,710.26 L130.92,698.09 L134.35,686.38 L137.78,679.24 L141.21,663.68 L144.64,642.65 L148.07,622.75 L151.50,602.00" fill="none" stroke="#000" stroke-width="1.25" stroke-linejoin="round"/>
<rect x="119.08" y="730.52" width="3.1" height="3.1" fill="#fff" stroke="#000" stroke-width="1.05"/>
<rect x="122.51" y="721.95" width="3.1" height="3.1" fill="#fff" stroke="#000" stroke-width="1.05"/>
<rect x="125.94" y="708.71" width="3.1" height="3.1" fill="#fff" stroke="#000" stroke-width="1.05"/>
<rect x="129.37" y="696.54" width="3.1" height="3.1" fill="#fff" stroke="#000" stroke-width="1.05"/>
<rect x="132.80" y="684.83" width="3.1" height="3.1" fill="#fff" stroke="#000" stroke-width="1.05"/>
<rect x="136.23" y="677.69" width="3.1" height="3.1" fill="#fff" stroke="#000" stroke-width="1.05"/>
<rect x="139.66" y="662.13" width="3.1" height="3.1" fill="#fff" stroke="#000" stroke-width="1.05"/>
<rect x="143.09" y="641.10" width="3.1" height="3.1" fill="#fff" stroke="#000" stroke-width="1.05"/>
<rect x="146.52" y="621.20" width="3.1" height="3.1" fill="#fff" stroke="#000" stroke-width="1.05"/>
<rect x="149.95" y="600.45" width="3.1" height="3.1" fill="#fff" stroke="#000" stroke-width="1.05"/>
<path d="M120.20,728.87 L123.63,717.58 L127.06,706.46 L130.49,698.79 L133.92,688.30 L137.35,680.34 L140.78,668.40 L144.21,653.72 L147.64,636.08 L151.07,620.68 L154.50,607.00" fill="none" stroke="#000" stroke-width="1.25" stroke-linejoin="round"/>
<rect x="118.65" y="727.32" width="3.1" height="3.1" fill="#fff" stroke="#000" stroke-width="1.05"/>
<rect x="122.08" y="716.03" width="3.1" height="3.1" fill="#fff" stroke="#000" stroke-width="1.05"/>
<rect x="125.51" y="704.91" width="3.1" height="3.1" fill="#fff" stroke="#000" stroke-width="1.05"/>
<rect x="128.94" y="697.24" width="3.1" height="3.1" fill="#fff" stroke="#000" stroke-width="1.05"/>
<rect x="132.37" y="686.75" width="3.1" height="3.1" fill="#fff" stroke="#000" stroke-width="1.05"/>
<rect x="135.80" y="678.79" width="3.1" height="3.1" fill="#fff" stroke="#000" stroke-width="1.05"/>
<rect x="139.23" y="666.85" width="3.1" height="3.1" fill="#fff" stroke="#000" stroke-width="1.05"/>
<rect x="142.66" y="652.17" width="3.1" height="3.1" fill="#fff" stroke="#000" stroke-width="1.05"/>
<rect x="146.09" y="634.53" width="3.1" height="3.1" fill="#fff" stroke="#000" stroke-width="1.05"/>
<rect x="149.52" y="619.13" width="3.1" height="3.1" fill="#fff" stroke="#000" stroke-width="1.05"/>
<rect x="152.95" y="605.45" width="3.1" height="3.1" fill="#fff" stroke="#000" stroke-width="1.05"/>
<path d="M118.27,728.80 L121.70,720.92 L125.13,714.15 L128.56,701.96 L131.99,694.74 L135.42,684.26 L138.85,678.81 L142.28,664.38 L145.71,653.71 L149.14,636.74 L152.57,619.36 L156.00,600.50" fill="none" stroke="#000" stroke-width="1.25" stroke-linejoin="round"/>
<rect x="116.72" y="727.25" width="3.1" height="3.1" fill="#fff" stroke="#000" stroke-width="1.05"/>
<rect x="120.15" y="719.37" width="3.1" height="3.1" fill="#fff" stroke="#000" stroke-width="1.05"/>
<rect x="123.58" y="712.60" width="3.1" height="3.1" fill="#fff" stroke="#000" stroke-width="1.05"/>
<rect x="127.01" y="700.41" width="3.1" height="3.1" fill="#fff" stroke="#000" stroke-width="1.05"/>
<rect x="130.44" y="693.19" width="3.1" height="3.1" fill="#fff" stroke="#000" stroke-width="1.05"/>
<rect x="133.87" y="682.71" width="3.1" height="3.1" fill="#fff" stroke="#000" stroke-width="1.05"/>
<rect x="137.30" y="677.26" width="3.1" height="3.1" fill="#fff" stroke="#000" stroke-width="1.05"/>
<rect x="140.73" y="662.83" width="3.1" height="3.1" fill="#fff" stroke="#000" stroke-width="1.05"/>
<rect x="144.16" y="652.16" width="3.1" height="3.1" fill="#fff" stroke="#000" stroke-width="1.05"/>
<rect x="147.59" y="635.19" width="3.1" height="3.1" fill="#fff" stroke="#000" stroke-width="1.05"/>
<rect x="151.02" y="617.81" width="3.1" height="3.1" fill="#fff" stroke="#000" stroke-width="1.05"/>
<rect x="154.45" y="598.95" width="3.1" height="3.1" fill="#fff" stroke="#000" stroke-width="1.05"/>
<path d="M117.34,728.85 L120.77,722.25 L124.20,715.69 L127.63,711.62 L131.06,703.27 L134.49,698.12 L137.92,688.84 L141.35,684.77 L144.78,674.06 L148.21,662.25 L151.64,639.92 L155.07,624.61 L158.50,604.00" fill="none" stroke="#000" stroke-width="1.25" stroke-linejoin="round"/>
<rect x="115.79" y="727.30" width="3.1" height="3.1" fill="#fff" stroke="#000" stroke-width="1.05"/>
<rect x="119.22" y="720.70" width="3.1" height="3.1" fill="#fff" stroke="#000" stroke-width="1.05"/>
<rect x="122.65" y="714.14" width="3.1" height="3.1" fill="#fff" stroke="#000" stroke-width="1.05"/>
<rect x="126.08" y="710.07" width="3.1" height="3.1" fill="#fff" stroke="#000" stroke-width="1.05"/>
<rect x="129.51" y="701.72" width="3.1" height="3.1" fill="#fff" stroke="#000" stroke-width="1.05"/>
<rect x="132.94" y="696.57" width="3.1" height="3.1" fill="#fff" stroke="#000" stroke-width="1.05"/>
<rect x="136.37" y="687.29" width="3.1" height="3.1" fill="#fff" stroke="#000" stroke-width="1.05"/>
<rect x="139.80" y="683.22" width="3.1" height="3.1" fill="#fff" stroke="#000" stroke-width="1.05"/>
<rect x="143.23" y="672.51" width="3.1" height="3.1" fill="#fff" stroke="#000" stroke-width="1.05"/>
<rect x="146.66" y="660.70" width="3.1" height="3.1" fill="#fff" stroke="#000" stroke-width="1.05"/>
<rect x="150.09" y="638.37" width="3.1" height="3.1" fill="#fff" stroke="#000" stroke-width="1.05"/>
<rect x="153.52" y="623.06" width="3.1" height="3.1" fill="#fff" stroke="#000" stroke-width="1.05"/>
<rect x="156.95" y="602.45" width="3.1" height="3.1" fill="#fff" stroke="#000" stroke-width="1.05"/>
<path d="M110.13,730.22 L113.56,721.98 L116.99,709.49 L120.42,699.59 L123.85,688.53 L127.28,678.46 L130.71,664.25 L134.14,646.80 L137.57,625.16 L141.00,606.00" fill="none" stroke="#000" stroke-width="1.25" stroke-linejoin="round"/>
<rect x="108.58" y="728.67" width="3.1" height="3.1" fill="#fff" stroke="#000" stroke-width="1.05"/>
<rect x="112.01" y="720.43" width="3.1" height="3.1" fill="#fff" stroke="#000" stroke-width="1.05"/>
<rect x="115.44" y="707.94" width="3.1" height="3.1" fill="#fff" stroke="#000" stroke-width="1.05"/>
<rect x="118.87" y="698.04" width="3.1" height="3.1" fill="#fff" stroke="#000" stroke-width="1.05"/>
<rect x="122.30" y="686.98" width="3.1" height="3.1" fill="#fff" stroke="#000" stroke-width="1.05"/>
<rect x="125.73" y="676.91" width="3.1" height="3.1" fill="#fff" stroke="#000" stroke-width="1.05"/>
<rect x="129.16" y="662.70" width="3.1" height="3.1" fill="#fff" stroke="#000" stroke-width="1.05"/>
<rect x="132.59" y="645.25" width="3.1" height="3.1" fill="#fff" stroke="#000" stroke-width="1.05"/>
<rect x="136.02" y="623.61" width="3.1" height="3.1" fill="#fff" stroke="#000" stroke-width="1.05"/>
<rect x="139.45" y="604.45" width="3.1" height="3.1" fill="#fff" stroke="#000" stroke-width="1.05"/>
<path d="M118.00,728.03 L121.43,722.13 L124.86,713.21 L128.29,704.09 L131.72,692.65 L135.15,686.24 L138.58,678.70 L142.01,663.61 L145.44,648.34 L148.87,629.30 L152.30,611.00" fill="none" stroke="#000" stroke-width="1.25" stroke-linejoin="round"/>
<rect x="116.45" y="726.48" width="3.1" height="3.1" fill="#fff" stroke="#000" stroke-width="1.05"/>
<rect x="119.88" y="720.58" width="3.1" height="3.1" fill="#fff" stroke="#000" stroke-width="1.05"/>
<rect x="123.31" y="711.66" width="3.1" height="3.1" fill="#fff" stroke="#000" stroke-width="1.05"/>
<rect x="126.74" y="702.54" width="3.1" height="3.1" fill="#fff" stroke="#000" stroke-width="1.05"/>
<rect x="130.17" y="691.10" width="3.1" height="3.1" fill="#fff" stroke="#000" stroke-width="1.05"/>
<rect x="133.60" y="684.69" width="3.1" height="3.1" fill="#fff" stroke="#000" stroke-width="1.05"/>
<rect x="137.03" y="677.15" width="3.1" height="3.1" fill="#fff" stroke="#000" stroke-width="1.05"/>
<rect x="140.46" y="662.06" width="3.1" height="3.1" fill="#fff" stroke="#000" stroke-width="1.05"/>
<rect x="143.89" y="646.79" width="3.1" height="3.1" fill="#fff" stroke="#000" stroke-width="1.05"/>
<rect x="147.32" y="627.75" width="3.1" height="3.1" fill="#fff" stroke="#000" stroke-width="1.05"/>
<rect x="150.75" y="609.45" width="3.1" height="3.1" fill="#fff" stroke="#000" stroke-width="1.05"/>
<path d="M113.90,732.46 L117.33,724.41 L120.76,714.15 L124.19,705.95 L127.62,698.14 L131.05,688.31 L134.48,677.99 L137.91,663.65 L141.34,647.85 L144.77,628.29 L148.20,612.00" fill="none" stroke="#000" stroke-width="1.25" stroke-linejoin="round"/>
<rect x="112.35" y="730.91" width="3.1" height="3.1" fill="#fff" stroke="#000" stroke-width="1.05"/>
<rect x="115.78" y="722.86" width="3.1" height="3.1" fill="#fff" stroke="#000" stroke-width="1.05"/>
<rect x="119.21" y="712.60" width="3.1" height="3.1" fill="#fff" stroke="#000" stroke-width="1.05"/>
<rect x="122.64" y="704.40" width="3.1" height="3.1" fill="#fff" stroke="#000" stroke-width="1.05"/>
<rect x="126.07" y="696.59" width="3.1" height="3.1" fill="#fff" stroke="#000" stroke-width="1.05"/>
<rect x="129.50" y="686.76" width="3.1" height="3.1" fill="#fff" stroke="#000" stroke-width="1.05"/>
<rect x="132.93" y="676.44" width="3.1" height="3.1" fill="#fff" stroke="#000" stroke-width="1.05"/>
<rect x="136.36" y="662.10" width="3.1" height="3.1" fill="#fff" stroke="#000" stroke-width="1.05"/>
<rect x="139.79" y="646.30" width="3.1" height="3.1" fill="#fff" stroke="#000" stroke-width="1.05"/>
<rect x="143.22" y="626.74" width="3.1" height="3.1" fill="#fff" stroke="#000" stroke-width="1.05"/>
<rect x="146.65" y="610.45" width="3.1" height="3.1" fill="#fff" stroke="#000" stroke-width="1.05"/>
<path d="M112.00,731.00 L115.40,726.00 L118.90,720.00 L122.30,716.00 L125.70,722.00 L129.20,716.00 L132.60,717.00 L136.00,713.00 L139.40,711.90 L143.60,700.00 L147.00,682.00 L150.40,660.00 L153.90,640.00 L157.30,622.00 L160.70,608.00" fill="none" stroke="#000" stroke-width="1.25" stroke-linejoin="round"/>
<rect x="110.45" y="729.45" width="3.1" height="3.1" fill="#fff" stroke="#000" stroke-width="1.05"/>
<rect x="113.85" y="724.45" width="3.1" height="3.1" fill="#fff" stroke="#000" stroke-width="1.05"/>
<rect x="117.35" y="718.45" width="3.1" height="3.1" fill="#fff" stroke="#000" stroke-width="1.05"/>
<rect x="120.75" y="714.45" width="3.1" height="3.1" fill="#fff" stroke="#000" stroke-width="1.05"/>
<rect x="124.15" y="720.45" width="3.1" height="3.1" fill="#fff" stroke="#000" stroke-width="1.05"/>
<rect x="127.65" y="714.45" width="3.1" height="3.1" fill="#fff" stroke="#000" stroke-width="1.05"/>
<rect x="131.05" y="715.45" width="3.1" height="3.1" fill="#fff" stroke="#000" stroke-width="1.05"/>
<rect x="134.45" y="711.45" width="3.1" height="3.1" fill="#fff" stroke="#000" stroke-width="1.05"/>
<rect x="137.85" y="710.35" width="3.1" height="3.1" fill="#fff" stroke="#000" stroke-width="1.05"/>
<rect x="142.05" y="698.45" width="3.1" height="3.1" fill="#fff" stroke="#000" stroke-width="1.05"/>
<rect x="145.45" y="680.45" width="3.1" height="3.1" fill="#fff" stroke="#000" stroke-width="1.05"/>
<rect x="148.85" y="658.45" width="3.1" height="3.1" fill="#fff" stroke="#000" stroke-width="1.05"/>
<rect x="152.35" y="638.45" width="3.1" height="3.1" fill="#fff" stroke="#000" stroke-width="1.05"/>
<rect x="155.75" y="620.45" width="3.1" height="3.1" fill="#fff" stroke="#000" stroke-width="1.05"/>
<rect x="159.15" y="606.45" width="3.1" height="3.1" fill="#fff" stroke="#000" stroke-width="1.05"/>
<path d="M109.00,731.00 L112.40,727.00 L115.90,722.00 L119.30,719.00 L122.70,715.00 L126.20,717.00 L129.60,712.00 L133.00,706.00 L136.40,694.00 L139.90,678.00 L143.30,660.00 L146.70,641.00 L150.20,622.00 L153.60,606.00" fill="none" stroke="#000" stroke-width="1.25" stroke-linejoin="round"/>
<rect x="107.45" y="729.45" width="3.1" height="3.1" fill="#fff" stroke="#000" stroke-width="1.05"/>
<rect x="110.85" y="725.45" width="3.1" height="3.1" fill="#fff" stroke="#000" stroke-width="1.05"/>
<rect x="114.35" y="720.45" width="3.1" height="3.1" fill="#fff" stroke="#000" stroke-width="1.05"/>
<rect x="117.75" y="717.45" width="3.1" height="3.1" fill="#fff" stroke="#000" stroke-width="1.05"/>
<rect x="121.15" y="713.45" width="3.1" height="3.1" fill="#fff" stroke="#000" stroke-width="1.05"/>
<rect x="124.65" y="715.45" width="3.1" height="3.1" fill="#fff" stroke="#000" stroke-width="1.05"/>
<rect x="128.05" y="710.45" width="3.1" height="3.1" fill="#fff" stroke="#000" stroke-width="1.05"/>
<rect x="131.45" y="704.45" width="3.1" height="3.1" fill="#fff" stroke="#000" stroke-width="1.05"/>
<rect x="134.85" y="692.45" width="3.1" height="3.1" fill="#fff" stroke="#000" stroke-width="1.05"/>
<rect x="138.35" y="676.45" width="3.1" height="3.1" fill="#fff" stroke="#000" stroke-width="1.05"/>
<rect x="141.75" y="658.45" width="3.1" height="3.1" fill="#fff" stroke="#000" stroke-width="1.05"/>
<rect x="145.15" y="639.45" width="3.1" height="3.1" fill="#fff" stroke="#000" stroke-width="1.05"/>
<rect x="148.65" y="620.45" width="3.1" height="3.1" fill="#fff" stroke="#000" stroke-width="1.05"/>
<rect x="152.05" y="604.45" width="3.1" height="3.1" fill="#fff" stroke="#000" stroke-width="1.05"/>
<line x1="327.50" y1="563.40" x2="327.50" y2="751.80" stroke="#000" stroke-width="1.3"/>
<line x1="326.90" y1="751.20" x2="496.10" y2="751.20" stroke="#000" stroke-width="1.3"/>
<line x1="324.70" y1="751.20" x2="327.50" y2="751.20" stroke="#000" stroke-width="1.3"/>
<text x="324.60" y="754.60" font-size="9.6" text-anchor="end" font-weight="normal" >0.0</text>
<line x1="324.70" y1="688.80" x2="327.50" y2="688.80" stroke="#000" stroke-width="1.3"/>
<text x="324.60" y="692.20" font-size="9.6" text-anchor="end" font-weight="normal" >0.5</text>
<line x1="324.70" y1="626.40" x2="327.50" y2="626.40" stroke="#000" stroke-width="1.3"/>
<text x="324.60" y="629.80" font-size="9.6" text-anchor="end" font-weight="normal" >1.0</text>
<line x1="324.70" y1="564.00" x2="327.50" y2="564.00" stroke="#000" stroke-width="1.3"/>
<text x="324.60" y="567.40" font-size="9.6" text-anchor="end" font-weight="normal" >1.5</text>
<line x1="327.50" y1="751.20" x2="327.50" y2="753.90" stroke="#000" stroke-width="1.3"/>
<text x="327.50" y="762.70" font-size="9.6" text-anchor="middle" font-weight="normal" >0</text>
<line x1="375.60" y1="751.20" x2="375.60" y2="753.90" stroke="#000" stroke-width="1.3"/>
<text x="375.60" y="762.70" font-size="9.6" text-anchor="middle" font-weight="normal" >100</text>
<line x1="423.70" y1="751.20" x2="423.70" y2="753.90" stroke="#000" stroke-width="1.3"/>
<text x="423.70" y="762.70" font-size="9.6" text-anchor="middle" font-weight="normal" >200</text>
<line x1="471.80" y1="751.20" x2="471.80" y2="753.90" stroke="#000" stroke-width="1.3"/>
<text x="471.80" y="762.70" font-size="9.6" text-anchor="middle" font-weight="normal" >300</text>
<text x="412.70" y="548.60" font-size="13.2" text-anchor="middle" font-weight="normal" >α-PD-1 + α-TIM3</text>
<text transform="translate(283.20,556.40) scale(1.08,1)" font-size="14.4" font-weight="bold">E</text>
<text transform="translate(293.20,656.80) rotate(-90)" font-size="12.7" text-anchor="middle" word-spacing="0.6">Tumor size (cm<tspan font-size="7.8" dy="-4.6">2</tspan><tspan dy="4.6">)</tspan></text>
<text x="330.10" y="778.40" font-size="13" text-anchor="start" font-weight="normal" word-spacing="1.6">Days after MCA inoculation</text>
<path d="M363.34,730.54 L366.68,723.43 L370.02,717.03 L373.36,709.70 L376.70,704.00 L380.04,715.80 L383.38,727.60 L386.72,739.40 L390.06,751.20 L394.10,751.20 L397.44,751.20 L400.78,751.20 L404.12,751.20 L407.46,751.20 L410.80,751.20 L414.14,751.20 L417.48,751.20 L420.82,751.20 L424.16,751.20 L427.50,751.20 L430.84,751.20 L434.18,751.20 L437.52,751.20 L440.86,751.20 L444.20,751.20" fill="none" stroke="#000" stroke-width="1.35" stroke-linejoin="round"/>
<path d="M361.59,731.85 L363.34,728.61 L365.09,731.85Z" fill="#fff" stroke="#000" stroke-width="1.15" stroke-linejoin="miter"/>
<path d="M364.93,724.74 L366.68,721.51 L368.43,724.74Z" fill="#fff" stroke="#000" stroke-width="1.15" stroke-linejoin="miter"/>
<path d="M368.27,718.34 L370.02,715.10 L371.77,718.34Z" fill="#fff" stroke="#000" stroke-width="1.15" stroke-linejoin="miter"/>
<path d="M371.61,711.01 L373.36,707.77 L375.11,711.01Z" fill="#fff" stroke="#000" stroke-width="1.15" stroke-linejoin="miter"/>
<path d="M374.95,705.31 L376.70,702.08 L378.45,705.31Z" fill="#fff" stroke="#000" stroke-width="1.15" stroke-linejoin="miter"/>
<path d="M378.29,717.11 L380.04,713.88 L381.79,717.11Z" fill="#fff" stroke="#000" stroke-width="1.15" stroke-linejoin="miter"/>
<path d="M381.63,728.91 L383.38,725.68 L385.13,728.91Z" fill="#fff" stroke="#000" stroke-width="1.15" stroke-linejoin="miter"/>
<path d="M384.97,740.71 L386.72,737.48 L388.47,740.71Z" fill="#fff" stroke="#000" stroke-width="1.15" stroke-linejoin="miter"/>
<path d="M388.31,752.51 L390.06,749.28 L391.81,752.51Z" fill="#fff" stroke="#000" stroke-width="1.15" stroke-linejoin="miter"/>
<path d="M392.35,752.51 L394.10,749.28 L395.85,752.51Z" fill="#fff" stroke="#000" stroke-width="1.15" stroke-linejoin="miter"/>
<path d="M395.69,752.51 L397.44,749.28 L399.19,752.51Z" fill="#fff" stroke="#000" stroke-width="1.15" stroke-linejoin="miter"/>
<path d="M399.03,752.51 L400.78,749.28 L402.53,752.51Z" fill="#fff" stroke="#000" stroke-width="1.15" stroke-linejoin="miter"/>
<path d="M402.37,752.51 L404.12,749.28 L405.87,752.51Z" fill="#fff" stroke="#000" stroke-width="1.15" stroke-linejoin="miter"/>
<path d="M405.71,752.51 L407.46,749.28 L409.21,752.51Z" fill="#fff" stroke="#000" stroke-width="1.15" stroke-linejoin="miter"/>
<path d="M409.05,752.51 L410.80,749.28 L412.55,752.51Z" fill="#fff" stroke="#000" stroke-width="1.15" stroke-linejoin="miter"/>
<path d="M412.39,752.51 L414.14,749.28 L415.89,752.51Z" fill="#fff" stroke="#000" stroke-width="1.15" stroke-linejoin="miter"/>
<path d="M415.73,752.51 L417.48,749.28 L419.23,752.51Z" fill="#fff" stroke="#000" stroke-width="1.15" stroke-linejoin="miter"/>
<path d="M419.07,752.51 L420.82,749.28 L422.57,752.51Z" fill="#fff" stroke="#000" stroke-width="1.15" stroke-linejoin="miter"/>
<path d="M422.41,752.51 L424.16,749.28 L425.91,752.51Z" fill="#fff" stroke="#000" stroke-width="1.15" stroke-linejoin="miter"/>
<path d="M425.75,752.51 L427.50,749.28 L429.25,752.51Z" fill="#fff" stroke="#000" stroke-width="1.15" stroke-linejoin="miter"/>
<path d="M429.09,752.51 L430.84,749.28 L432.59,752.51Z" fill="#fff" stroke="#000" stroke-width="1.15" stroke-linejoin="miter"/>
<path d="M432.43,752.51 L434.18,749.28 L435.93,752.51Z" fill="#fff" stroke="#000" stroke-width="1.15" stroke-linejoin="miter"/>
<path d="M435.77,752.51 L437.52,749.28 L439.27,752.51Z" fill="#fff" stroke="#000" stroke-width="1.15" stroke-linejoin="miter"/>
<path d="M439.11,752.51 L440.86,749.28 L442.61,752.51Z" fill="#fff" stroke="#000" stroke-width="1.15" stroke-linejoin="miter"/>
<path d="M442.45,752.51 L444.20,749.28 L445.95,752.51Z" fill="#fff" stroke="#000" stroke-width="1.15" stroke-linejoin="miter"/>
<path d="M367.64,731.96 L370.98,723.69 L374.32,713.38 L377.66,706.39 L381.00,700.00 L384.34,707.31 L387.68,714.63 L391.02,721.94 L394.36,729.26 L397.70,736.57 L401.04,743.89 L404.38,751.20 L407.30,751.20 L410.64,751.20 L413.98,751.20 L417.32,751.20 L420.66,751.20 L424.00,751.20 L427.34,751.20 L430.68,751.20 L434.02,751.20 L437.36,751.20 L440.70,751.20 L444.04,751.20" fill="none" stroke="#000" stroke-width="1.35" stroke-linejoin="round"/>
<path d="M452.30,751.20 L455.64,751.20 L458.98,751.20 L462.32,751.20 L465.66,751.20 L469.00,751.20 L472.34,751.20 L475.68,751.20 L479.02,751.20" fill="none" stroke="#000" stroke-width="1.35" stroke-linejoin="round"/>
<path d="M365.89,733.27 L367.64,730.03 L369.39,733.27Z" fill="#fff" stroke="#000" stroke-width="1.15" stroke-linejoin="miter"/>
<path d="M369.23,725.01 L370.98,721.77 L372.73,725.01Z" fill="#fff" stroke="#000" stroke-width="1.15" stroke-linejoin="miter"/>
<path d="M372.57,714.69 L374.32,711.46 L376.07,714.69Z" fill="#fff" stroke="#000" stroke-width="1.15" stroke-linejoin="miter"/>
<path d="M375.91,707.70 L377.66,704.46 L379.41,707.70Z" fill="#fff" stroke="#000" stroke-width="1.15" stroke-linejoin="miter"/>
<path d="M379.25,701.31 L381.00,698.08 L382.75,701.31Z" fill="#fff" stroke="#000" stroke-width="1.15" stroke-linejoin="miter"/>
<path d="M382.59,708.63 L384.34,705.39 L386.09,708.63Z" fill="#fff" stroke="#000" stroke-width="1.15" stroke-linejoin="miter"/>
<path d="M385.93,715.94 L387.68,712.70 L389.43,715.94Z" fill="#fff" stroke="#000" stroke-width="1.15" stroke-linejoin="miter"/>
<path d="M389.27,723.26 L391.02,720.02 L392.77,723.26Z" fill="#fff" stroke="#000" stroke-width="1.15" stroke-linejoin="miter"/>
<path d="M392.61,730.57 L394.36,727.33 L396.11,730.57Z" fill="#fff" stroke="#000" stroke-width="1.15" stroke-linejoin="miter"/>
<path d="M395.95,737.88 L397.70,734.65 L399.45,737.88Z" fill="#fff" stroke="#000" stroke-width="1.15" stroke-linejoin="miter"/>
<path d="M399.29,745.20 L401.04,741.96 L402.79,745.20Z" fill="#fff" stroke="#000" stroke-width="1.15" stroke-linejoin="miter"/>
<path d="M402.63,752.51 L404.38,749.28 L406.13,752.51Z" fill="#fff" stroke="#000" stroke-width="1.15" stroke-linejoin="miter"/>
<path d="M405.55,752.51 L407.30,749.28 L409.05,752.51Z" fill="#fff" stroke="#000" stroke-width="1.15" stroke-linejoin="miter"/>
<path d="M408.89,752.51 L410.64,749.28 L412.39,752.51Z" fill="#fff" stroke="#000" stroke-width="1.15" stroke-linejoin="miter"/>
<path d="M412.23,752.51 L413.98,749.28 L415.73,752.51Z" fill="#fff" stroke="#000" stroke-width="1.15" stroke-linejoin="miter"/>
<path d="M415.57,752.51 L417.32,749.28 L419.07,752.51Z" fill="#fff" stroke="#000" stroke-width="1.15" stroke-linejoin="miter"/>
<path d="M418.91,752.51 L420.66,749.28 L422.41,752.51Z" fill="#fff" stroke="#000" stroke-width="1.15" stroke-linejoin="miter"/>
<path d="M422.25,752.51 L424.00,749.28 L425.75,752.51Z" fill="#fff" stroke="#000" stroke-width="1.15" stroke-linejoin="miter"/>
<path d="M425.59,752.51 L427.34,749.28 L429.09,752.51Z" fill="#fff" stroke="#000" stroke-width="1.15" stroke-linejoin="miter"/>
<path d="M428.93,752.51 L430.68,749.28 L432.43,752.51Z" fill="#fff" stroke="#000" stroke-width="1.15" stroke-linejoin="miter"/>
<path d="M432.27,752.51 L434.02,749.28 L435.77,752.51Z" fill="#fff" stroke="#000" stroke-width="1.15" stroke-linejoin="miter"/>
<path d="M435.61,752.51 L437.36,749.28 L439.11,752.51Z" fill="#fff" stroke="#000" stroke-width="1.15" stroke-linejoin="miter"/>
<path d="M438.95,752.51 L440.70,749.28 L442.45,752.51Z" fill="#fff" stroke="#000" stroke-width="1.15" stroke-linejoin="miter"/>
<path d="M442.29,752.51 L444.04,749.28 L445.79,752.51Z" fill="#fff" stroke="#000" stroke-width="1.15" stroke-linejoin="miter"/>
<path d="M450.55,752.51 L452.30,749.28 L454.05,752.51Z" fill="#fff" stroke="#000" stroke-width="1.15" stroke-linejoin="miter"/>
<path d="M453.89,752.51 L455.64,749.28 L457.39,752.51Z" fill="#fff" stroke="#000" stroke-width="1.15" stroke-linejoin="miter"/>
<path d="M457.23,752.51 L458.98,749.28 L460.73,752.51Z" fill="#fff" stroke="#000" stroke-width="1.15" stroke-linejoin="miter"/>
<path d="M460.57,752.51 L462.32,749.28 L464.07,752.51Z" fill="#fff" stroke="#000" stroke-width="1.15" stroke-linejoin="miter"/>
<path d="M463.91,752.51 L465.66,749.28 L467.41,752.51Z" fill="#fff" stroke="#000" stroke-width="1.15" stroke-linejoin="miter"/>
<path d="M467.25,752.51 L469.00,749.28 L470.75,752.51Z" fill="#fff" stroke="#000" stroke-width="1.15" stroke-linejoin="miter"/>
<path d="M470.59,752.51 L472.34,749.28 L474.09,752.51Z" fill="#fff" stroke="#000" stroke-width="1.15" stroke-linejoin="miter"/>
<path d="M473.93,752.51 L475.68,749.28 L477.43,752.51Z" fill="#fff" stroke="#000" stroke-width="1.15" stroke-linejoin="miter"/>
<path d="M477.27,752.51 L479.02,749.28 L480.77,752.51Z" fill="#fff" stroke="#000" stroke-width="1.15" stroke-linejoin="miter"/>
<path d="M370.64,731.34 L373.98,726.44 L377.32,723.85 L380.66,721.25 L384.00,718.00 L387.34,726.30 L390.68,734.60 L394.02,742.90 L397.36,751.20 L399.80,751.20 L403.14,751.20 L406.48,751.20 L409.82,751.20 L413.16,751.20 L416.50,751.20 L419.84,751.20 L423.18,751.20 L426.52,751.20 L429.86,751.20 L433.20,751.20 L436.54,751.20 L439.88,751.20 L443.22,751.20" fill="none" stroke="#000" stroke-width="1.35" stroke-linejoin="round"/>
<path d="M452.30,751.20 L455.64,751.20 L458.98,751.20 L462.32,751.20 L465.66,751.20 L469.00,751.20 L472.34,751.20 L475.68,751.20 L479.02,751.20" fill="none" stroke="#000" stroke-width="1.35" stroke-linejoin="round"/>
<path d="M368.89,732.65 L370.64,729.42 L372.39,732.65Z" fill="#fff" stroke="#000" stroke-width="1.15" stroke-linejoin="miter"/>
<path d="M372.23,727.75 L373.98,724.51 L375.73,727.75Z" fill="#fff" stroke="#000" stroke-width="1.15" stroke-linejoin="miter"/>
<path d="M375.57,725.16 L377.32,721.93 L379.07,725.16Z" fill="#fff" stroke="#000" stroke-width="1.15" stroke-linejoin="miter"/>
<path d="M378.91,722.56 L380.66,719.33 L382.41,722.56Z" fill="#fff" stroke="#000" stroke-width="1.15" stroke-linejoin="miter"/>
<path d="M382.25,719.31 L384.00,716.08 L385.75,719.31Z" fill="#fff" stroke="#000" stroke-width="1.15" stroke-linejoin="miter"/>
<path d="M385.59,727.61 L387.34,724.38 L389.09,727.61Z" fill="#fff" stroke="#000" stroke-width="1.15" stroke-linejoin="miter"/>
<path d="M388.93,735.91 L390.68,732.68 L392.43,735.91Z" fill="#fff" stroke="#000" stroke-width="1.15" stroke-linejoin="miter"/>
<path d="M392.27,744.21 L394.02,740.98 L395.77,744.21Z" fill="#fff" stroke="#000" stroke-width="1.15" stroke-linejoin="miter"/>
<path d="M395.61,752.51 L397.36,749.28 L399.11,752.51Z" fill="#fff" stroke="#000" stroke-width="1.15" stroke-linejoin="miter"/>
<path d="M398.05,752.51 L399.80,749.28 L401.55,752.51Z" fill="#fff" stroke="#000" stroke-width="1.15" stroke-linejoin="miter"/>
<path d="M401.39,752.51 L403.14,749.28 L404.89,752.51Z" fill="#fff" stroke="#000" stroke-width="1.15" stroke-linejoin="miter"/>
<path d="M404.73,752.51 L406.48,749.28 L408.23,752.51Z" fill="#fff" stroke="#000" stroke-width="1.15" stroke-linejoin="miter"/>
<path d="M408.07,752.51 L409.82,749.28 L411.57,752.51Z" fill="#fff" stroke="#000" stroke-width="1.15" stroke-linejoin="miter"/>
<path d="M411.41,752.51 L413.16,749.28 L414.91,752.51Z" fill="#fff" stroke="#000" stroke-width="1.15" stroke-linejoin="miter"/>
<path d="M414.75,752.51 L416.50,749.28 L418.25,752.51Z" fill="#fff" stroke="#000" stroke-width="1.15" stroke-linejoin="miter"/>
<path d="M418.09,752.51 L419.84,749.28 L421.59,752.51Z" fill="#fff" stroke="#000" stroke-width="1.15" stroke-linejoin="miter"/>
<path d="M421.43,752.51 L423.18,749.28 L424.93,752.51Z" fill="#fff" stroke="#000" stroke-width="1.15" stroke-linejoin="miter"/>
<path d="M424.77,752.51 L426.52,749.28 L428.27,752.51Z" fill="#fff" stroke="#000" stroke-width="1.15" stroke-linejoin="miter"/>
<path d="M428.11,752.51 L429.86,749.28 L431.61,752.51Z" fill="#fff" stroke="#000" stroke-width="1.15" stroke-linejoin="miter"/>
<path d="M431.45,752.51 L433.20,749.28 L434.95,752.51Z" fill="#fff" stroke="#000" stroke-width="1.15" stroke-linejoin="miter"/>
<path d="M434.79,752.51 L436.54,749.28 L438.29,752.51Z" fill="#fff" stroke="#000" stroke-width="1.15" stroke-linejoin="miter"/>
<path d="M438.13,752.51 L439.88,749.28 L441.63,752.51Z" fill="#fff" stroke="#000" stroke-width="1.15" stroke-linejoin="miter"/>
<path d="M441.47,752.51 L443.22,749.28 L444.97,752.51Z" fill="#fff" stroke="#000" stroke-width="1.15" stroke-linejoin="miter"/>
<path d="M450.55,752.51 L452.30,749.28 L454.05,752.51Z" fill="#fff" stroke="#000" stroke-width="1.15" stroke-linejoin="miter"/>
<path d="M453.89,752.51 L455.64,749.28 L457.39,752.51Z" fill="#fff" stroke="#000" stroke-width="1.15" stroke-linejoin="miter"/>
<path d="M457.23,752.51 L458.98,749.28 L460.73,752.51Z" fill="#fff" stroke="#000" stroke-width="1.15" stroke-linejoin="miter"/>
<path d="M460.57,752.51 L462.32,749.28 L464.07,752.51Z" fill="#fff" stroke="#000" stroke-width="1.15" stroke-linejoin="miter"/>
<path d="M463.91,752.51 L465.66,749.28 L467.41,752.51Z" fill="#fff" stroke="#000" stroke-width="1.15" stroke-linejoin="miter"/>
<path d="M467.25,752.51 L469.00,749.28 L470.75,752.51Z" fill="#fff" stroke="#000" stroke-width="1.15" stroke-linejoin="miter"/>
<path d="M470.59,752.51 L472.34,749.28 L474.09,752.51Z" fill="#fff" stroke="#000" stroke-width="1.15" stroke-linejoin="miter"/>
<path d="M473.93,752.51 L475.68,749.28 L477.43,752.51Z" fill="#fff" stroke="#000" stroke-width="1.15" stroke-linejoin="miter"/>
<path d="M477.27,752.51 L479.02,749.28 L480.77,752.51Z" fill="#fff" stroke="#000" stroke-width="1.15" stroke-linejoin="miter"/>
<path d="M364.94,732.50 L368.28,721.78 L371.62,713.06 L374.96,702.09 L378.30,692.60 L381.64,677.79 L384.98,661.37 L388.32,642.65 L391.66,626.06 L395.00,607.50" fill="none" stroke="#000" stroke-width="1.35" stroke-linejoin="round"/>
<path d="M363.19,733.81 L364.94,730.58 L366.69,733.81Z" fill="#fff" stroke="#000" stroke-width="1.15" stroke-linejoin="miter"/>
<path d="M366.53,723.09 L368.28,719.85 L370.03,723.09Z" fill="#fff" stroke="#000" stroke-width="1.15" stroke-linejoin="miter"/>
<path d="M369.87,714.37 L371.62,711.13 L373.37,714.37Z" fill="#fff" stroke="#000" stroke-width="1.15" stroke-linejoin="miter"/>
<path d="M373.21,703.40 L374.96,700.17 L376.71,703.40Z" fill="#fff" stroke="#000" stroke-width="1.15" stroke-linejoin="miter"/>
<path d="M376.55,693.91 L378.30,690.67 L380.05,693.91Z" fill="#fff" stroke="#000" stroke-width="1.15" stroke-linejoin="miter"/>
<path d="M379.89,679.10 L381.64,675.86 L383.39,679.10Z" fill="#fff" stroke="#000" stroke-width="1.15" stroke-linejoin="miter"/>
<path d="M383.23,662.68 L384.98,659.45 L386.73,662.68Z" fill="#fff" stroke="#000" stroke-width="1.15" stroke-linejoin="miter"/>
<path d="M386.57,643.96 L388.32,640.73 L390.07,643.96Z" fill="#fff" stroke="#000" stroke-width="1.15" stroke-linejoin="miter"/>
<path d="M389.91,627.37 L391.66,624.14 L393.41,627.37Z" fill="#fff" stroke="#000" stroke-width="1.15" stroke-linejoin="miter"/>
<path d="M393.25,608.81 L395.00,605.58 L396.75,608.81Z" fill="#fff" stroke="#000" stroke-width="1.15" stroke-linejoin="miter"/>
<path d="M368.44,733.00 L371.78,721.42 L375.12,710.94 L378.46,700.23 L381.80,690.20 L385.14,676.33 L388.48,658.61 L391.82,641.85 L395.16,625.60 L398.50,607.50" fill="none" stroke="#000" stroke-width="1.35" stroke-linejoin="round"/>
<path d="M366.69,734.31 L368.44,731.08 L370.19,734.31Z" fill="#fff" stroke="#000" stroke-width="1.15" stroke-linejoin="miter"/>
<path d="M370.03,722.74 L371.78,719.50 L373.53,722.74Z" fill="#fff" stroke="#000" stroke-width="1.15" stroke-linejoin="miter"/>
<path d="M373.37,712.25 L375.12,709.02 L376.87,712.25Z" fill="#fff" stroke="#000" stroke-width="1.15" stroke-linejoin="miter"/>
<path d="M376.71,701.55 L378.46,698.31 L380.21,701.55Z" fill="#fff" stroke="#000" stroke-width="1.15" stroke-linejoin="miter"/>
<path d="M380.05,691.51 L381.80,688.27 L383.55,691.51Z" fill="#fff" stroke="#000" stroke-width="1.15" stroke-linejoin="miter"/>
<path d="M383.39,677.64 L385.14,674.40 L386.89,677.64Z" fill="#fff" stroke="#000" stroke-width="1.15" stroke-linejoin="miter"/>
<path d="M386.73,659.92 L388.48,656.68 L390.23,659.92Z" fill="#fff" stroke="#000" stroke-width="1.15" stroke-linejoin="miter"/>
<path d="M390.07,643.16 L391.82,639.92 L393.57,643.16Z" fill="#fff" stroke="#000" stroke-width="1.15" stroke-linejoin="miter"/>
<path d="M393.41,626.91 L395.16,623.67 L396.91,626.91Z" fill="#fff" stroke="#000" stroke-width="1.15" stroke-linejoin="miter"/>
<path d="M396.75,608.81 L398.50,605.58 L400.25,608.81Z" fill="#fff" stroke="#000" stroke-width="1.15" stroke-linejoin="miter"/>
<path d="M371.84,732.00 L375.18,722.54 L378.52,711.65 L381.86,702.29 L385.20,691.41 L388.54,677.49 L391.88,661.23 L395.22,642.44 L398.56,626.49 L401.90,607.50" fill="none" stroke="#000" stroke-width="1.35" stroke-linejoin="round"/>
<path d="M370.09,733.31 L371.84,730.08 L373.59,733.31Z" fill="#fff" stroke="#000" stroke-width="1.15" stroke-linejoin="miter"/>
<path d="M373.43,723.85 L375.18,720.61 L376.93,723.85Z" fill="#fff" stroke="#000" stroke-width="1.15" stroke-linejoin="miter"/>
<path d="M376.77,712.96 L378.52,709.72 L380.27,712.96Z" fill="#fff" stroke="#000" stroke-width="1.15" stroke-linejoin="miter"/>
<path d="M380.11,703.61 L381.86,700.37 L383.61,703.61Z" fill="#fff" stroke="#000" stroke-width="1.15" stroke-linejoin="miter"/>
<path d="M383.45,692.72 L385.20,689.48 L386.95,692.72Z" fill="#fff" stroke="#000" stroke-width="1.15" stroke-linejoin="miter"/>
<path d="M386.79,678.81 L388.54,675.57 L390.29,678.81Z" fill="#fff" stroke="#000" stroke-width="1.15" stroke-linejoin="miter"/>
<path d="M390.13,662.54 L391.88,659.30 L393.63,662.54Z" fill="#fff" stroke="#000" stroke-width="1.15" stroke-linejoin="miter"/>
<path d="M393.47,643.75 L395.22,640.52 L396.97,643.75Z" fill="#fff" stroke="#000" stroke-width="1.15" stroke-linejoin="miter"/>
<path d="M396.81,627.81 L398.56,624.57 L400.31,627.81Z" fill="#fff" stroke="#000" stroke-width="1.15" stroke-linejoin="miter"/>
<path d="M400.15,608.81 L401.90,605.58 L403.65,608.81Z" fill="#fff" stroke="#000" stroke-width="1.15" stroke-linejoin="miter"/>
<path d="M368.02,732.50 L371.36,724.82 L374.70,717.53 L378.04,710.35 L381.38,703.14 L384.72,695.77 L388.06,687.13 L391.40,677.06 L394.74,662.87 L398.08,645.38 L401.42,629.75 L404.76,613.93 L408.10,596.90" fill="none" stroke="#000" stroke-width="1.35" stroke-linejoin="round"/>
<path d="M366.27,733.81 L368.02,730.58 L369.77,733.81Z" fill="#fff" stroke="#000" stroke-width="1.15" stroke-linejoin="miter"/>
<path d="M369.61,726.14 L371.36,722.90 L373.11,726.14Z" fill="#fff" stroke="#000" stroke-width="1.15" stroke-linejoin="miter"/>
<path d="M372.95,718.84 L374.70,715.60 L376.45,718.84Z" fill="#fff" stroke="#000" stroke-width="1.15" stroke-linejoin="miter"/>
<path d="M376.29,711.66 L378.04,708.43 L379.79,711.66Z" fill="#fff" stroke="#000" stroke-width="1.15" stroke-linejoin="miter"/>
<path d="M379.63,704.45 L381.38,701.21 L383.13,704.45Z" fill="#fff" stroke="#000" stroke-width="1.15" stroke-linejoin="miter"/>
<path d="M382.97,697.08 L384.72,693.84 L386.47,697.08Z" fill="#fff" stroke="#000" stroke-width="1.15" stroke-linejoin="miter"/>
<path d="M386.31,688.44 L388.06,685.21 L389.81,688.44Z" fill="#fff" stroke="#000" stroke-width="1.15" stroke-linejoin="miter"/>
<path d="M389.65,678.37 L391.40,675.13 L393.15,678.37Z" fill="#fff" stroke="#000" stroke-width="1.15" stroke-linejoin="miter"/>
<path d="M392.99,664.19 L394.74,660.95 L396.49,664.19Z" fill="#fff" stroke="#000" stroke-width="1.15" stroke-linejoin="miter"/>
<path d="M396.33,646.69 L398.08,643.45 L399.83,646.69Z" fill="#fff" stroke="#000" stroke-width="1.15" stroke-linejoin="miter"/>
<path d="M399.67,631.07 L401.42,627.83 L403.17,631.07Z" fill="#fff" stroke="#000" stroke-width="1.15" stroke-linejoin="miter"/>
<path d="M403.01,615.24 L404.76,612.00 L406.51,615.24Z" fill="#fff" stroke="#000" stroke-width="1.15" stroke-linejoin="miter"/>
<path d="M406.35,598.21 L408.10,594.98 L409.85,598.21Z" fill="#fff" stroke="#000" stroke-width="1.15" stroke-linejoin="miter"/>
<path d="M368.68,733.00 L372.02,726.92 L375.36,719.22 L378.70,711.67 L382.04,704.31 L385.38,695.66 L388.72,689.17 L392.06,680.44 L395.40,668.79 L398.74,652.39 L402.08,637.36 L405.42,621.99 L408.76,606.98 L412.10,590.60" fill="none" stroke="#000" stroke-width="1.35" stroke-linejoin="round"/>
<path d="M366.93,734.31 L368.68,731.08 L370.43,734.31Z" fill="#fff" stroke="#000" stroke-width="1.15" stroke-linejoin="miter"/>
<path d="M370.27,728.23 L372.02,724.99 L373.77,728.23Z" fill="#fff" stroke="#000" stroke-width="1.15" stroke-linejoin="miter"/>
<path d="M373.61,720.53 L375.36,717.30 L377.11,720.53Z" fill="#fff" stroke="#000" stroke-width="1.15" stroke-linejoin="miter"/>
<path d="M376.95,712.98 L378.70,709.75 L380.45,712.98Z" fill="#fff" stroke="#000" stroke-width="1.15" stroke-linejoin="miter"/>
<path d="M380.29,705.62 L382.04,702.39 L383.79,705.62Z" fill="#fff" stroke="#000" stroke-width="1.15" stroke-linejoin="miter"/>
<path d="M383.63,696.97 L385.38,693.73 L387.13,696.97Z" fill="#fff" stroke="#000" stroke-width="1.15" stroke-linejoin="miter"/>
<path d="M386.97,690.48 L388.72,687.25 L390.47,690.48Z" fill="#fff" stroke="#000" stroke-width="1.15" stroke-linejoin="miter"/>
<path d="M390.31,681.75 L392.06,678.51 L393.81,681.75Z" fill="#fff" stroke="#000" stroke-width="1.15" stroke-linejoin="miter"/>
<path d="M393.65,670.10 L395.40,666.87 L397.15,670.10Z" fill="#fff" stroke="#000" stroke-width="1.15" stroke-linejoin="miter"/>
<path d="M396.99,653.70 L398.74,650.47 L400.49,653.70Z" fill="#fff" stroke="#000" stroke-width="1.15" stroke-linejoin="miter"/>
<path d="M400.33,638.67 L402.08,635.43 L403.83,638.67Z" fill="#fff" stroke="#000" stroke-width="1.15" stroke-linejoin="miter"/>
<path d="M403.67,623.30 L405.42,620.07 L407.17,623.30Z" fill="#fff" stroke="#000" stroke-width="1.15" stroke-linejoin="miter"/>
<path d="M407.01,608.29 L408.76,605.05 L410.51,608.29Z" fill="#fff" stroke="#000" stroke-width="1.15" stroke-linejoin="miter"/>
<path d="M410.35,591.91 L412.10,588.68 L413.85,591.91Z" fill="#fff" stroke="#000" stroke-width="1.15" stroke-linejoin="miter"/>
<path d="M372.18,732.00 L375.52,726.20 L378.86,719.10 L382.20,711.42 L385.54,706.30 L388.88,700.04 L392.22,692.60 L395.56,685.38 L398.90,676.44 L402.24,661.68 L405.58,646.94 L408.92,631.49 L412.26,614.25 L415.60,598.10" fill="none" stroke="#000" stroke-width="1.35" stroke-linejoin="round"/>
<path d="M370.43,733.31 L372.18,730.08 L373.93,733.31Z" fill="#fff" stroke="#000" stroke-width="1.15" stroke-linejoin="miter"/>
<path d="M373.77,727.51 L375.52,724.27 L377.27,727.51Z" fill="#fff" stroke="#000" stroke-width="1.15" stroke-linejoin="miter"/>
<path d="M377.11,720.41 L378.86,717.17 L380.61,720.41Z" fill="#fff" stroke="#000" stroke-width="1.15" stroke-linejoin="miter"/>
<path d="M380.45,712.74 L382.20,709.50 L383.95,712.74Z" fill="#fff" stroke="#000" stroke-width="1.15" stroke-linejoin="miter"/>
<path d="M383.79,707.61 L385.54,704.37 L387.29,707.61Z" fill="#fff" stroke="#000" stroke-width="1.15" stroke-linejoin="miter"/>
<path d="M387.13,701.35 L388.88,698.12 L390.63,701.35Z" fill="#fff" stroke="#000" stroke-width="1.15" stroke-linejoin="miter"/>
<path d="M390.47,693.92 L392.22,690.68 L393.97,693.92Z" fill="#fff" stroke="#000" stroke-width="1.15" stroke-linejoin="miter"/>
<path d="M393.81,686.70 L395.56,683.46 L397.31,686.70Z" fill="#fff" stroke="#000" stroke-width="1.15" stroke-linejoin="miter"/>
<path d="M397.15,677.75 L398.90,674.51 L400.65,677.75Z" fill="#fff" stroke="#000" stroke-width="1.15" stroke-linejoin="miter"/>
<path d="M400.49,662.99 L402.24,659.76 L403.99,662.99Z" fill="#fff" stroke="#000" stroke-width="1.15" stroke-linejoin="miter"/>
<path d="M403.83,648.26 L405.58,645.02 L407.33,648.26Z" fill="#fff" stroke="#000" stroke-width="1.15" stroke-linejoin="miter"/>
<path d="M407.17,632.80 L408.92,629.56 L410.67,632.80Z" fill="#fff" stroke="#000" stroke-width="1.15" stroke-linejoin="miter"/>
<path d="M410.51,615.56 L412.26,612.32 L414.01,615.56Z" fill="#fff" stroke="#000" stroke-width="1.15" stroke-linejoin="miter"/>
<path d="M413.85,599.41 L415.60,596.18 L417.35,599.41Z" fill="#fff" stroke="#000" stroke-width="1.15" stroke-linejoin="miter"/>
<path d="M375.33,733.00 L378.67,727.34 L382.01,721.44 L385.35,713.73 L388.69,709.34 L392.03,702.40 L395.37,695.19 L398.71,688.73 L402.05,681.51 L405.39,670.70 L408.73,655.63 L412.07,638.23 L415.41,623.15 L418.75,605.60" fill="none" stroke="#000" stroke-width="1.35" stroke-linejoin="round"/>
<path d="M373.58,734.31 L375.33,731.08 L377.08,734.31Z" fill="#fff" stroke="#000" stroke-width="1.15" stroke-linejoin="miter"/>
<path d="M376.92,728.65 L378.67,725.41 L380.42,728.65Z" fill="#fff" stroke="#000" stroke-width="1.15" stroke-linejoin="miter"/>
<path d="M380.26,722.75 L382.01,719.52 L383.76,722.75Z" fill="#fff" stroke="#000" stroke-width="1.15" stroke-linejoin="miter"/>
<path d="M383.60,715.04 L385.35,711.80 L387.10,715.04Z" fill="#fff" stroke="#000" stroke-width="1.15" stroke-linejoin="miter"/>
<path d="M386.94,710.65 L388.69,707.42 L390.44,710.65Z" fill="#fff" stroke="#000" stroke-width="1.15" stroke-linejoin="miter"/>
<path d="M390.28,703.71 L392.03,700.47 L393.78,703.71Z" fill="#fff" stroke="#000" stroke-width="1.15" stroke-linejoin="miter"/>
<path d="M393.62,696.50 L395.37,693.26 L397.12,696.50Z" fill="#fff" stroke="#000" stroke-width="1.15" stroke-linejoin="miter"/>
<path d="M396.96,690.04 L398.71,686.80 L400.46,690.04Z" fill="#fff" stroke="#000" stroke-width="1.15" stroke-linejoin="miter"/>
<path d="M400.30,682.83 L402.05,679.59 L403.80,682.83Z" fill="#fff" stroke="#000" stroke-width="1.15" stroke-linejoin="miter"/>
<path d="M403.64,672.01 L405.39,668.78 L407.14,672.01Z" fill="#fff" stroke="#000" stroke-width="1.15" stroke-linejoin="miter"/>
<path d="M406.98,656.95 L408.73,653.71 L410.48,656.95Z" fill="#fff" stroke="#000" stroke-width="1.15" stroke-linejoin="miter"/>
<path d="M410.32,639.54 L412.07,636.31 L413.82,639.54Z" fill="#fff" stroke="#000" stroke-width="1.15" stroke-linejoin="miter"/>
<path d="M413.66,624.46 L415.41,621.22 L417.16,624.46Z" fill="#fff" stroke="#000" stroke-width="1.15" stroke-linejoin="miter"/>
<path d="M417.00,606.91 L418.75,603.68 L420.50,606.91Z" fill="#fff" stroke="#000" stroke-width="1.15" stroke-linejoin="miter"/>
<path d="M365.28,732.50 L368.62,728.00 L371.96,724.08 L375.30,719.10 L378.64,716.98 L381.98,710.80 L385.32,708.48 L388.66,703.45 L392.00,699.33 L395.34,695.16 L398.68,690.29 L402.02,687.67 L405.36,682.53 L408.70,672.69 L412.04,658.07 L415.38,641.06 L418.72,626.89 L422.06,609.75 L425.40,594.40" fill="none" stroke="#000" stroke-width="1.35" stroke-linejoin="round"/>
<path d="M363.53,733.81 L365.28,730.58 L367.03,733.81Z" fill="#fff" stroke="#000" stroke-width="1.15" stroke-linejoin="miter"/>
<path d="M366.87,729.31 L368.62,726.08 L370.37,729.31Z" fill="#fff" stroke="#000" stroke-width="1.15" stroke-linejoin="miter"/>
<path d="M370.21,725.39 L371.96,722.16 L373.71,725.39Z" fill="#fff" stroke="#000" stroke-width="1.15" stroke-linejoin="miter"/>
<path d="M373.55,720.42 L375.30,717.18 L377.05,720.42Z" fill="#fff" stroke="#000" stroke-width="1.15" stroke-linejoin="miter"/>
<path d="M376.89,718.29 L378.64,715.05 L380.39,718.29Z" fill="#fff" stroke="#000" stroke-width="1.15" stroke-linejoin="miter"/>
<path d="M380.23,712.11 L381.98,708.88 L383.73,712.11Z" fill="#fff" stroke="#000" stroke-width="1.15" stroke-linejoin="miter"/>
<path d="M383.57,709.79 L385.32,706.56 L387.07,709.79Z" fill="#fff" stroke="#000" stroke-width="1.15" stroke-linejoin="miter"/>
<path d="M386.91,704.76 L388.66,701.52 L390.41,704.76Z" fill="#fff" stroke="#000" stroke-width="1.15" stroke-linejoin="miter"/>
<path d="M390.25,700.64 L392.00,697.40 L393.75,700.64Z" fill="#fff" stroke="#000" stroke-width="1.15" stroke-linejoin="miter"/>
<path d="M393.59,696.47 L395.34,693.24 L397.09,696.47Z" fill="#fff" stroke="#000" stroke-width="1.15" stroke-linejoin="miter"/>
<path d="M396.93,691.60 L398.68,688.36 L400.43,691.60Z" fill="#fff" stroke="#000" stroke-width="1.15" stroke-linejoin="miter"/>
<path d="M400.27,688.98 L402.02,685.74 L403.77,688.98Z" fill="#fff" stroke="#000" stroke-width="1.15" stroke-linejoin="miter"/>
<path d="M403.61,683.85 L405.36,680.61 L407.11,683.85Z" fill="#fff" stroke="#000" stroke-width="1.15" stroke-linejoin="miter"/>
<path d="M406.95,674.00 L408.70,670.76 L410.45,674.00Z" fill="#fff" stroke="#000" stroke-width="1.15" stroke-linejoin="miter"/>
<path d="M410.29,659.38 L412.04,656.14 L413.79,659.38Z" fill="#fff" stroke="#000" stroke-width="1.15" stroke-linejoin="miter"/>
<path d="M413.63,642.37 L415.38,639.14 L417.13,642.37Z" fill="#fff" stroke="#000" stroke-width="1.15" stroke-linejoin="miter"/>
<path d="M416.97,628.20 L418.72,624.97 L420.47,628.20Z" fill="#fff" stroke="#000" stroke-width="1.15" stroke-linejoin="miter"/>
<path d="M420.31,611.06 L422.06,607.82 L423.81,611.06Z" fill="#fff" stroke="#000" stroke-width="1.15" stroke-linejoin="miter"/>
<path d="M423.65,595.71 L425.40,592.48 L427.15,595.71Z" fill="#fff" stroke="#000" stroke-width="1.15" stroke-linejoin="miter"/>
<path d="M367.00,732.50 L370.30,726.00 L373.70,719.00 L377.00,712.00 L380.40,709.00 L383.70,713.00 L387.00,720.00 L390.40,727.00 L394.00,732.00 L396.20,716.00 L399.50,709.60 L402.70,703.00 L406.00,697.00 L409.20,691.00 L412.20,683.40 L415.25,674.40 L418.75,660.00 L422.50,649.40 L425.60,639.40 L429.00,625.60 L432.50,606.90" fill="none" stroke="#000" stroke-width="1.35" stroke-linejoin="round"/>
<path d="M365.25,733.81 L367.00,730.58 L368.75,733.81Z" fill="#fff" stroke="#000" stroke-width="1.15" stroke-linejoin="miter"/>
<path d="M368.55,727.31 L370.30,724.08 L372.05,727.31Z" fill="#fff" stroke="#000" stroke-width="1.15" stroke-linejoin="miter"/>
<path d="M371.95,720.31 L373.70,717.08 L375.45,720.31Z" fill="#fff" stroke="#000" stroke-width="1.15" stroke-linejoin="miter"/>
<path d="M375.25,713.31 L377.00,710.08 L378.75,713.31Z" fill="#fff" stroke="#000" stroke-width="1.15" stroke-linejoin="miter"/>
<path d="M378.65,710.31 L380.40,707.08 L382.15,710.31Z" fill="#fff" stroke="#000" stroke-width="1.15" stroke-linejoin="miter"/>
<path d="M381.95,714.31 L383.70,711.08 L385.45,714.31Z" fill="#fff" stroke="#000" stroke-width="1.15" stroke-linejoin="miter"/>
<path d="M385.25,721.31 L387.00,718.08 L388.75,721.31Z" fill="#fff" stroke="#000" stroke-width="1.15" stroke-linejoin="miter"/>
<path d="M388.65,728.31 L390.40,725.08 L392.15,728.31Z" fill="#fff" stroke="#000" stroke-width="1.15" stroke-linejoin="miter"/>
<path d="M392.25,733.31 L394.00,730.08 L395.75,733.31Z" fill="#fff" stroke="#000" stroke-width="1.15" stroke-linejoin="miter"/>
<path d="M394.45,717.31 L396.20,714.08 L397.95,717.31Z" fill="#fff" stroke="#000" stroke-width="1.15" stroke-linejoin="miter"/>
<path d="M397.75,710.91 L399.50,707.68 L401.25,710.91Z" fill="#fff" stroke="#000" stroke-width="1.15" stroke-linejoin="miter"/>
<path d="M400.95,704.31 L402.70,701.08 L404.45,704.31Z" fill="#fff" stroke="#000" stroke-width="1.15" stroke-linejoin="miter"/>
<path d="M404.25,698.31 L406.00,695.08 L407.75,698.31Z" fill="#fff" stroke="#000" stroke-width="1.15" stroke-linejoin="miter"/>
<path d="M407.45,692.31 L409.20,689.08 L410.95,692.31Z" fill="#fff" stroke="#000" stroke-width="1.15" stroke-linejoin="miter"/>
<path d="M410.45,684.71 L412.20,681.48 L413.95,684.71Z" fill="#fff" stroke="#000" stroke-width="1.15" stroke-linejoin="miter"/>
<path d="M413.50,675.71 L415.25,672.48 L417.00,675.71Z" fill="#fff" stroke="#000" stroke-width="1.15" stroke-linejoin="miter"/>
<path d="M417.00,661.31 L418.75,658.08 L420.50,661.31Z" fill="#fff" stroke="#000" stroke-width="1.15" stroke-linejoin="miter"/>
<path d="M420.75,650.71 L422.50,647.48 L424.25,650.71Z" fill="#fff" stroke="#000" stroke-width="1.15" stroke-linejoin="miter"/>
<path d="M423.85,640.71 L425.60,637.48 L427.35,640.71Z" fill="#fff" stroke="#000" stroke-width="1.15" stroke-linejoin="miter"/>
<path d="M427.25,626.91 L429.00,623.68 L430.75,626.91Z" fill="#fff" stroke="#000" stroke-width="1.15" stroke-linejoin="miter"/>
<path d="M430.75,608.21 L432.50,604.98 L434.25,608.21Z" fill="#fff" stroke="#000" stroke-width="1.15" stroke-linejoin="miter"/>
<path d="M366.50,733.49 L369.84,727.43 L373.18,723.85 L376.52,720.28 L379.86,714.15 L383.20,711.00 L386.54,715.47 L389.88,719.93 L393.22,724.40 L396.56,728.87 L399.90,733.33 L403.24,737.80 L406.58,742.27 L409.92,746.73 L413.26,751.20 L415.10,747.00 L418.40,742.00 L421.70,734.00 L425.00,727.00 L428.30,716.00 L431.60,705.60 L434.90,692.00 L438.20,676.00 L441.50,659.80 L444.80,639.60 L448.10,620.00 L451.80,599.80" fill="none" stroke="#000" stroke-width="1.35" stroke-linejoin="round"/>
<path d="M364.75,734.80 L366.50,731.56 L368.25,734.80Z" fill="#fff" stroke="#000" stroke-width="1.15" stroke-linejoin="miter"/>
<path d="M368.09,728.74 L369.84,725.50 L371.59,728.74Z" fill="#fff" stroke="#000" stroke-width="1.15" stroke-linejoin="miter"/>
<path d="M371.43,725.16 L373.18,721.92 L374.93,725.16Z" fill="#fff" stroke="#000" stroke-width="1.15" stroke-linejoin="miter"/>
<path d="M374.77,721.59 L376.52,718.35 L378.27,721.59Z" fill="#fff" stroke="#000" stroke-width="1.15" stroke-linejoin="miter"/>
<path d="M378.11,715.46 L379.86,712.22 L381.61,715.46Z" fill="#fff" stroke="#000" stroke-width="1.15" stroke-linejoin="miter"/>
<path d="M381.45,712.31 L383.20,709.08 L384.95,712.31Z" fill="#fff" stroke="#000" stroke-width="1.15" stroke-linejoin="miter"/>
<path d="M384.79,716.78 L386.54,713.54 L388.29,716.78Z" fill="#fff" stroke="#000" stroke-width="1.15" stroke-linejoin="miter"/>
<path d="M388.13,721.25 L389.88,718.01 L391.63,721.25Z" fill="#fff" stroke="#000" stroke-width="1.15" stroke-linejoin="miter"/>
<path d="M391.47,725.71 L393.22,722.48 L394.97,725.71Z" fill="#fff" stroke="#000" stroke-width="1.15" stroke-linejoin="miter"/>
<path d="M394.81,730.18 L396.56,726.94 L398.31,730.18Z" fill="#fff" stroke="#000" stroke-width="1.15" stroke-linejoin="miter"/>
<path d="M398.15,734.65 L399.90,731.41 L401.65,734.65Z" fill="#fff" stroke="#000" stroke-width="1.15" stroke-linejoin="miter"/>
<path d="M401.49,739.11 L403.24,735.88 L404.99,739.11Z" fill="#fff" stroke="#000" stroke-width="1.15" stroke-linejoin="miter"/>
<path d="M404.83,743.58 L406.58,740.34 L408.33,743.58Z" fill="#fff" stroke="#000" stroke-width="1.15" stroke-linejoin="miter"/>
<path d="M408.17,748.05 L409.92,744.81 L411.67,748.05Z" fill="#fff" stroke="#000" stroke-width="1.15" stroke-linejoin="miter"/>
<path d="M411.51,752.51 L413.26,749.28 L415.01,752.51Z" fill="#fff" stroke="#000" stroke-width="1.15" stroke-linejoin="miter"/>
<path d="M413.35,748.31 L415.10,745.08 L416.85,748.31Z" fill="#fff" stroke="#000" stroke-width="1.15" stroke-linejoin="miter"/>
<path d="M416.65,743.31 L418.40,740.08 L420.15,743.31Z" fill="#fff" stroke="#000" stroke-width="1.15" stroke-linejoin="miter"/>
<path d="M419.95,735.31 L421.70,732.08 L423.45,735.31Z" fill="#fff" stroke="#000" stroke-width="1.15" stroke-linejoin="miter"/>
<path d="M423.25,728.31 L425.00,725.08 L426.75,728.31Z" fill="#fff" stroke="#000" stroke-width="1.15" stroke-linejoin="miter"/>
<path d="M426.55,717.31 L428.30,714.08 L430.05,717.31Z" fill="#fff" stroke="#000" stroke-width="1.15" stroke-linejoin="miter"/>
<path d="M429.85,706.91 L431.60,703.68 L433.35,706.91Z" fill="#fff" stroke="#000" stroke-width="1.15" stroke-linejoin="miter"/>
<path d="M433.15,693.31 L434.90,690.08 L436.65,693.31Z" fill="#fff" stroke="#000" stroke-width="1.15" stroke-linejoin="miter"/>
<path d="M436.45,677.31 L438.20,674.08 L439.95,677.31Z" fill="#fff" stroke="#000" stroke-width="1.15" stroke-linejoin="miter"/>
<path d="M439.75,661.11 L441.50,657.88 L443.25,661.11Z" fill="#fff" stroke="#000" stroke-width="1.15" stroke-linejoin="miter"/>
<path d="M443.05,640.91 L444.80,637.68 L446.55,640.91Z" fill="#fff" stroke="#000" stroke-width="1.15" stroke-linejoin="miter"/>
<path d="M446.35,621.31 L448.10,618.08 L449.85,621.31Z" fill="#fff" stroke="#000" stroke-width="1.15" stroke-linejoin="miter"/>
<path d="M450.05,601.11 L451.80,597.88 L453.55,601.11Z" fill="#fff" stroke="#000" stroke-width="1.15" stroke-linejoin="miter"/>
<path d="M368.94,731.74 L372.28,724.80 L375.62,719.76 L378.96,715.54 L382.30,712.00 L385.64,719.84 L388.98,727.68 L392.32,735.52 L395.66,743.36 L399.00,751.20 L402.30,751.20 L405.64,751.20 L408.98,751.20 L412.32,751.20 L415.66,751.20 L419.00,751.20 L422.34,751.20 L425.68,751.20 L429.02,751.20 L431.30,744.00 L434.60,739.00 L438.00,735.00 L441.30,730.00 L444.60,723.00 L447.30,706.00 L449.50,680.00 L452.30,651.70 L455.80,628.80 L459.00,607.30" fill="none" stroke="#000" stroke-width="1.35" stroke-linejoin="round"/>
<path d="M367.19,733.05 L368.94,729.81 L370.69,733.05Z" fill="#fff" stroke="#000" stroke-width="1.15" stroke-linejoin="miter"/>
<path d="M370.53,726.11 L372.28,722.87 L374.03,726.11Z" fill="#fff" stroke="#000" stroke-width="1.15" stroke-linejoin="miter"/>
<path d="M373.87,721.07 L375.62,717.83 L377.37,721.07Z" fill="#fff" stroke="#000" stroke-width="1.15" stroke-linejoin="miter"/>
<path d="M377.21,716.86 L378.96,713.62 L380.71,716.86Z" fill="#fff" stroke="#000" stroke-width="1.15" stroke-linejoin="miter"/>
<path d="M380.55,713.31 L382.30,710.08 L384.05,713.31Z" fill="#fff" stroke="#000" stroke-width="1.15" stroke-linejoin="miter"/>
<path d="M383.89,721.15 L385.64,717.92 L387.39,721.15Z" fill="#fff" stroke="#000" stroke-width="1.15" stroke-linejoin="miter"/>
<path d="M387.23,728.99 L388.98,725.76 L390.73,728.99Z" fill="#fff" stroke="#000" stroke-width="1.15" stroke-linejoin="miter"/>
<path d="M390.57,736.83 L392.32,733.60 L394.07,736.83Z" fill="#fff" stroke="#000" stroke-width="1.15" stroke-linejoin="miter"/>
<path d="M393.91,744.67 L395.66,741.44 L397.41,744.67Z" fill="#fff" stroke="#000" stroke-width="1.15" stroke-linejoin="miter"/>
<path d="M397.25,752.51 L399.00,749.28 L400.75,752.51Z" fill="#fff" stroke="#000" stroke-width="1.15" stroke-linejoin="miter"/>
<path d="M400.55,752.51 L402.30,749.28 L404.05,752.51Z" fill="#fff" stroke="#000" stroke-width="1.15" stroke-linejoin="miter"/>
<path d="M403.89,752.51 L405.64,749.28 L407.39,752.51Z" fill="#fff" stroke="#000" stroke-width="1.15" stroke-linejoin="miter"/>
<path d="M407.23,752.51 L408.98,749.28 L410.73,752.51Z" fill="#fff" stroke="#000" stroke-width="1.15" stroke-linejoin="miter"/>
<path d="M410.57,752.51 L412.32,749.28 L414.07,752.51Z" fill="#fff" stroke="#000" stroke-width="1.15" stroke-linejoin="miter"/>
<path d="M413.91,752.51 L415.66,749.28 L417.41,752.51Z" fill="#fff" stroke="#000" stroke-width="1.15" stroke-linejoin="miter"/>
<path d="M417.25,752.51 L419.00,749.28 L420.75,752.51Z" fill="#fff" stroke="#000" stroke-width="1.15" stroke-linejoin="miter"/>
<path d="M420.59,752.51 L422.34,749.28 L424.09,752.51Z" fill="#fff" stroke="#000" stroke-width="1.15" stroke-linejoin="miter"/>
<path d="M423.93,752.51 L425.68,749.28 L427.43,752.51Z" fill="#fff" stroke="#000" stroke-width="1.15" stroke-linejoin="miter"/>
<path d="M427.27,752.51 L429.02,749.28 L430.77,752.51Z" fill="#fff" stroke="#000" stroke-width="1.15" stroke-linejoin="miter"/>
<path d="M429.55,745.31 L431.30,742.08 L433.05,745.31Z" fill="#fff" stroke="#000" stroke-width="1.15" stroke-linejoin="miter"/>
<path d="M432.85,740.31 L434.60,737.08 L436.35,740.31Z" fill="#fff" stroke="#000" stroke-width="1.15" stroke-linejoin="miter"/>
<path d="M436.25,736.31 L438.00,733.08 L439.75,736.31Z" fill="#fff" stroke="#000" stroke-width="1.15" stroke-linejoin="miter"/>
<path d="M439.55,731.31 L441.30,728.08 L443.05,731.31Z" fill="#fff" stroke="#000" stroke-width="1.15" stroke-linejoin="miter"/>
<path d="M442.85,724.31 L444.60,721.08 L446.35,724.31Z" fill="#fff" stroke="#000" stroke-width="1.15" stroke-linejoin="miter"/>
<path d="M445.55,707.31 L447.30,704.08 L449.05,707.31Z" fill="#fff" stroke="#000" stroke-width="1.15" stroke-linejoin="miter"/>
<path d="M447.75,681.31 L449.50,678.08 L451.25,681.31Z" fill="#fff" stroke="#000" stroke-width="1.15" stroke-linejoin="miter"/>
<path d="M450.55,653.01 L452.30,649.78 L454.05,653.01Z" fill="#fff" stroke="#000" stroke-width="1.15" stroke-linejoin="miter"/>
<path d="M454.05,630.11 L455.80,626.88 L457.55,630.11Z" fill="#fff" stroke="#000" stroke-width="1.15" stroke-linejoin="miter"/>
<path d="M457.25,608.61 L459.00,605.38 L460.75,608.61Z" fill="#fff" stroke="#000" stroke-width="1.15" stroke-linejoin="miter"/>
<path d="M367.98,733.94 L371.32,728.21 L374.66,721.26 L378.00,715.00 L381.34,722.24 L384.68,729.48 L388.02,736.72 L391.36,743.96 L394.70,751.20 L397.00,751.20 L400.34,751.20 L403.68,751.20 L407.02,751.20 L410.36,751.20 L413.70,751.20 L417.04,751.20 L420.38,751.20 L423.72,751.20 L427.06,751.20 L430.40,751.20 L433.74,751.20 L437.08,751.20 L440.42,751.20 L442.90,736.50 L446.20,727.00 L449.50,716.40 L452.80,703.00 L455.80,690.80 L459.00,674.60 L462.50,658.00 L466.30,641.00 L469.80,620.80 L473.00,592.50" fill="none" stroke="#000" stroke-width="1.35" stroke-linejoin="round"/>
<path d="M366.23,735.25 L367.98,732.01 L369.73,735.25Z" fill="#fff" stroke="#000" stroke-width="1.15" stroke-linejoin="miter"/>
<path d="M369.57,729.52 L371.32,726.28 L373.07,729.52Z" fill="#fff" stroke="#000" stroke-width="1.15" stroke-linejoin="miter"/>
<path d="M372.91,722.58 L374.66,719.34 L376.41,722.58Z" fill="#fff" stroke="#000" stroke-width="1.15" stroke-linejoin="miter"/>
<path d="M376.25,716.31 L378.00,713.08 L379.75,716.31Z" fill="#fff" stroke="#000" stroke-width="1.15" stroke-linejoin="miter"/>
<path d="M379.59,723.55 L381.34,720.32 L383.09,723.55Z" fill="#fff" stroke="#000" stroke-width="1.15" stroke-linejoin="miter"/>
<path d="M382.93,730.79 L384.68,727.56 L386.43,730.79Z" fill="#fff" stroke="#000" stroke-width="1.15" stroke-linejoin="miter"/>
<path d="M386.27,738.03 L388.02,734.80 L389.77,738.03Z" fill="#fff" stroke="#000" stroke-width="1.15" stroke-linejoin="miter"/>
<path d="M389.61,745.27 L391.36,742.04 L393.11,745.27Z" fill="#fff" stroke="#000" stroke-width="1.15" stroke-linejoin="miter"/>
<path d="M392.95,752.51 L394.70,749.28 L396.45,752.51Z" fill="#fff" stroke="#000" stroke-width="1.15" stroke-linejoin="miter"/>
<path d="M395.25,752.51 L397.00,749.28 L398.75,752.51Z" fill="#fff" stroke="#000" stroke-width="1.15" stroke-linejoin="miter"/>
<path d="M398.59,752.51 L400.34,749.28 L402.09,752.51Z" fill="#fff" stroke="#000" stroke-width="1.15" stroke-linejoin="miter"/>
<path d="M401.93,752.51 L403.68,749.28 L405.43,752.51Z" fill="#fff" stroke="#000" stroke-width="1.15" stroke-linejoin="miter"/>
<path d="M405.27,752.51 L407.02,749.28 L408.77,752.51Z" fill="#fff" stroke="#000" stroke-width="1.15" stroke-linejoin="miter"/>
<path d="M408.61,752.51 L410.36,749.28 L412.11,752.51Z" fill="#fff" stroke="#000" stroke-width="1.15" stroke-linejoin="miter"/>
<path d="M411.95,752.51 L413.70,749.28 L415.45,752.51Z" fill="#fff" stroke="#000" stroke-width="1.15" stroke-linejoin="miter"/>
<path d="M415.29,752.51 L417.04,749.28 L418.79,752.51Z" fill="#fff" stroke="#000" stroke-width="1.15" stroke-linejoin="miter"/>
<path d="M418.63,752.51 L420.38,749.28 L422.13,752.51Z" fill="#fff" stroke="#000" stroke-width="1.15" stroke-linejoin="miter"/>
<path d="M421.97,752.51 L423.72,749.28 L425.47,752.51Z" fill="#fff" stroke="#000" stroke-width="1.15" stroke-linejoin="miter"/>
<path d="M425.31,752.51 L427.06,749.28 L428.81,752.51Z" fill="#fff" stroke="#000" stroke-width="1.15" stroke-linejoin="miter"/>
<path d="M428.65,752.51 L430.40,749.28 L432.15,752.51Z" fill="#fff" stroke="#000" stroke-width="1.15" stroke-linejoin="miter"/>
<path d="M431.99,752.51 L433.74,749.28 L435.49,752.51Z" fill="#fff" stroke="#000" stroke-width="1.15" stroke-linejoin="miter"/>
<path d="M435.33,752.51 L437.08,749.28 L438.83,752.51Z" fill="#fff" stroke="#000" stroke-width="1.15" stroke-linejoin="miter"/>
<path d="M438.67,752.51 L440.42,749.28 L442.17,752.51Z" fill="#fff" stroke="#000" stroke-width="1.15" stroke-linejoin="miter"/>
<path d="M441.15,737.81 L442.90,734.58 L444.65,737.81Z" fill="#fff" stroke="#000" stroke-width="1.15" stroke-linejoin="miter"/>
<path d="M444.45,728.31 L446.20,725.08 L447.95,728.31Z" fill="#fff" stroke="#000" stroke-width="1.15" stroke-linejoin="miter"/>
<path d="M447.75,717.71 L449.50,714.48 L451.25,717.71Z" fill="#fff" stroke="#000" stroke-width="1.15" stroke-linejoin="miter"/>
<path d="M451.05,704.31 L452.80,701.08 L454.55,704.31Z" fill="#fff" stroke="#000" stroke-width="1.15" stroke-linejoin="miter"/>
<path d="M454.05,692.11 L455.80,688.88 L457.55,692.11Z" fill="#fff" stroke="#000" stroke-width="1.15" stroke-linejoin="miter"/>
<path d="M457.25,675.91 L459.00,672.68 L460.75,675.91Z" fill="#fff" stroke="#000" stroke-width="1.15" stroke-linejoin="miter"/>
<path d="M460.75,659.31 L462.50,656.08 L464.25,659.31Z" fill="#fff" stroke="#000" stroke-width="1.15" stroke-linejoin="miter"/>
<path d="M464.55,642.31 L466.30,639.08 L468.05,642.31Z" fill="#fff" stroke="#000" stroke-width="1.15" stroke-linejoin="miter"/>
<path d="M468.05,622.11 L469.80,618.88 L471.55,622.11Z" fill="#fff" stroke="#000" stroke-width="1.15" stroke-linejoin="miter"/>
<path d="M471.25,593.81 L473.00,590.58 L474.75,593.81Z" fill="#fff" stroke="#000" stroke-width="1.15" stroke-linejoin="miter"/>
</svg>
</div>
</body></html>
